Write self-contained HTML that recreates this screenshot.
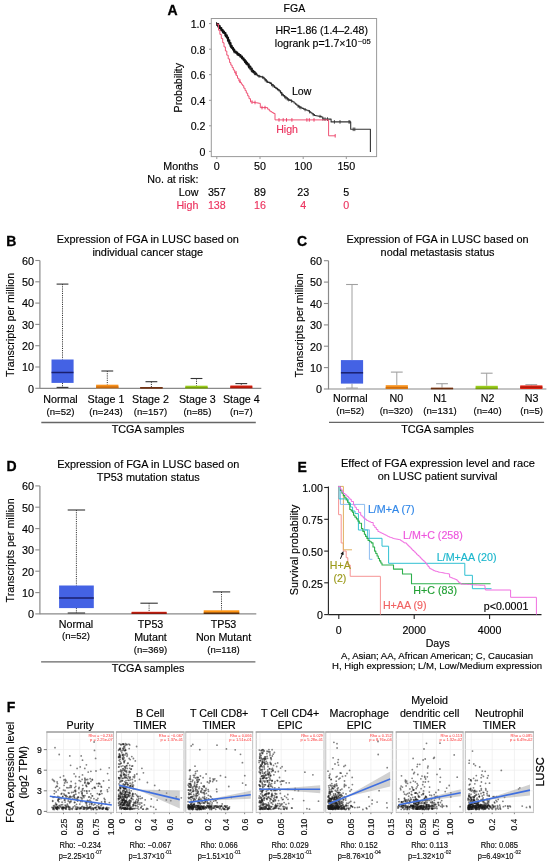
<!DOCTYPE html>
<html><head><meta charset="utf-8"><style>
html,body{margin:0;padding:0;background:#fff;}
svg{display:block;will-change:transform;}
text{font-family:"Liberation Sans",sans-serif;}
</style></head><body>
<svg width="550" height="865" viewBox="0 0 550 865" font-family="Liberation Sans, sans-serif">
<rect width="550" height="865" fill="#fff"/>
<text x="167.6" y="15.0" font-size="14" text-anchor="start" fill="#000" font-weight="bold" stroke="#000" stroke-width="0.3">A</text>
<text x="294.4" y="12.2" font-size="10.5" text-anchor="middle" fill="#000" stroke="#000" stroke-width="0.15" >FGA</text>
<rect x="211.3" y="18.5" width="165.3" height="138.1" fill="none" stroke="#9a9a9a" stroke-width="1"/>
<line x1="209.0" y1="23.6" x2="211.3" y2="23.6" stroke="#9a9a9a" stroke-width="1" />
<text x="205.4" y="28.1" font-size="10.6" text-anchor="end" fill="#000" stroke="#000" stroke-width="0.15" >1.0</text>
<line x1="209.0" y1="49.2" x2="211.3" y2="49.2" stroke="#9a9a9a" stroke-width="1" />
<text x="205.4" y="53.7" font-size="10.6" text-anchor="end" fill="#000" stroke="#000" stroke-width="0.15" >0.8</text>
<line x1="209.0" y1="74.7" x2="211.3" y2="74.7" stroke="#9a9a9a" stroke-width="1" />
<text x="205.4" y="79.2" font-size="10.6" text-anchor="end" fill="#000" stroke="#000" stroke-width="0.15" >0.6</text>
<line x1="209.0" y1="100.3" x2="211.3" y2="100.3" stroke="#9a9a9a" stroke-width="1" />
<text x="205.4" y="104.8" font-size="10.6" text-anchor="end" fill="#000" stroke="#000" stroke-width="0.15" >0.4</text>
<line x1="209.0" y1="125.8" x2="211.3" y2="125.8" stroke="#9a9a9a" stroke-width="1" />
<text x="205.4" y="130.3" font-size="10.6" text-anchor="end" fill="#000" stroke="#000" stroke-width="0.15" >0.2</text>
<line x1="209.0" y1="151.4" x2="211.3" y2="151.4" stroke="#9a9a9a" stroke-width="1" />
<text x="205.4" y="155.9" font-size="10.6" text-anchor="end" fill="#000" stroke="#000" stroke-width="0.15" >0</text>
<line x1="216.8" y1="156.6" x2="216.8" y2="159.0" stroke="#9a9a9a" stroke-width="1" />
<text x="216.8" y="170.3" font-size="10.7" text-anchor="middle" fill="#000" stroke="#000" stroke-width="0.15" >0</text>
<line x1="260.0" y1="156.6" x2="260.0" y2="159.0" stroke="#9a9a9a" stroke-width="1" />
<text x="260.0" y="170.3" font-size="10.7" text-anchor="middle" fill="#000" stroke="#000" stroke-width="0.15" >50</text>
<line x1="303.2" y1="156.6" x2="303.2" y2="159.0" stroke="#9a9a9a" stroke-width="1" />
<text x="303.2" y="170.3" font-size="10.7" text-anchor="middle" fill="#000" stroke="#000" stroke-width="0.15" >100</text>
<line x1="346.3" y1="156.6" x2="346.3" y2="159.0" stroke="#9a9a9a" stroke-width="1" />
<text x="346.3" y="170.3" font-size="10.7" text-anchor="middle" fill="#000" stroke="#000" stroke-width="0.15" >150</text>
<text transform="translate(178.3,87.7) rotate(-90)" x="0" y="0" font-size="10.6" text-anchor="middle" dominant-baseline="central" fill="#000" stroke="#000" stroke-width="0.15" >Probability</text>
<text x="275.4" y="33.8" font-size="10.5" text-anchor="start" fill="#000" stroke="#000" stroke-width="0.15" >HR=1.86 (1.4&#8211;2.48)</text>
<text x="274.8" y="46.5" font-size="10.6" text-anchor="start" fill="#000" stroke="#000" stroke-width="0.15" >logrank p=1.7&#215;10<tspan font-size="7.6" dx="0.6" dy="-3.0">&#8722;05</tspan></text>
<text x="198.4" y="170.2" font-size="10.7" text-anchor="end" fill="#000" stroke="#000" stroke-width="0.15" >Months</text>
<text x="198.4" y="183.1" font-size="10.7" text-anchor="end" fill="#000" stroke="#000" stroke-width="0.15" >No. at risk:</text>
<text x="198.4" y="196.1" font-size="10.7" text-anchor="end" fill="#000" stroke="#000" stroke-width="0.15" >Low</text>
<text x="198.4" y="208.9" font-size="10.7" text-anchor="end" fill="#ec3560" stroke="#ec3560" stroke-width="0.15" >High</text>
<text x="216.8" y="196.1" font-size="10.7" text-anchor="middle" fill="#000" stroke="#000" stroke-width="0.15" >357</text>
<text x="216.8" y="208.9" font-size="10.7" text-anchor="middle" fill="#ec3560" stroke="#ec3560" stroke-width="0.15" >138</text>
<text x="260.0" y="196.1" font-size="10.7" text-anchor="middle" fill="#000" stroke="#000" stroke-width="0.15" >89</text>
<text x="260.0" y="208.9" font-size="10.7" text-anchor="middle" fill="#ec3560" stroke="#ec3560" stroke-width="0.15" >16</text>
<text x="303.2" y="196.1" font-size="10.7" text-anchor="middle" fill="#000" stroke="#000" stroke-width="0.15" >23</text>
<text x="303.2" y="208.9" font-size="10.7" text-anchor="middle" fill="#ec3560" stroke="#ec3560" stroke-width="0.15" >4</text>
<text x="346.3" y="196.1" font-size="10.7" text-anchor="middle" fill="#000" stroke="#000" stroke-width="0.15" >5</text>
<text x="346.3" y="208.9" font-size="10.7" text-anchor="middle" fill="#ec3560" stroke="#ec3560" stroke-width="0.15" >0</text>
<text x="291.9" y="94.9" font-size="10.6" text-anchor="start" fill="#000" stroke="#000" stroke-width="0.15" >Low</text>
<text x="276.2" y="133.0" font-size="10.6" text-anchor="start" fill="#ec3560" stroke="#ec3560" stroke-width="0.15" >High</text>
<polyline points="216.6,24.0 218.2,24.0 218.2,26.1 219.7,26.1 219.7,28.1 221.3,28.1 221.3,30.2 222.7,30.2 222.7,31.6 224.0,31.6 224.0,33.0 225.4,33.0 225.4,35.3 226.8,35.3 226.8,37.6 228.0,37.6 228.0,40.4 229.3,40.4 229.3,43.1 230.5,43.1 230.5,45.9 231.7,45.9 231.7,47.8 233.0,47.8 233.0,49.6 234.2,49.6 234.2,51.5 235.8,51.5 235.8,52.7 237.3,52.7 237.3,54.0 238.9,54.0 238.9,55.2 240.4,55.2 240.4,56.7 242.0,56.7 242.0,58.3 243.5,58.3 243.5,59.8 244.7,59.8 244.7,61.3 246.0,61.3 246.0,62.9 247.2,62.9 247.2,64.4 248.7,64.4 248.7,66.6 250.3,66.6 250.3,68.7 251.8,68.7 251.8,70.9 253.3,70.9 253.3,72.2 254.7,72.2 254.7,73.6 256.2,73.6 256.2,74.9" fill="none" stroke="#111" stroke-width="2.2" stroke-linejoin="round" />
<polyline points="256.2,73.6 256.2,74.9 257.6,74.9 257.6,75.7 259.1,75.7 259.1,76.4 260.9,76.4 260.9,76.9 262.7,76.9 262.7,77.4 264.0,77.4 264.0,78.8 265.2,78.8 265.2,80.0 266.4,80.0 266.4,81.1 267.6,81.1 267.6,82.3 270.0,82.3 270.0,83.2 271.5,83.2 271.5,84.6 273.0,84.6 273.0,85.9 274.5,85.9 274.5,87.3 276.0,87.3 276.0,88.5 277.6,88.5 277.6,89.7 279.1,89.7 279.1,90.9 280.5,90.9 280.5,92.7 281.8,92.7 281.8,94.5 283.2,94.5 283.2,95.7 284.6,95.7 284.6,96.8 285.9,96.8 285.9,97.9 287.3,97.9 287.3,99.1 288.6,99.1 288.6,99.8 290.0,99.8 290.0,100.4 291.4,100.4 291.4,101.1" fill="none" stroke="#2a2a2a" stroke-width="1.35" stroke-linejoin="round" />
<polyline points="290.0,99.8 290.0,100.4 291.4,100.4 291.4,101.1 292.7,101.1 292.7,101.8 294.1,101.8 294.1,103.0 295.4,103.0 295.4,104.1 296.8,104.1 296.8,105.2 298.2,105.2 298.2,106.4 299.6,106.4 299.6,107.1 300.9,107.1 300.9,107.8 302.2,107.8 302.2,108.4 303.6,108.4 303.6,109.1 305.1,109.1 305.1,109.7 306.7,109.7 306.7,110.3 308.2,110.3 308.2,110.9 309.5,110.9 309.5,111.8 310.7,111.8 310.7,112.7 312.0,112.7 312.0,113.7 313.2,113.7 313.2,114.6 314.5,114.6 314.5,115.5 315.9,115.5 315.9,115.7 317.2,115.7 317.2,116.0 318.6,116.0 318.6,116.2 320.0,116.2 320.0,116.4 321.3,116.4 321.3,117.0 322.9,117.0 322.9,119.1 329.5,119.1 329.5,119.1 331.1,119.1 331.1,121.9 349.9,121.9 349.9,121.9 350.7,121.9 350.7,129.3 370.4,129.3 370.4,129.3 370.4,129.3 370.4,151.9" fill="none" stroke="#333" stroke-width="1.1" stroke-linejoin="round" />
<line x1="250.3" y1="67.1" x2="250.3" y2="70.3" stroke="#333" stroke-width="0.8" />
<line x1="251.8" y1="69.3" x2="251.8" y2="72.5" stroke="#333" stroke-width="0.8" />
<line x1="254.7" y1="72.0" x2="254.7" y2="75.2" stroke="#333" stroke-width="0.8" />
<line x1="259.1" y1="74.8" x2="259.1" y2="78.0" stroke="#333" stroke-width="0.8" />
<line x1="262.7" y1="75.8" x2="262.7" y2="79.0" stroke="#333" stroke-width="0.8" />
<line x1="265.2" y1="78.4" x2="265.2" y2="81.6" stroke="#333" stroke-width="0.8" />
<line x1="266.4" y1="79.5" x2="266.4" y2="82.7" stroke="#333" stroke-width="0.8" />
<line x1="271.5" y1="83.0" x2="271.5" y2="86.2" stroke="#333" stroke-width="0.8" />
<line x1="273.0" y1="84.3" x2="273.0" y2="87.5" stroke="#333" stroke-width="0.8" />
<line x1="281.8" y1="92.9" x2="281.8" y2="96.1" stroke="#333" stroke-width="0.8" />
<line x1="284.6" y1="95.2" x2="284.6" y2="98.4" stroke="#333" stroke-width="0.8" />
<line x1="285.9" y1="96.3" x2="285.9" y2="99.5" stroke="#333" stroke-width="0.8" />
<line x1="287.3" y1="97.5" x2="287.3" y2="100.7" stroke="#333" stroke-width="0.8" />
<line x1="288.6" y1="98.2" x2="288.6" y2="101.4" stroke="#333" stroke-width="0.8" />
<line x1="291.4" y1="99.5" x2="291.4" y2="102.7" stroke="#333" stroke-width="0.8" />
<line x1="298.2" y1="104.8" x2="298.2" y2="108.0" stroke="#333" stroke-width="0.8" />
<line x1="299.6" y1="105.5" x2="299.6" y2="108.7" stroke="#333" stroke-width="0.8" />
<line x1="300.9" y1="106.2" x2="300.9" y2="109.3" stroke="#333" stroke-width="0.8" />
<line x1="305.1" y1="108.1" x2="305.1" y2="111.3" stroke="#333" stroke-width="0.8" />
<line x1="309.5" y1="110.2" x2="309.5" y2="113.4" stroke="#333" stroke-width="0.8" />
<line x1="313.2" y1="113.0" x2="313.2" y2="116.2" stroke="#333" stroke-width="0.8" />
<line x1="320.0" y1="114.8" x2="320.0" y2="118.0" stroke="#333" stroke-width="0.8" />
<line x1="322.9" y1="117.5" x2="322.9" y2="120.7" stroke="#333" stroke-width="0.8" />
<line x1="349.9" y1="120.3" x2="349.9" y2="123.5" stroke="#333" stroke-width="0.8" />
<line x1="216.6" y1="22.2" x2="216.6" y2="25.8" stroke="#111" stroke-width="1" />
<line x1="218.2" y1="24.3" x2="218.2" y2="27.9" stroke="#111" stroke-width="1" />
<line x1="222.7" y1="29.8" x2="222.7" y2="33.4" stroke="#111" stroke-width="1" />
<line x1="225.4" y1="33.5" x2="225.4" y2="37.1" stroke="#111" stroke-width="1" />
<line x1="228.0" y1="38.6" x2="228.0" y2="42.2" stroke="#111" stroke-width="1" />
<line x1="229.3" y1="41.3" x2="229.3" y2="44.9" stroke="#111" stroke-width="1" />
<line x1="230.5" y1="44.1" x2="230.5" y2="47.7" stroke="#111" stroke-width="1" />
<line x1="234.2" y1="49.7" x2="234.2" y2="53.3" stroke="#111" stroke-width="1" />
<line x1="237.3" y1="52.2" x2="237.3" y2="55.8" stroke="#111" stroke-width="1" />
<line x1="244.7" y1="59.5" x2="244.7" y2="63.1" stroke="#111" stroke-width="1" />
<line x1="246.0" y1="61.1" x2="246.0" y2="64.7" stroke="#111" stroke-width="1" />
<line x1="248.7" y1="64.8" x2="248.7" y2="68.4" stroke="#111" stroke-width="1" />
<line x1="334.4" y1="120.1" x2="334.4" y2="123.7" stroke="#333" stroke-width="0.9" />
<line x1="340.0" y1="120.1" x2="340.0" y2="123.7" stroke="#333" stroke-width="0.9" />
<line x1="349.0" y1="120.1" x2="349.0" y2="123.7" stroke="#333" stroke-width="0.9" />
<line x1="353.2" y1="127.5" x2="353.2" y2="131.1" stroke="#333" stroke-width="0.9" />
<line x1="354.8" y1="127.5" x2="354.8" y2="131.1" stroke="#333" stroke-width="0.9" />
<line x1="325.0" y1="117.3" x2="325.0" y2="120.9" stroke="#333" stroke-width="0.9" />
<line x1="327.5" y1="117.3" x2="327.5" y2="120.9" stroke="#333" stroke-width="0.9" />
<polyline points="216.6,24.2 218.5,24.2 218.5,30.2 219.9,30.2 219.9,34.4 221.3,34.4 221.3,38.5 222.7,38.5 222.7,42.7 224.0,42.7 224.0,46.9 225.4,46.9 225.4,51.0 226.8,51.0 226.8,55.2 228.2,55.2 228.2,58.9 229.6,58.9 229.6,62.6 230.8,62.6 230.8,65.1 232.1,65.1 232.1,67.5 233.3,67.5 233.3,70.0 234.7,70.0 234.7,72.8 236.1,72.8 236.1,75.6 237.5,75.6 237.5,78.3 238.9,78.3 238.9,81.1 240.1,81.1 240.1,82.6 241.4,82.6 241.4,84.2 242.6,84.2 242.6,85.7 243.8,85.7 243.8,88.2 245.1,88.2 245.1,90.6 246.3,90.6 246.3,93.1 247.7,93.1 247.7,95.9 249.0,95.9 249.0,98.7 250.5,98.7 250.5,101.9 251.7,101.9 251.7,102.1 252.9,102.1 252.9,102.3 254.2,102.3 254.2,102.5 255.4,102.5 255.4,102.7 256.6,102.7 256.6,102.9 257.9,102.9 257.9,103.1 259.1,103.1 259.1,103.3 260.3,103.3 260.3,103.5 260.3,103.5 260.3,107.6 266.0,107.6 266.0,107.6 267.6,107.6 267.6,109.2 269.3,109.2 269.3,110.9 270.7,110.9 270.7,111.7 272.0,111.7 272.0,112.6 273.4,112.6 273.4,113.4 275.0,113.4 275.0,119.9 328.6,119.9 328.6,119.9 328.6,119.9 328.6,135.8 335.2,135.8 335.2,135.8" fill="none" stroke="#ee4a6e" stroke-width="0.95" stroke-linejoin="round" />
<line x1="279.0" y1="118.1" x2="279.0" y2="121.7" stroke="#ec3560" stroke-width="0.9" />
<line x1="283.2" y1="118.1" x2="283.2" y2="121.7" stroke="#ec3560" stroke-width="0.9" />
<line x1="286.5" y1="118.1" x2="286.5" y2="121.7" stroke="#ec3560" stroke-width="0.9" />
<line x1="291.9" y1="118.1" x2="291.9" y2="121.7" stroke="#ec3560" stroke-width="0.9" />
<line x1="306.9" y1="118.1" x2="306.9" y2="121.7" stroke="#ec3560" stroke-width="0.9" />
<line x1="309.3" y1="118.1" x2="309.3" y2="121.7" stroke="#ec3560" stroke-width="0.9" />
<line x1="314.0" y1="118.1" x2="314.0" y2="121.7" stroke="#ec3560" stroke-width="0.9" />
<line x1="255.0" y1="100.7" x2="255.0" y2="104.3" stroke="#ec3560" stroke-width="0.9" />
<line x1="252.0" y1="100.3" x2="252.0" y2="103.9" stroke="#ec3560" stroke-width="0.9" />
<line x1="236.0" y1="71.0" x2="236.0" y2="74.6" stroke="#ec3560" stroke-width="0.9" />
<line x1="240.0" y1="79.3" x2="240.0" y2="82.9" stroke="#ec3560" stroke-width="0.9" />
<line x1="262.0" y1="105.8" x2="262.0" y2="109.4" stroke="#ec3560" stroke-width="0.9" />
<line x1="265.0" y1="105.8" x2="265.0" y2="109.4" stroke="#ec3560" stroke-width="0.9" />
<line x1="335.2" y1="134.0" x2="335.2" y2="137.6" stroke="#ec3560" stroke-width="0.9" />
<text x="6.2" y="245.8" font-size="14" text-anchor="start" fill="#000" font-weight="bold" stroke="#000" stroke-width="0.3">B</text>
<text x="147.8" y="242.7" font-size="10.9" text-anchor="middle" fill="#000" stroke="#000" stroke-width="0.15" >Expression of FGA in LUSC based on</text>
<text x="147.8" y="255.6" font-size="10.9" text-anchor="middle" fill="#000" stroke="#000" stroke-width="0.15" >individual cancer stage</text>
<line x1="39.9" y1="260.5" x2="39.9" y2="388.6" stroke="#8a8a8a" stroke-width="1.2" />
<line x1="39.9" y1="388.3" x2="261.3" y2="388.3" stroke="#8a8a8a" stroke-width="1.2" />
<line x1="35.3" y1="388.3" x2="39.9" y2="388.3" stroke="#8a8a8a" stroke-width="1.1" />
<text x="33.9" y="392.6" font-size="10.8" text-anchor="end" fill="#000" stroke="#000" stroke-width="0.15" >0</text>
<line x1="35.3" y1="367.0" x2="39.9" y2="367.0" stroke="#8a8a8a" stroke-width="1.1" />
<text x="33.9" y="371.3" font-size="10.8" text-anchor="end" fill="#000" stroke="#000" stroke-width="0.15" >10</text>
<line x1="35.3" y1="345.7" x2="39.9" y2="345.7" stroke="#8a8a8a" stroke-width="1.1" />
<text x="33.9" y="350.0" font-size="10.8" text-anchor="end" fill="#000" stroke="#000" stroke-width="0.15" >20</text>
<line x1="35.3" y1="324.4" x2="39.9" y2="324.4" stroke="#8a8a8a" stroke-width="1.1" />
<text x="33.9" y="328.7" font-size="10.8" text-anchor="end" fill="#000" stroke="#000" stroke-width="0.15" >30</text>
<line x1="35.3" y1="303.1" x2="39.9" y2="303.1" stroke="#8a8a8a" stroke-width="1.1" />
<text x="33.9" y="307.4" font-size="10.8" text-anchor="end" fill="#000" stroke="#000" stroke-width="0.15" >40</text>
<line x1="35.3" y1="281.8" x2="39.9" y2="281.8" stroke="#8a8a8a" stroke-width="1.1" />
<text x="33.9" y="286.1" font-size="10.8" text-anchor="end" fill="#000" stroke="#000" stroke-width="0.15" >50</text>
<line x1="35.3" y1="260.5" x2="39.9" y2="260.5" stroke="#8a8a8a" stroke-width="1.1" />
<text x="33.9" y="264.8" font-size="10.8" text-anchor="end" fill="#000" stroke="#000" stroke-width="0.15" >60</text>
<text transform="translate(10.0,324.9) rotate(-90)" x="0" y="0" font-size="10.7" text-anchor="middle" dominant-baseline="central" fill="#000" stroke="#000" stroke-width="0.15" >Transcripts per million</text>
<line x1="62.5" y1="284.1" x2="62.5" y2="359.5" stroke="#333" stroke-width="1.0" stroke-dasharray="1.1,1.1"/>
<line x1="56.6" y1="284.1" x2="68.4" y2="284.1" stroke="#333" stroke-width="1.1" />
<line x1="62.5" y1="383.0" x2="62.5" y2="387.4" stroke="#333" stroke-width="1.0" stroke-dasharray="1.1,1.1"/>
<line x1="56.6" y1="387.4" x2="68.4" y2="387.4" stroke="#333" stroke-width="1.1" />
<rect x="51.5" y="359.5" width="22.1" height="23.4" fill="#4462e4" />
<line x1="51.5" y1="372.5" x2="73.5" y2="372.5" stroke="#1a1f6e" stroke-width="1.5" />
<line x1="107.3" y1="371.0" x2="107.3" y2="384.7" stroke="#333" stroke-width="1.0" stroke-dasharray="1.1,1.1"/>
<line x1="101.4" y1="371.0" x2="113.2" y2="371.0" stroke="#333" stroke-width="1.1" />
<rect x="96.1" y="384.7" width="22.3" height="3.6" fill="#f7901a" />
<line x1="96.1" y1="387.2" x2="118.5" y2="387.2" stroke="#c86a10" stroke-width="1.5" />
<line x1="151.4" y1="381.7" x2="151.4" y2="387.0" stroke="#333" stroke-width="1.0" stroke-dasharray="1.1,1.1"/>
<line x1="145.5" y1="381.7" x2="157.3" y2="381.7" stroke="#333" stroke-width="1.1" />
<rect x="140.2" y="387.0" width="22.3" height="1.3" fill="#a0522d" />
<line x1="140.2" y1="387.9" x2="162.6" y2="387.9" stroke="#6b3010" stroke-width="1.5" />
<line x1="196.5" y1="378.5" x2="196.5" y2="385.7" stroke="#333" stroke-width="1.0" stroke-dasharray="1.1,1.1"/>
<line x1="190.6" y1="378.5" x2="202.4" y2="378.5" stroke="#333" stroke-width="1.1" />
<rect x="185.3" y="385.7" width="22.3" height="2.6" fill="#9acd1e" />
<line x1="185.3" y1="387.7" x2="207.7" y2="387.7" stroke="#7aa010" stroke-width="1.5" />
<line x1="241.3" y1="383.6" x2="241.3" y2="385.5" stroke="#333" stroke-width="1.0" stroke-dasharray="1.1,1.1"/>
<line x1="235.4" y1="383.6" x2="247.2" y2="383.6" stroke="#333" stroke-width="1.1" />
<rect x="230.3" y="385.5" width="22.0" height="2.8" fill="#e42414" />
<line x1="230.3" y1="387.2" x2="252.3" y2="387.2" stroke="#b01a0a" stroke-width="1.5" />
<text x="60.5" y="402.6" font-size="10.7" text-anchor="middle" fill="#000" stroke="#000" stroke-width="0.15" >Normal</text>
<text x="60.5" y="414.5" font-size="9.6" text-anchor="middle" fill="#000" stroke="#000" stroke-width="0.15" >(n=52)</text>
<text x="106.0" y="402.6" font-size="10.7" text-anchor="middle" fill="#000" stroke="#000" stroke-width="0.15" >Stage 1</text>
<text x="106.0" y="414.5" font-size="9.6" text-anchor="middle" fill="#000" stroke="#000" stroke-width="0.15" >(n=243)</text>
<text x="150.5" y="402.6" font-size="10.7" text-anchor="middle" fill="#000" stroke="#000" stroke-width="0.15" >Stage 2</text>
<text x="150.5" y="414.5" font-size="9.6" text-anchor="middle" fill="#000" stroke="#000" stroke-width="0.15" >(n=157)</text>
<text x="197.4" y="402.6" font-size="10.7" text-anchor="middle" fill="#000" stroke="#000" stroke-width="0.15" >Stage 3</text>
<text x="197.4" y="414.5" font-size="9.6" text-anchor="middle" fill="#000" stroke="#000" stroke-width="0.15" >(n=85)</text>
<text x="241.3" y="402.6" font-size="10.7" text-anchor="middle" fill="#000" stroke="#000" stroke-width="0.15" >Stage 4</text>
<text x="241.3" y="414.5" font-size="9.6" text-anchor="middle" fill="#000" stroke="#000" stroke-width="0.15" >(n=7)</text>
<line x1="41.3" y1="422.5" x2="255.8" y2="422.5" stroke="#666" stroke-width="1.3" />
<text x="148.0" y="433.2" font-size="10.8" text-anchor="middle" fill="#000" stroke="#000" stroke-width="0.15" >TCGA samples</text>
<text x="297.0" y="246.0" font-size="14" text-anchor="start" fill="#000" font-weight="bold" stroke="#000" stroke-width="0.3">C</text>
<text x="437.5" y="242.7" font-size="10.9" text-anchor="middle" fill="#000" stroke="#000" stroke-width="0.15" >Expression of FGA in LUSC based on</text>
<text x="437.5" y="255.5" font-size="10.9" text-anchor="middle" fill="#000" stroke="#000" stroke-width="0.15" >nodal metastasis status</text>
<line x1="328.5" y1="260.7" x2="328.5" y2="389.3" stroke="#8a8a8a" stroke-width="1.2" />
<line x1="328.5" y1="389.0" x2="546.4" y2="389.0" stroke="#8a8a8a" stroke-width="1.2" />
<line x1="323.9" y1="389.0" x2="328.5" y2="389.0" stroke="#8a8a8a" stroke-width="1.1" />
<text x="321.9" y="393.3" font-size="10.8" text-anchor="end" fill="#000" stroke="#000" stroke-width="0.15" >0</text>
<line x1="323.9" y1="367.6" x2="328.5" y2="367.6" stroke="#8a8a8a" stroke-width="1.1" />
<text x="321.9" y="371.9" font-size="10.8" text-anchor="end" fill="#000" stroke="#000" stroke-width="0.15" >10</text>
<line x1="323.9" y1="346.2" x2="328.5" y2="346.2" stroke="#8a8a8a" stroke-width="1.1" />
<text x="321.9" y="350.5" font-size="10.8" text-anchor="end" fill="#000" stroke="#000" stroke-width="0.15" >20</text>
<line x1="323.9" y1="324.9" x2="328.5" y2="324.9" stroke="#8a8a8a" stroke-width="1.1" />
<text x="321.9" y="329.2" font-size="10.8" text-anchor="end" fill="#000" stroke="#000" stroke-width="0.15" >30</text>
<line x1="323.9" y1="303.5" x2="328.5" y2="303.5" stroke="#8a8a8a" stroke-width="1.1" />
<text x="321.9" y="307.8" font-size="10.8" text-anchor="end" fill="#000" stroke="#000" stroke-width="0.15" >40</text>
<line x1="323.9" y1="282.1" x2="328.5" y2="282.1" stroke="#8a8a8a" stroke-width="1.1" />
<text x="321.9" y="286.4" font-size="10.8" text-anchor="end" fill="#000" stroke="#000" stroke-width="0.15" >50</text>
<line x1="323.9" y1="260.7" x2="328.5" y2="260.7" stroke="#8a8a8a" stroke-width="1.1" />
<text x="321.9" y="265.0" font-size="10.8" text-anchor="end" fill="#000" stroke="#000" stroke-width="0.15" >60</text>
<text transform="translate(298.6,325.4) rotate(-90)" x="0" y="0" font-size="10.7" text-anchor="middle" dominant-baseline="central" fill="#000" stroke="#000" stroke-width="0.15" >Transcripts per million</text>
<line x1="352.0" y1="284.5" x2="352.0" y2="360.1" stroke="#a0a0a0" stroke-width="1.0" />
<line x1="346.1" y1="284.5" x2="357.9" y2="284.5" stroke="#a0a0a0" stroke-width="1.1" />
<line x1="352.0" y1="383.7" x2="352.0" y2="388.1" stroke="#a0a0a0" stroke-width="1.0" />
<line x1="346.1" y1="388.1" x2="357.9" y2="388.1" stroke="#a0a0a0" stroke-width="1.1" />
<rect x="340.9" y="360.1" width="22.2" height="23.5" fill="#4462e4" />
<line x1="340.9" y1="372.8" x2="363.1" y2="372.8" stroke="#1a1f6e" stroke-width="1.5" />
<line x1="396.8" y1="372.1" x2="396.8" y2="385.2" stroke="#a0a0a0" stroke-width="1.0" />
<line x1="390.9" y1="372.1" x2="402.7" y2="372.1" stroke="#a0a0a0" stroke-width="1.1" />
<rect x="385.7" y="385.2" width="22.2" height="3.8" fill="#f7901a" />
<line x1="385.7" y1="387.9" x2="407.9" y2="387.9" stroke="#c86a10" stroke-width="1.5" />
<line x1="442.0" y1="383.7" x2="442.0" y2="387.7" stroke="#a0a0a0" stroke-width="1.0" />
<line x1="436.1" y1="383.7" x2="447.9" y2="383.7" stroke="#a0a0a0" stroke-width="1.1" />
<rect x="430.9" y="387.7" width="22.2" height="1.3" fill="#a0522d" />
<line x1="430.9" y1="388.6" x2="453.1" y2="388.6" stroke="#6b3010" stroke-width="1.5" />
<line x1="486.7" y1="373.2" x2="486.7" y2="385.8" stroke="#a0a0a0" stroke-width="1.0" />
<line x1="480.8" y1="373.2" x2="492.6" y2="373.2" stroke="#a0a0a0" stroke-width="1.1" />
<rect x="475.6" y="385.8" width="22.2" height="3.2" fill="#9acd1e" />
<line x1="475.6" y1="388.4" x2="497.8" y2="388.4" stroke="#7aa010" stroke-width="1.5" />
<line x1="531.3" y1="384.7" x2="531.3" y2="385.4" stroke="#a0a0a0" stroke-width="1.0" />
<line x1="525.4" y1="384.7" x2="537.2" y2="384.7" stroke="#a0a0a0" stroke-width="1.1" />
<rect x="520.2" y="385.4" width="22.2" height="3.6" fill="#e42414" />
<line x1="520.2" y1="387.3" x2="542.4" y2="387.3" stroke="#b01a0a" stroke-width="1.5" />
<text x="350.3" y="402.4" font-size="10.7" text-anchor="middle" fill="#000" stroke="#000" stroke-width="0.15" >Normal</text>
<text x="350.3" y="413.5" font-size="9.6" text-anchor="middle" fill="#000" stroke="#000" stroke-width="0.15" >(n=52)</text>
<text x="396.3" y="402.4" font-size="10.7" text-anchor="middle" fill="#000" stroke="#000" stroke-width="0.15" >N0</text>
<text x="396.3" y="413.5" font-size="9.6" text-anchor="middle" fill="#000" stroke="#000" stroke-width="0.15" >(n=320)</text>
<text x="440.0" y="402.4" font-size="10.7" text-anchor="middle" fill="#000" stroke="#000" stroke-width="0.15" >N1</text>
<text x="440.0" y="413.5" font-size="9.6" text-anchor="middle" fill="#000" stroke="#000" stroke-width="0.15" >(n=131)</text>
<text x="487.6" y="402.4" font-size="10.7" text-anchor="middle" fill="#000" stroke="#000" stroke-width="0.15" >N2</text>
<text x="487.6" y="413.5" font-size="9.6" text-anchor="middle" fill="#000" stroke="#000" stroke-width="0.15" >(n=40)</text>
<text x="531.7" y="402.4" font-size="10.7" text-anchor="middle" fill="#000" stroke="#000" stroke-width="0.15" >N3</text>
<text x="531.7" y="413.5" font-size="9.6" text-anchor="middle" fill="#000" stroke="#000" stroke-width="0.15" >(n=5)</text>
<line x1="329.0" y1="422.3" x2="544.1" y2="422.3" stroke="#666" stroke-width="1.3" />
<text x="437.5" y="432.6" font-size="10.8" text-anchor="middle" fill="#000" stroke="#000" stroke-width="0.15" >TCGA samples</text>
<text x="6.6" y="471.4" font-size="14" text-anchor="start" fill="#000" font-weight="bold" stroke="#000" stroke-width="0.3">D</text>
<text x="148.3" y="468.4" font-size="10.9" text-anchor="middle" fill="#000" stroke="#000" stroke-width="0.15" >Expression of FGA in LUSC based on</text>
<text x="148.3" y="481.1" font-size="10.9" text-anchor="middle" fill="#000" stroke="#000" stroke-width="0.15" >TP53 mutation status</text>
<line x1="39.9" y1="485.9" x2="39.9" y2="614.2" stroke="#8a8a8a" stroke-width="1.2" />
<line x1="39.9" y1="613.9" x2="256.3" y2="613.9" stroke="#8a8a8a" stroke-width="1.2" />
<line x1="35.3" y1="613.9" x2="39.9" y2="613.9" stroke="#8a8a8a" stroke-width="1.1" />
<text x="33.9" y="618.2" font-size="10.8" text-anchor="end" fill="#000" stroke="#000" stroke-width="0.15" >0</text>
<line x1="35.3" y1="592.6" x2="39.9" y2="592.6" stroke="#8a8a8a" stroke-width="1.1" />
<text x="33.9" y="596.9" font-size="10.8" text-anchor="end" fill="#000" stroke="#000" stroke-width="0.15" >10</text>
<line x1="35.3" y1="571.2" x2="39.9" y2="571.2" stroke="#8a8a8a" stroke-width="1.1" />
<text x="33.9" y="575.5" font-size="10.8" text-anchor="end" fill="#000" stroke="#000" stroke-width="0.15" >20</text>
<line x1="35.3" y1="549.9" x2="39.9" y2="549.9" stroke="#8a8a8a" stroke-width="1.1" />
<text x="33.9" y="554.2" font-size="10.8" text-anchor="end" fill="#000" stroke="#000" stroke-width="0.15" >30</text>
<line x1="35.3" y1="528.6" x2="39.9" y2="528.6" stroke="#8a8a8a" stroke-width="1.1" />
<text x="33.9" y="532.9" font-size="10.8" text-anchor="end" fill="#000" stroke="#000" stroke-width="0.15" >40</text>
<line x1="35.3" y1="507.2" x2="39.9" y2="507.2" stroke="#8a8a8a" stroke-width="1.1" />
<text x="33.9" y="511.6" font-size="10.8" text-anchor="end" fill="#000" stroke="#000" stroke-width="0.15" >50</text>
<line x1="35.3" y1="485.9" x2="39.9" y2="485.9" stroke="#8a8a8a" stroke-width="1.1" />
<text x="33.9" y="490.2" font-size="10.8" text-anchor="end" fill="#000" stroke="#000" stroke-width="0.15" >60</text>
<text transform="translate(10.0,550.4) rotate(-90)" x="0" y="0" font-size="10.7" text-anchor="middle" dominant-baseline="central" fill="#000" stroke="#000" stroke-width="0.15" >Transcripts per million</text>
<line x1="76.4" y1="510.0" x2="76.4" y2="585.5" stroke="#333" stroke-width="1.0" stroke-dasharray="1.1,1.1"/>
<line x1="67.7" y1="510.0" x2="85.1" y2="510.0" stroke="#333" stroke-width="1.1" />
<line x1="76.4" y1="608.1" x2="76.4" y2="613.0" stroke="#333" stroke-width="1.0" stroke-dasharray="1.1,1.1"/>
<line x1="67.7" y1="613.0" x2="85.1" y2="613.0" stroke="#333" stroke-width="1.1" />
<rect x="59.1" y="585.5" width="34.7" height="22.6" fill="#4462e4" />
<line x1="59.1" y1="597.9" x2="93.8" y2="597.9" stroke="#1a1f6e" stroke-width="1.5" />
<line x1="149.1" y1="603.2" x2="149.1" y2="611.8" stroke="#333" stroke-width="1.0" stroke-dasharray="1.1,1.1"/>
<line x1="140.4" y1="603.2" x2="157.8" y2="603.2" stroke="#333" stroke-width="1.1" />
<rect x="131.6" y="611.8" width="35.0" height="2.1" fill="#e8220e" />
<line x1="131.6" y1="613.2" x2="166.6" y2="613.2" stroke="#901a10" stroke-width="1.5" />
<line x1="221.5" y1="591.9" x2="221.5" y2="610.3" stroke="#333" stroke-width="1.0" stroke-dasharray="1.1,1.1"/>
<line x1="212.8" y1="591.9" x2="230.2" y2="591.9" stroke="#333" stroke-width="1.1" />
<rect x="203.7" y="610.3" width="35.6" height="3.6" fill="#ff9412" />
<line x1="203.7" y1="613.2" x2="239.3" y2="613.2" stroke="#5a3010" stroke-width="1.5" />
<text x="76.0" y="627.8" font-size="10.7" text-anchor="middle" fill="#000" stroke="#000" stroke-width="0.15" >Normal</text>
<text x="76.0" y="639.0" font-size="9.6" text-anchor="middle" fill="#000" stroke="#000" stroke-width="0.15" >(n=52)</text>
<text x="150.5" y="627.8" font-size="10.7" text-anchor="middle" fill="#000" stroke="#000" stroke-width="0.15" >TP53</text>
<text x="150.5" y="641.2" font-size="10.7" text-anchor="middle" fill="#000" stroke="#000" stroke-width="0.15" >Mutant</text>
<text x="150.5" y="653.2" font-size="9.6" text-anchor="middle" fill="#000" stroke="#000" stroke-width="0.15" >(n=369)</text>
<text x="223.5" y="627.8" font-size="10.7" text-anchor="middle" fill="#000" stroke="#000" stroke-width="0.15" >TP53</text>
<text x="223.5" y="641.2" font-size="10.7" text-anchor="middle" fill="#000" stroke="#000" stroke-width="0.15" >Non Mutant</text>
<text x="223.5" y="653.2" font-size="9.6" text-anchor="middle" fill="#000" stroke="#000" stroke-width="0.15" >(n=118)</text>
<line x1="41.1" y1="661.9" x2="255.4" y2="661.9" stroke="#666" stroke-width="1.3" />
<text x="148.0" y="672.2" font-size="10.8" text-anchor="middle" fill="#000" stroke="#000" stroke-width="0.15" >TCGA samples</text>
<text x="297.6" y="471.9" font-size="14" text-anchor="start" fill="#000" font-weight="bold" stroke="#000" stroke-width="0.3">E</text>
<text x="437.9" y="467.0" font-size="11.05" text-anchor="middle" fill="#000" stroke="#000" stroke-width="0.15" >Effect of FGA expression level and race</text>
<text x="437.6" y="479.5" font-size="10.9" text-anchor="middle" fill="#000" stroke="#000" stroke-width="0.15" >on LUSC patient survival</text>
<line x1="328.4" y1="486.5" x2="328.4" y2="614.6" stroke="#222" stroke-width="1.1" />
<line x1="328.4" y1="614.6" x2="541.5" y2="614.6" stroke="#222" stroke-width="1.1" />
<line x1="324.2" y1="487.5" x2="328.4" y2="487.5" stroke="#222" stroke-width="1.1" />
<text x="322.8" y="492.3" font-size="10.6" text-anchor="end" fill="#000" stroke="#000" stroke-width="0.15" >1.00</text>
<line x1="324.2" y1="519.3" x2="328.4" y2="519.3" stroke="#222" stroke-width="1.1" />
<text x="322.8" y="524.1" font-size="10.6" text-anchor="end" fill="#000" stroke="#000" stroke-width="0.15" >0.75</text>
<line x1="324.2" y1="551.1" x2="328.4" y2="551.1" stroke="#222" stroke-width="1.1" />
<text x="322.8" y="555.9" font-size="10.6" text-anchor="end" fill="#000" stroke="#000" stroke-width="0.15" >0.50</text>
<line x1="324.2" y1="582.8" x2="328.4" y2="582.8" stroke="#222" stroke-width="1.1" />
<text x="322.8" y="587.6" font-size="10.6" text-anchor="end" fill="#000" stroke="#000" stroke-width="0.15" >0.25</text>
<line x1="324.2" y1="614.6" x2="328.4" y2="614.6" stroke="#222" stroke-width="1.1" />
<text x="322.8" y="619.4" font-size="10.6" text-anchor="end" fill="#000" stroke="#000" stroke-width="0.15" >0</text>
<line x1="338.8" y1="614.6" x2="338.8" y2="619.0" stroke="#222" stroke-width="1.1" />
<text x="338.8" y="633.5" font-size="10.6" text-anchor="middle" fill="#000" stroke="#000" stroke-width="0.15" >0</text>
<line x1="414.2" y1="614.6" x2="414.2" y2="619.0" stroke="#222" stroke-width="1.1" />
<text x="414.2" y="633.5" font-size="10.6" text-anchor="middle" fill="#000" stroke="#000" stroke-width="0.15" >2000</text>
<line x1="489.6" y1="614.6" x2="489.6" y2="619.0" stroke="#222" stroke-width="1.1" />
<text x="489.6" y="633.5" font-size="10.6" text-anchor="middle" fill="#000" stroke="#000" stroke-width="0.15" >4000</text>
<text x="437.8" y="646.9" font-size="10.6" text-anchor="middle" fill="#000" stroke="#000" stroke-width="0.15" >Days</text>
<text x="437.1" y="658.6" font-size="9.55" text-anchor="middle" fill="#000" stroke="#000" stroke-width="0.15" >A, Asian; AA, African American; C, Caucasian</text>
<text x="437.1" y="669.2" font-size="9.55" text-anchor="middle" fill="#000" stroke="#000" stroke-width="0.15" >H, High expression; L/M, Low/Medium expression</text>
<text transform="translate(293.6,550.0) rotate(-90)" x="0" y="0" font-size="10.8" text-anchor="middle" dominant-baseline="central" fill="#000" stroke="#000" stroke-width="0.15" >Survival probability</text>
<polyline points="338.6,486.4 338.6,514.7 341.2,514.7 341.2,543.0 343.3,543.0 343.3,551.0 346.2,551.0 346.2,557.7 347.8,557.7 347.8,565.0 350.2,565.0 350.2,576.3 380.4,576.3 380.4,614.6" fill="none" stroke="#f69494" stroke-width="1.0" stroke-linejoin="round" />
<polyline points="338.3,486.4 343.4,486.4 343.4,549.8 352.0,549.8" fill="none" stroke="#e0b060" stroke-width="1.0" stroke-linejoin="round" />
<polyline points="338.3,486.4 340.4,486.4 340.4,504.4 364.6,504.4 364.6,529.8 369.4,529.8 369.4,559.3 372.4,559.3" fill="none" stroke="#8cbcf0" stroke-width="1.0" stroke-linejoin="round" />
<polyline points="338.3,486.4 339.0,486.4 339.0,498.9 348.1,498.9 348.1,503.0 350.5,503.0 350.5,507.0 352.6,507.0 352.6,511.0 355.0,511.0 355.0,513.6 358.4,513.6 358.4,530.0 367.7,530.0 367.7,538.3 382.0,538.3 382.0,546.2 388.6,546.2 388.6,563.3 464.8,563.3 464.8,575.3 472.4,575.3 472.4,588.7 491.5,588.7" fill="none" stroke="#30c0d2" stroke-width="1.0" stroke-linejoin="round" />
<polyline points="338.2,486.5 340.4,486.5 340.4,490.5 341.9,490.5 341.9,493.1 343.3,493.1 343.3,495.6 344.8,495.6 344.8,497.8 346.2,497.8 346.2,500.0 347.6,500.0 347.6,502.2 349.1,502.2 349.1,504.4 349.8,504.4 349.8,509.5 351.2,509.5 351.2,510.9 352.7,510.9 352.7,512.4 353.5,512.4 353.5,515.3 354.9,515.3 354.9,517.1 356.4,517.1 356.4,518.9 357.9,518.9 357.9,521.1 359.3,521.1 359.3,523.3 361.5,523.3 361.5,528.5 362.9,528.5 362.9,531.4 364.4,531.4 364.4,534.3 365.6,534.3 365.6,536.4 366.9,536.4 366.9,538.4 368.1,538.4 368.1,540.5 369.8,540.5 369.8,541.7 371.4,541.7 371.4,542.9 373.0,542.9 373.0,547.0 374.6,547.0 374.6,551.1 375.8,551.1 375.8,553.5 377.1,553.5 377.1,556.0 378.3,556.0 378.3,558.5 379.5,558.5 379.5,560.9 380.8,560.9 380.8,563.0 382.0,563.0 382.0,565.0 393.5,565.0 393.5,569.1 402.5,569.1 402.5,574.0 411.5,574.0 411.5,583.8 490.6,583.8" fill="none" stroke="#2db04c" stroke-width="1.1" stroke-linejoin="round" />
<polyline points="338.2,486.5 340.4,486.5 340.4,489.1 341.9,489.1 341.9,491.3 343.3,491.3 343.3,493.5 345.1,493.5 345.1,494.9 346.9,494.9 346.9,496.4 348.4,496.4 348.4,497.9 349.8,497.9 349.8,499.3 351.3,499.3 351.3,501.5 353.5,501.5 353.5,505.1 354.9,505.1 354.9,507.3 356.4,507.3 356.4,509.5 358.5,509.5 358.5,512.4 360.7,512.4 360.7,515.3 362.1,515.3 362.1,516.8 363.6,516.8 363.6,518.2 365.1,518.2 365.1,519.3 366.5,519.3 366.5,520.4 368.0,520.4 368.0,521.1 369.4,521.1 369.4,521.8 370.9,521.8 370.9,522.5 373.2,522.5 373.2,525.6 374.8,525.6 374.8,527.6 376.3,527.6 376.3,529.5 377.9,529.5 377.9,531.5 379.2,531.5 379.2,532.1 380.5,532.1 380.5,532.8 381.9,532.8 381.9,533.4 383.2,533.4 383.2,534.1 384.5,534.1 384.5,534.7 385.7,534.7 385.7,535.3 386.9,535.3 386.9,536.0 388.2,536.0 388.2,536.6 389.4,536.6 389.4,537.2 390.6,537.2 390.6,537.6 391.9,537.6 391.9,538.0 393.1,538.0 393.1,538.4 394.3,538.4 394.3,538.8 395.5,538.8 395.5,539.0 396.8,539.0 396.8,539.2 398.0,539.2 398.0,539.4 399.2,539.4 399.2,539.6 400.4,539.6 400.4,540.4 401.6,540.4 401.6,541.2 402.9,541.2 402.9,542.1 404.1,542.1 404.1,542.9 406.4,542.9 406.4,544.1 407.7,544.1 407.7,545.4 408.9,545.4 408.9,546.7 410.2,546.7 410.2,547.9 411.4,547.9 411.4,549.2 412.7,549.2 412.7,550.5 414.0,550.5 414.0,551.8 415.3,551.8 415.3,553.0 416.5,553.0 416.5,554.3 417.8,554.3 417.8,555.5 419.1,555.5 419.1,556.8 420.4,556.8 420.4,558.1 421.7,558.1 421.7,559.4 422.9,559.4 422.9,560.6 424.2,560.6 424.2,561.9 425.5,561.9 425.5,563.2 426.8,563.2 426.8,564.9 428.0,564.9 428.0,566.6 429.3,566.6 429.3,568.3 430.7,568.3 430.7,569.1 432.2,569.1 432.2,569.9 433.6,569.9 433.6,570.7 435.1,570.7 435.1,571.2 436.7,571.2 436.7,571.6 438.2,571.6 438.2,572.1 439.4,572.1 439.4,572.3 440.6,572.3 440.6,572.5 441.8,572.5 441.8,572.7 443.0,572.7 443.0,572.9 444.2,572.9 444.2,573.2 445.4,573.2 445.4,573.4 446.6,573.4 446.6,573.6 447.8,573.6 447.8,573.8 449.0,573.8 449.0,574.0 449.6,574.0 449.6,577.2 450.9,577.2 450.9,577.7 452.2,577.7 452.2,578.2 453.4,578.2 453.4,578.7 454.7,578.7 454.7,579.2 456.0,579.2 456.0,579.7 457.2,579.7 457.2,581.0 458.5,581.0 458.5,582.3 459.8,582.3 459.8,583.2 461.1,583.2 461.1,584.2 462.5,584.2 462.5,584.2 463.9,584.2 463.9,584.2 465.3,584.2 465.3,584.3 466.7,584.3 466.7,584.3 468.1,584.3 468.1,584.4 469.5,584.4 469.5,584.5 471.0,584.5 471.0,584.7 472.4,584.7 472.4,584.8 473.6,584.8 473.6,584.9 474.9,584.9 474.9,584.9 476.1,584.9 476.1,585.0 477.4,585.0 477.4,585.0 478.6,585.0 478.6,585.1 479.8,585.1 479.8,585.2 481.1,585.2 481.1,585.2 482.3,585.2 482.3,585.3 483.6,585.3 483.6,585.3 484.8,585.3 484.8,585.4 485.4,590.0 510.6,590.0 510.6,597.3 536.4,597.3 536.4,614.6" fill="none" stroke="#f06ee0" stroke-width="1.0" stroke-linejoin="round" />
<text x="367.9" y="512.5" font-size="10.7" text-anchor="start" fill="#2f86e8" stroke="#2f86e8" stroke-width="0.15" >L/M+A (7)</text>
<text x="403.1" y="539.3" font-size="10.7" text-anchor="start" fill="#ee55dd" stroke="#ee55dd" stroke-width="0.15" >L/M+C (258)</text>
<text x="436.8" y="560.8" font-size="10.7" text-anchor="start" fill="#1ab6cc" stroke="#1ab6cc" stroke-width="0.15" >L/M+AA (20)</text>
<text x="413.3" y="594.4" font-size="10.7" text-anchor="start" fill="#22a035" stroke="#22a035" stroke-width="0.15" >H+C (83)</text>
<text x="382.9" y="608.8" font-size="10.7" text-anchor="start" fill="#f06262" stroke="#f06262" stroke-width="0.15" >H+AA (9)</text>
<text x="483.8" y="610.3" font-size="10.6" text-anchor="start" fill="#000" stroke="#000" stroke-width="0.15" >p&lt;0.0001</text>
<text x="329.8" y="568.6" font-size="10.6" text-anchor="start" fill="#9c9a1c" stroke="#9c9a1c" stroke-width="0.15" >H+A</text>
<text x="333.4" y="582.0" font-size="10.6" text-anchor="start" fill="#9c9a1c" stroke="#9c9a1c" stroke-width="0.15" >(2)</text>
<line x1="340.4" y1="558.8" x2="342.6" y2="553.6" stroke="#111" stroke-width="1.0" />
<polygon points="343.4,551.0 340.5,553.9 343.6,555.0" fill="#111"/>
<text x="6.8" y="711.6" font-size="14" text-anchor="start" fill="#000" font-weight="bold" stroke="#000" stroke-width="0.3">F</text>
<text x="80.2" y="729.4" font-size="10.7" text-anchor="middle" fill="#000" stroke="#000" stroke-width="0.15" >Purity</text>
<rect x="46.9" y="732.0" width="66.7" height="80.6" fill="#ffffff" stroke="#b8b8b8" stroke-width="0.9"/>
<line x1="46.9" y1="811.4" x2="113.6" y2="811.4" stroke="#ececec" stroke-width="0.7" />
<line x1="46.9" y1="790.8" x2="113.6" y2="790.8" stroke="#ececec" stroke-width="0.7" />
<line x1="46.9" y1="770.2" x2="113.6" y2="770.2" stroke="#ececec" stroke-width="0.7" />
<line x1="46.9" y1="749.6" x2="113.6" y2="749.6" stroke="#ececec" stroke-width="0.7" />
<line x1="46.9" y1="801.1" x2="113.6" y2="801.1" stroke="#f4f4f4" stroke-width="0.5" />
<line x1="46.9" y1="780.5" x2="113.6" y2="780.5" stroke="#f4f4f4" stroke-width="0.5" />
<line x1="46.9" y1="759.9" x2="113.6" y2="759.9" stroke="#f4f4f4" stroke-width="0.5" />
<line x1="46.9" y1="739.3" x2="113.6" y2="739.3" stroke="#f4f4f4" stroke-width="0.5" />
<line x1="63.5" y1="732.0" x2="63.5" y2="812.6" stroke="#ececec" stroke-width="0.7" />
<line x1="79.7" y1="732.0" x2="79.7" y2="812.6" stroke="#ececec" stroke-width="0.7" />
<line x1="96.0" y1="732.0" x2="96.0" y2="812.6" stroke="#ececec" stroke-width="0.7" />
<line x1="111.0" y1="732.0" x2="111.0" y2="812.6" stroke="#ececec" stroke-width="0.7" />
<rect x="46.3" y="731.4" width="67.9" height="1.2" fill="#999999" />
<line x1="63.5" y1="812.6" x2="63.5" y2="814.2" stroke="#555" stroke-width="0.7" />
<text transform="translate(66.5,818.6) rotate(-90)" x="0" y="0" font-size="8.6" text-anchor="end" fill="#111" stroke="#111" stroke-width="0.15">0.25</text>
<line x1="79.7" y1="812.6" x2="79.7" y2="814.2" stroke="#555" stroke-width="0.7" />
<text transform="translate(82.8,818.6) rotate(-90)" x="0" y="0" font-size="8.6" text-anchor="end" fill="#111" stroke="#111" stroke-width="0.15">0.50</text>
<line x1="96.0" y1="812.6" x2="96.0" y2="814.2" stroke="#555" stroke-width="0.7" />
<text transform="translate(99.0,818.6) rotate(-90)" x="0" y="0" font-size="8.6" text-anchor="end" fill="#111" stroke="#111" stroke-width="0.15">0.75</text>
<line x1="111.0" y1="812.6" x2="111.0" y2="814.2" stroke="#555" stroke-width="0.7" />
<text transform="translate(114.0,818.6) rotate(-90)" x="0" y="0" font-size="8.6" text-anchor="end" fill="#111" stroke="#111" stroke-width="0.15">1.00</text>
<text x="80.2" y="847.8" font-size="8.8" text-anchor="middle" textLength="41.6" lengthAdjust="spacingAndGlyphs" fill="#111" stroke="#111" stroke-width="0.18">Rho: &#8722;0.234</text>
<text x="58.7" y="858.8" font-size="8.8" textLength="35.7" lengthAdjust="spacingAndGlyphs" fill="#111" stroke="#111" stroke-width="0.18">p=2.25&#215;10</text>
<text x="94.7" y="854.2" font-size="4.9" fill="#111" stroke="#111" stroke-width="0.15">-07</text>
<text x="112.7" y="737.2" font-size="4.0" text-anchor="end" fill="#ff3030">Rho = &#8722;0.234</text>
<text x="112.7" y="740.9" font-size="4.0" text-anchor="end" fill="#ff3030">p = 2.25e-07</text>
<text x="150.2" y="729.4" font-size="10.7" text-anchor="middle" fill="#000" stroke="#000" stroke-width="0.15" >TIMER</text>
<text x="150.2" y="716.6" font-size="10.7" text-anchor="middle" fill="#000" stroke="#000" stroke-width="0.15" >B Cell</text>
<rect x="116.4" y="732.0" width="67.6" height="80.6" fill="#ffffff" stroke="#b8b8b8" stroke-width="0.9"/>
<line x1="116.4" y1="811.4" x2="184.0" y2="811.4" stroke="#ececec" stroke-width="0.7" />
<line x1="116.4" y1="790.8" x2="184.0" y2="790.8" stroke="#ececec" stroke-width="0.7" />
<line x1="116.4" y1="770.2" x2="184.0" y2="770.2" stroke="#ececec" stroke-width="0.7" />
<line x1="116.4" y1="749.6" x2="184.0" y2="749.6" stroke="#ececec" stroke-width="0.7" />
<line x1="116.4" y1="801.1" x2="184.0" y2="801.1" stroke="#f4f4f4" stroke-width="0.5" />
<line x1="116.4" y1="780.5" x2="184.0" y2="780.5" stroke="#f4f4f4" stroke-width="0.5" />
<line x1="116.4" y1="759.9" x2="184.0" y2="759.9" stroke="#f4f4f4" stroke-width="0.5" />
<line x1="116.4" y1="739.3" x2="184.0" y2="739.3" stroke="#f4f4f4" stroke-width="0.5" />
<line x1="121.5" y1="732.0" x2="121.5" y2="812.6" stroke="#ececec" stroke-width="0.7" />
<line x1="137.5" y1="732.0" x2="137.5" y2="812.6" stroke="#ececec" stroke-width="0.7" />
<line x1="154.0" y1="732.0" x2="154.0" y2="812.6" stroke="#ececec" stroke-width="0.7" />
<line x1="169.5" y1="732.0" x2="169.5" y2="812.6" stroke="#ececec" stroke-width="0.7" />
<rect x="115.8" y="731.4" width="68.8" height="1.2" fill="#999999" />
<line x1="121.5" y1="812.6" x2="121.5" y2="814.2" stroke="#555" stroke-width="0.7" />
<text transform="translate(124.5,818.6) rotate(-90)" x="0" y="0" font-size="8.6" text-anchor="end" fill="#111" stroke="#111" stroke-width="0.15">0</text>
<line x1="137.5" y1="812.6" x2="137.5" y2="814.2" stroke="#555" stroke-width="0.7" />
<text transform="translate(140.6,818.6) rotate(-90)" x="0" y="0" font-size="8.6" text-anchor="end" fill="#111" stroke="#111" stroke-width="0.15">0.2</text>
<line x1="154.0" y1="812.6" x2="154.0" y2="814.2" stroke="#555" stroke-width="0.7" />
<text transform="translate(157.1,818.6) rotate(-90)" x="0" y="0" font-size="8.6" text-anchor="end" fill="#111" stroke="#111" stroke-width="0.15">0.4</text>
<line x1="169.5" y1="812.6" x2="169.5" y2="814.2" stroke="#555" stroke-width="0.7" />
<text transform="translate(172.6,818.6) rotate(-90)" x="0" y="0" font-size="8.6" text-anchor="end" fill="#111" stroke="#111" stroke-width="0.15">0.6</text>
<text x="150.2" y="847.8" font-size="8.8" text-anchor="middle" textLength="41.6" lengthAdjust="spacingAndGlyphs" fill="#111" stroke="#111" stroke-width="0.18">Rho: &#8722;0.067</text>
<text x="128.6" y="858.8" font-size="8.8" textLength="35.7" lengthAdjust="spacingAndGlyphs" fill="#111" stroke="#111" stroke-width="0.18">p=1.37&#215;10</text>
<text x="164.7" y="854.2" font-size="4.9" fill="#111" stroke="#111" stroke-width="0.15">-01</text>
<text x="183.1" y="737.2" font-size="4.0" text-anchor="end" fill="#ff3030">Rho = &#8722;0.067</text>
<text x="183.1" y="740.9" font-size="4.0" text-anchor="end" fill="#ff3030">p = 1.37e-01</text>
<text x="219.2" y="729.4" font-size="10.7" text-anchor="middle" fill="#000" stroke="#000" stroke-width="0.15" >TIMER</text>
<text x="219.2" y="716.6" font-size="10.7" text-anchor="middle" fill="#000" stroke="#000" stroke-width="0.15" >T Cell CD8+</text>
<rect x="185.8" y="732.0" width="66.9" height="80.6" fill="#ffffff" stroke="#b8b8b8" stroke-width="0.9"/>
<line x1="185.8" y1="811.4" x2="252.7" y2="811.4" stroke="#ececec" stroke-width="0.7" />
<line x1="185.8" y1="790.8" x2="252.7" y2="790.8" stroke="#ececec" stroke-width="0.7" />
<line x1="185.8" y1="770.2" x2="252.7" y2="770.2" stroke="#ececec" stroke-width="0.7" />
<line x1="185.8" y1="749.6" x2="252.7" y2="749.6" stroke="#ececec" stroke-width="0.7" />
<line x1="185.8" y1="801.1" x2="252.7" y2="801.1" stroke="#f4f4f4" stroke-width="0.5" />
<line x1="185.8" y1="780.5" x2="252.7" y2="780.5" stroke="#f4f4f4" stroke-width="0.5" />
<line x1="185.8" y1="759.9" x2="252.7" y2="759.9" stroke="#f4f4f4" stroke-width="0.5" />
<line x1="185.8" y1="739.3" x2="252.7" y2="739.3" stroke="#f4f4f4" stroke-width="0.5" />
<line x1="190.2" y1="732.0" x2="190.2" y2="812.6" stroke="#ececec" stroke-width="0.7" />
<line x1="207.6" y1="732.0" x2="207.6" y2="812.6" stroke="#ececec" stroke-width="0.7" />
<line x1="225.7" y1="732.0" x2="225.7" y2="812.6" stroke="#ececec" stroke-width="0.7" />
<line x1="244.6" y1="732.0" x2="244.6" y2="812.6" stroke="#ececec" stroke-width="0.7" />
<rect x="185.2" y="731.4" width="68.1" height="1.2" fill="#999999" />
<line x1="190.2" y1="812.6" x2="190.2" y2="814.2" stroke="#555" stroke-width="0.7" />
<text transform="translate(193.2,818.6) rotate(-90)" x="0" y="0" font-size="8.6" text-anchor="end" fill="#111" stroke="#111" stroke-width="0.15">0</text>
<line x1="207.6" y1="812.6" x2="207.6" y2="814.2" stroke="#555" stroke-width="0.7" />
<text transform="translate(210.7,818.6) rotate(-90)" x="0" y="0" font-size="8.6" text-anchor="end" fill="#111" stroke="#111" stroke-width="0.15">0.2</text>
<line x1="225.7" y1="812.6" x2="225.7" y2="814.2" stroke="#555" stroke-width="0.7" />
<text transform="translate(228.8,818.6) rotate(-90)" x="0" y="0" font-size="8.6" text-anchor="end" fill="#111" stroke="#111" stroke-width="0.15">0.4</text>
<line x1="244.6" y1="812.6" x2="244.6" y2="814.2" stroke="#555" stroke-width="0.7" />
<text transform="translate(247.7,818.6) rotate(-90)" x="0" y="0" font-size="8.6" text-anchor="end" fill="#111" stroke="#111" stroke-width="0.15">0.6</text>
<text x="219.2" y="847.8" font-size="8.8" text-anchor="middle" textLength="37.2" lengthAdjust="spacingAndGlyphs" fill="#111" stroke="#111" stroke-width="0.18">Rho: 0.066</text>
<text x="197.7" y="858.8" font-size="8.8" textLength="35.7" lengthAdjust="spacingAndGlyphs" fill="#111" stroke="#111" stroke-width="0.18">p=1.51&#215;10</text>
<text x="233.7" y="854.2" font-size="4.9" fill="#111" stroke="#111" stroke-width="0.15">-01</text>
<text x="251.8" y="737.2" font-size="4.0" text-anchor="end" fill="#ff3030">Rho = 0.066</text>
<text x="251.8" y="740.9" font-size="4.0" text-anchor="end" fill="#ff3030">p = 1.51e-01</text>
<text x="290.1" y="729.4" font-size="10.7" text-anchor="middle" fill="#000" stroke="#000" stroke-width="0.15" >EPIC</text>
<text x="290.1" y="716.6" font-size="10.7" text-anchor="middle" fill="#000" stroke="#000" stroke-width="0.15" >T Cell CD4+</text>
<rect x="256.2" y="732.0" width="67.8" height="80.6" fill="#ffffff" stroke="#b8b8b8" stroke-width="0.9"/>
<line x1="256.2" y1="811.4" x2="324.0" y2="811.4" stroke="#ececec" stroke-width="0.7" />
<line x1="256.2" y1="790.8" x2="324.0" y2="790.8" stroke="#ececec" stroke-width="0.7" />
<line x1="256.2" y1="770.2" x2="324.0" y2="770.2" stroke="#ececec" stroke-width="0.7" />
<line x1="256.2" y1="749.6" x2="324.0" y2="749.6" stroke="#ececec" stroke-width="0.7" />
<line x1="256.2" y1="801.1" x2="324.0" y2="801.1" stroke="#f4f4f4" stroke-width="0.5" />
<line x1="256.2" y1="780.5" x2="324.0" y2="780.5" stroke="#f4f4f4" stroke-width="0.5" />
<line x1="256.2" y1="759.9" x2="324.0" y2="759.9" stroke="#f4f4f4" stroke-width="0.5" />
<line x1="256.2" y1="739.3" x2="324.0" y2="739.3" stroke="#f4f4f4" stroke-width="0.5" />
<line x1="260.0" y1="732.0" x2="260.0" y2="812.6" stroke="#ececec" stroke-width="0.7" />
<line x1="281.2" y1="732.0" x2="281.2" y2="812.6" stroke="#ececec" stroke-width="0.7" />
<line x1="303.6" y1="732.0" x2="303.6" y2="812.6" stroke="#ececec" stroke-width="0.7" />
<rect x="255.6" y="731.4" width="69.0" height="1.2" fill="#999999" />
<line x1="260.0" y1="812.6" x2="260.0" y2="814.2" stroke="#555" stroke-width="0.7" />
<text transform="translate(263.1,818.6) rotate(-90)" x="0" y="0" font-size="8.6" text-anchor="end" fill="#111" stroke="#111" stroke-width="0.15">0</text>
<line x1="281.2" y1="812.6" x2="281.2" y2="814.2" stroke="#555" stroke-width="0.7" />
<text transform="translate(284.2,818.6) rotate(-90)" x="0" y="0" font-size="8.6" text-anchor="end" fill="#111" stroke="#111" stroke-width="0.15">0.05</text>
<line x1="303.6" y1="812.6" x2="303.6" y2="814.2" stroke="#555" stroke-width="0.7" />
<text transform="translate(306.7,818.6) rotate(-90)" x="0" y="0" font-size="8.6" text-anchor="end" fill="#111" stroke="#111" stroke-width="0.15">0.10</text>
<text x="290.1" y="847.8" font-size="8.8" text-anchor="middle" textLength="37.2" lengthAdjust="spacingAndGlyphs" fill="#111" stroke="#111" stroke-width="0.18">Rho: 0.029</text>
<text x="268.5" y="858.8" font-size="8.8" textLength="35.7" lengthAdjust="spacingAndGlyphs" fill="#111" stroke="#111" stroke-width="0.18">p=5.28&#215;10</text>
<text x="304.6" y="854.2" font-size="4.9" fill="#111" stroke="#111" stroke-width="0.15">-01</text>
<text x="323.1" y="737.2" font-size="4.0" text-anchor="end" fill="#ff3030">Rho = 0.029</text>
<text x="323.1" y="740.9" font-size="4.0" text-anchor="end" fill="#ff3030">p = 5.28e-01</text>
<text x="359.2" y="729.4" font-size="10.7" text-anchor="middle" fill="#000" stroke="#000" stroke-width="0.15" >EPIC</text>
<text x="359.2" y="716.6" font-size="10.7" text-anchor="middle" fill="#000" stroke="#000" stroke-width="0.15" >Macrophage</text>
<rect x="325.8" y="732.0" width="66.9" height="80.6" fill="#ffffff" stroke="#b8b8b8" stroke-width="0.9"/>
<line x1="325.8" y1="811.4" x2="392.7" y2="811.4" stroke="#ececec" stroke-width="0.7" />
<line x1="325.8" y1="790.8" x2="392.7" y2="790.8" stroke="#ececec" stroke-width="0.7" />
<line x1="325.8" y1="770.2" x2="392.7" y2="770.2" stroke="#ececec" stroke-width="0.7" />
<line x1="325.8" y1="749.6" x2="392.7" y2="749.6" stroke="#ececec" stroke-width="0.7" />
<line x1="325.8" y1="801.1" x2="392.7" y2="801.1" stroke="#f4f4f4" stroke-width="0.5" />
<line x1="325.8" y1="780.5" x2="392.7" y2="780.5" stroke="#f4f4f4" stroke-width="0.5" />
<line x1="325.8" y1="759.9" x2="392.7" y2="759.9" stroke="#f4f4f4" stroke-width="0.5" />
<line x1="325.8" y1="739.3" x2="392.7" y2="739.3" stroke="#f4f4f4" stroke-width="0.5" />
<line x1="330.2" y1="732.0" x2="330.2" y2="812.6" stroke="#ececec" stroke-width="0.7" />
<line x1="350.5" y1="732.0" x2="350.5" y2="812.6" stroke="#ececec" stroke-width="0.7" />
<line x1="370.9" y1="732.0" x2="370.9" y2="812.6" stroke="#ececec" stroke-width="0.7" />
<line x1="391.3" y1="732.0" x2="391.3" y2="812.6" stroke="#ececec" stroke-width="0.7" />
<rect x="325.2" y="731.4" width="68.1" height="1.2" fill="#999999" />
<line x1="330.2" y1="812.6" x2="330.2" y2="814.2" stroke="#555" stroke-width="0.7" />
<text transform="translate(333.2,818.6) rotate(-90)" x="0" y="0" font-size="8.6" text-anchor="end" fill="#111" stroke="#111" stroke-width="0.15">0</text>
<line x1="350.5" y1="812.6" x2="350.5" y2="814.2" stroke="#555" stroke-width="0.7" />
<text transform="translate(353.6,818.6) rotate(-90)" x="0" y="0" font-size="8.6" text-anchor="end" fill="#111" stroke="#111" stroke-width="0.15">0.05</text>
<line x1="370.9" y1="812.6" x2="370.9" y2="814.2" stroke="#555" stroke-width="0.7" />
<text transform="translate(373.9,818.6) rotate(-90)" x="0" y="0" font-size="8.6" text-anchor="end" fill="#111" stroke="#111" stroke-width="0.15">0.10</text>
<line x1="391.3" y1="812.6" x2="391.3" y2="814.2" stroke="#555" stroke-width="0.7" />
<text transform="translate(394.4,818.6) rotate(-90)" x="0" y="0" font-size="8.6" text-anchor="end" fill="#111" stroke="#111" stroke-width="0.15">0.15</text>
<text x="359.2" y="847.8" font-size="8.8" text-anchor="middle" textLength="37.2" lengthAdjust="spacingAndGlyphs" fill="#111" stroke="#111" stroke-width="0.18">Rho: 0.152</text>
<text x="337.7" y="858.8" font-size="8.8" textLength="35.7" lengthAdjust="spacingAndGlyphs" fill="#111" stroke="#111" stroke-width="0.18">p=8.76&#215;10</text>
<text x="373.7" y="854.2" font-size="4.9" fill="#111" stroke="#111" stroke-width="0.15">-04</text>
<text x="391.8" y="737.2" font-size="4.0" text-anchor="end" fill="#ff3030">Rho = 0.152</text>
<text x="391.8" y="740.9" font-size="4.0" text-anchor="end" fill="#ff3030">p = 8.76e-04</text>
<text x="429.6" y="729.4" font-size="10.7" text-anchor="middle" fill="#000" stroke="#000" stroke-width="0.15" >TIMER</text>
<text x="429.6" y="716.6" font-size="10.7" text-anchor="middle" fill="#000" stroke="#000" stroke-width="0.15" >dendritic cell</text>
<text x="429.6" y="703.8" font-size="10.7" text-anchor="middle" fill="#000" stroke="#000" stroke-width="0.15" >Myeloid</text>
<rect x="396.2" y="732.0" width="66.9" height="80.6" fill="#ffffff" stroke="#b8b8b8" stroke-width="0.9"/>
<line x1="396.2" y1="811.4" x2="463.1" y2="811.4" stroke="#ececec" stroke-width="0.7" />
<line x1="396.2" y1="790.8" x2="463.1" y2="790.8" stroke="#ececec" stroke-width="0.7" />
<line x1="396.2" y1="770.2" x2="463.1" y2="770.2" stroke="#ececec" stroke-width="0.7" />
<line x1="396.2" y1="749.6" x2="463.1" y2="749.6" stroke="#ececec" stroke-width="0.7" />
<line x1="396.2" y1="801.1" x2="463.1" y2="801.1" stroke="#f4f4f4" stroke-width="0.5" />
<line x1="396.2" y1="780.5" x2="463.1" y2="780.5" stroke="#f4f4f4" stroke-width="0.5" />
<line x1="396.2" y1="759.9" x2="463.1" y2="759.9" stroke="#f4f4f4" stroke-width="0.5" />
<line x1="396.2" y1="739.3" x2="463.1" y2="739.3" stroke="#f4f4f4" stroke-width="0.5" />
<line x1="408.7" y1="732.0" x2="408.7" y2="812.6" stroke="#ececec" stroke-width="0.7" />
<line x1="422.7" y1="732.0" x2="422.7" y2="812.6" stroke="#ececec" stroke-width="0.7" />
<line x1="436.4" y1="732.0" x2="436.4" y2="812.6" stroke="#ececec" stroke-width="0.7" />
<line x1="450.3" y1="732.0" x2="450.3" y2="812.6" stroke="#ececec" stroke-width="0.7" />
<rect x="395.6" y="731.4" width="68.1" height="1.2" fill="#999999" />
<line x1="408.7" y1="812.6" x2="408.7" y2="814.2" stroke="#555" stroke-width="0.7" />
<text transform="translate(411.8,818.6) rotate(-90)" x="0" y="0" font-size="8.6" text-anchor="end" fill="#111" stroke="#111" stroke-width="0.15">0.25</text>
<line x1="422.7" y1="812.6" x2="422.7" y2="814.2" stroke="#555" stroke-width="0.7" />
<text transform="translate(425.8,818.6) rotate(-90)" x="0" y="0" font-size="8.6" text-anchor="end" fill="#111" stroke="#111" stroke-width="0.15">0.50</text>
<line x1="436.4" y1="812.6" x2="436.4" y2="814.2" stroke="#555" stroke-width="0.7" />
<text transform="translate(439.4,818.6) rotate(-90)" x="0" y="0" font-size="8.6" text-anchor="end" fill="#111" stroke="#111" stroke-width="0.15">0.75</text>
<line x1="450.3" y1="812.6" x2="450.3" y2="814.2" stroke="#555" stroke-width="0.7" />
<text transform="translate(453.4,818.6) rotate(-90)" x="0" y="0" font-size="8.6" text-anchor="end" fill="#111" stroke="#111" stroke-width="0.15">1.00</text>
<text x="429.6" y="847.8" font-size="8.8" text-anchor="middle" textLength="36.6" lengthAdjust="spacingAndGlyphs" fill="#111" stroke="#111" stroke-width="0.18">Rho: 0.113</text>
<text x="408.1" y="858.8" font-size="8.8" textLength="35.7" lengthAdjust="spacingAndGlyphs" fill="#111" stroke="#111" stroke-width="0.18">p=1.32&#215;10</text>
<text x="444.1" y="854.2" font-size="4.9" fill="#111" stroke="#111" stroke-width="0.15">-02</text>
<text x="462.2" y="737.2" font-size="4.0" text-anchor="end" fill="#ff3030">Rho = 0.113</text>
<text x="462.2" y="740.9" font-size="4.0" text-anchor="end" fill="#ff3030">p = 1.32e-02</text>
<text x="499.4" y="729.4" font-size="10.7" text-anchor="middle" fill="#000" stroke="#000" stroke-width="0.15" >TIMER</text>
<text x="499.4" y="716.6" font-size="10.7" text-anchor="middle" fill="#000" stroke="#000" stroke-width="0.15" >Neutrophil</text>
<rect x="465.3" y="732.0" width="68.1" height="80.6" fill="#ffffff" stroke="#b8b8b8" stroke-width="0.9"/>
<line x1="465.3" y1="811.4" x2="533.4" y2="811.4" stroke="#ececec" stroke-width="0.7" />
<line x1="465.3" y1="790.8" x2="533.4" y2="790.8" stroke="#ececec" stroke-width="0.7" />
<line x1="465.3" y1="770.2" x2="533.4" y2="770.2" stroke="#ececec" stroke-width="0.7" />
<line x1="465.3" y1="749.6" x2="533.4" y2="749.6" stroke="#ececec" stroke-width="0.7" />
<line x1="465.3" y1="801.1" x2="533.4" y2="801.1" stroke="#f4f4f4" stroke-width="0.5" />
<line x1="465.3" y1="780.5" x2="533.4" y2="780.5" stroke="#f4f4f4" stroke-width="0.5" />
<line x1="465.3" y1="759.9" x2="533.4" y2="759.9" stroke="#f4f4f4" stroke-width="0.5" />
<line x1="465.3" y1="739.3" x2="533.4" y2="739.3" stroke="#f4f4f4" stroke-width="0.5" />
<line x1="471.3" y1="732.0" x2="471.3" y2="812.6" stroke="#ececec" stroke-width="0.7" />
<line x1="492.2" y1="732.0" x2="492.2" y2="812.6" stroke="#ececec" stroke-width="0.7" />
<line x1="514.4" y1="732.0" x2="514.4" y2="812.6" stroke="#ececec" stroke-width="0.7" />
<rect x="464.7" y="731.4" width="69.3" height="1.2" fill="#999999" />
<line x1="471.3" y1="812.6" x2="471.3" y2="814.2" stroke="#555" stroke-width="0.7" />
<text transform="translate(474.4,818.6) rotate(-90)" x="0" y="0" font-size="8.6" text-anchor="end" fill="#111" stroke="#111" stroke-width="0.15">0</text>
<line x1="492.2" y1="812.6" x2="492.2" y2="814.2" stroke="#555" stroke-width="0.7" />
<text transform="translate(495.2,818.6) rotate(-90)" x="0" y="0" font-size="8.6" text-anchor="end" fill="#111" stroke="#111" stroke-width="0.15">0.2</text>
<line x1="514.4" y1="812.6" x2="514.4" y2="814.2" stroke="#555" stroke-width="0.7" />
<text transform="translate(517.4,818.6) rotate(-90)" x="0" y="0" font-size="8.6" text-anchor="end" fill="#111" stroke="#111" stroke-width="0.15">0.4</text>
<text x="499.4" y="847.8" font-size="8.8" text-anchor="middle" textLength="37.2" lengthAdjust="spacingAndGlyphs" fill="#111" stroke="#111" stroke-width="0.18">Rho: 0.085</text>
<text x="477.8" y="858.8" font-size="8.8" textLength="35.7" lengthAdjust="spacingAndGlyphs" fill="#111" stroke="#111" stroke-width="0.18">p=6.49&#215;10</text>
<text x="513.8" y="854.2" font-size="4.9" fill="#111" stroke="#111" stroke-width="0.15">-02</text>
<text x="532.5" y="737.2" font-size="4.0" text-anchor="end" fill="#ff3030">Rho = 0.085</text>
<text x="532.5" y="740.9" font-size="4.0" text-anchor="end" fill="#ff3030">p = 6.49e-02</text>
<line x1="43.8" y1="811.4" x2="46.9" y2="811.4" stroke="#555" stroke-width="0.8" />
<text x="41.9" y="815.0" font-size="8.7" text-anchor="end" fill="#000" stroke="#000" stroke-width="0.15" >0</text>
<line x1="43.8" y1="790.8" x2="46.9" y2="790.8" stroke="#555" stroke-width="0.8" />
<text x="41.9" y="794.4" font-size="8.7" text-anchor="end" fill="#000" stroke="#000" stroke-width="0.15" >3</text>
<line x1="43.8" y1="770.2" x2="46.9" y2="770.2" stroke="#555" stroke-width="0.8" />
<text x="41.9" y="773.8" font-size="8.7" text-anchor="end" fill="#000" stroke="#000" stroke-width="0.15" >6</text>
<line x1="43.8" y1="749.6" x2="46.9" y2="749.6" stroke="#555" stroke-width="0.8" />
<text x="41.9" y="753.2" font-size="8.7" text-anchor="end" fill="#000" stroke="#000" stroke-width="0.15" >9</text>
<text transform="translate(9.8,772.3) rotate(-90)" x="0" y="0" font-size="10.7" text-anchor="middle" dominant-baseline="central" fill="#000" stroke="#000" stroke-width="0.15" >FGA expression level</text>
<text transform="translate(22.9,772.5) rotate(-90)" x="0" y="0" font-size="10.7" text-anchor="middle" dominant-baseline="central" fill="#000" stroke="#000" stroke-width="0.15" >(log2 TPM)</text>
<text transform="translate(539.7,771.9) rotate(-90)" x="0" y="0" font-size="11.0" text-anchor="middle" dominant-baseline="central" fill="#000" stroke="#000" stroke-width="0.3" >LUSC</text>
<g fill="#1a1a1a" fill-opacity="0.55"><circle cx="77.3" cy="808.4" r="0.9"/><circle cx="103.8" cy="808.1" r="0.9"/><circle cx="80.4" cy="808.4" r="0.9"/><circle cx="62.3" cy="808.2" r="0.9"/><circle cx="87.3" cy="809.0" r="0.9"/><circle cx="57.3" cy="807.6" r="0.9"/><circle cx="57.1" cy="809.1" r="0.9"/><circle cx="90.8" cy="806.9" r="0.9"/><circle cx="107.0" cy="809.5" r="0.9"/><circle cx="88.6" cy="808.5" r="0.9"/><circle cx="60.8" cy="806.8" r="0.9"/><circle cx="81.6" cy="807.0" r="0.9"/><circle cx="62.7" cy="807.5" r="0.9"/><circle cx="53.7" cy="808.1" r="0.9"/><circle cx="76.7" cy="809.2" r="0.9"/><circle cx="81.1" cy="808.6" r="0.9"/><circle cx="80.0" cy="808.7" r="0.9"/><circle cx="77.6" cy="807.6" r="0.9"/><circle cx="107.9" cy="809.6" r="0.9"/><circle cx="99.1" cy="808.8" r="0.9"/><circle cx="69.7" cy="807.4" r="0.9"/><circle cx="68.2" cy="807.0" r="0.9"/><circle cx="94.9" cy="807.9" r="0.9"/><circle cx="99.4" cy="807.9" r="0.9"/><circle cx="105.7" cy="809.2" r="0.9"/><circle cx="52.0" cy="807.4" r="0.9"/><circle cx="103.0" cy="808.1" r="0.9"/><circle cx="106.9" cy="807.9" r="0.9"/><circle cx="56.1" cy="808.6" r="0.9"/><circle cx="95.6" cy="807.6" r="0.9"/><circle cx="56.9" cy="807.7" r="0.9"/><circle cx="106.0" cy="808.9" r="0.9"/><circle cx="58.6" cy="807.5" r="0.9"/><circle cx="57.7" cy="807.0" r="0.9"/><circle cx="96.6" cy="807.3" r="0.9"/><circle cx="83.3" cy="808.1" r="0.9"/><circle cx="62.7" cy="808.8" r="0.9"/><circle cx="59.3" cy="808.6" r="0.9"/><circle cx="58.5" cy="808.0" r="0.9"/><circle cx="63.9" cy="807.6" r="0.9"/><circle cx="106.4" cy="809.0" r="0.9"/><circle cx="69.0" cy="809.3" r="0.9"/><circle cx="63.8" cy="807.9" r="0.9"/><circle cx="99.8" cy="808.6" r="0.9"/><circle cx="57.6" cy="809.6" r="0.9"/><circle cx="63.9" cy="807.5" r="0.9"/><circle cx="95.3" cy="807.7" r="0.9"/><circle cx="68.6" cy="807.0" r="0.9"/><circle cx="57.0" cy="808.4" r="0.9"/><circle cx="65.6" cy="808.5" r="0.9"/><circle cx="72.8" cy="808.1" r="0.9"/><circle cx="105.7" cy="808.2" r="0.9"/><circle cx="84.2" cy="809.2" r="0.9"/><circle cx="62.2" cy="807.2" r="0.9"/><circle cx="102.9" cy="809.1" r="0.9"/><circle cx="66.0" cy="807.3" r="0.9"/><circle cx="93.4" cy="809.4" r="0.9"/><circle cx="63.0" cy="809.5" r="0.9"/><circle cx="101.4" cy="808.5" r="0.9"/><circle cx="75.6" cy="807.1" r="0.9"/><circle cx="54.2" cy="809.5" r="0.9"/><circle cx="65.4" cy="808.8" r="0.9"/><circle cx="66.4" cy="809.1" r="0.9"/><circle cx="85.4" cy="807.6" r="0.9"/><circle cx="61.8" cy="808.8" r="0.9"/><circle cx="55.9" cy="807.4" r="0.9"/><circle cx="83.3" cy="809.2" r="0.9"/><circle cx="86.4" cy="807.6" r="0.9"/><circle cx="103.4" cy="807.4" r="0.9"/><circle cx="52.9" cy="807.6" r="0.9"/><circle cx="77.0" cy="807.0" r="0.9"/><circle cx="61.9" cy="807.8" r="0.9"/><circle cx="84.0" cy="807.2" r="0.9"/><circle cx="72.3" cy="809.3" r="0.9"/><circle cx="106.9" cy="808.6" r="0.9"/><circle cx="90.7" cy="808.4" r="0.9"/><circle cx="59.9" cy="806.9" r="0.9"/><circle cx="53.0" cy="809.3" r="0.9"/><circle cx="91.3" cy="809.5" r="0.9"/><circle cx="53.2" cy="808.6" r="0.9"/><circle cx="79.0" cy="808.8" r="0.9"/><circle cx="69.9" cy="809.6" r="0.9"/><circle cx="56.2" cy="808.3" r="0.9"/><circle cx="93.3" cy="809.3" r="0.9"/><circle cx="93.3" cy="808.8" r="0.9"/><circle cx="96.4" cy="809.4" r="0.9"/><circle cx="71.7" cy="808.7" r="0.9"/><circle cx="102.4" cy="809.2" r="0.9"/><circle cx="75.4" cy="809.0" r="0.9"/><circle cx="100.4" cy="808.4" r="0.9"/><circle cx="87.0" cy="807.9" r="0.9"/><circle cx="84.6" cy="808.5" r="0.9"/><circle cx="56.5" cy="808.6" r="0.9"/><circle cx="107.6" cy="809.3" r="0.9"/><circle cx="92.8" cy="807.9" r="0.9"/><circle cx="93.2" cy="808.4" r="0.9"/><circle cx="76.7" cy="809.1" r="0.9"/><circle cx="56.7" cy="808.9" r="0.9"/><circle cx="53.7" cy="808.5" r="0.9"/><circle cx="78.9" cy="807.4" r="0.9"/><circle cx="91.1" cy="808.2" r="0.9"/><circle cx="86.4" cy="809.4" r="0.9"/><circle cx="66.3" cy="806.8" r="0.9"/><circle cx="68.9" cy="808.7" r="0.9"/><circle cx="63.3" cy="807.3" r="0.9"/><circle cx="102.7" cy="808.6" r="0.9"/><circle cx="76.7" cy="809.3" r="0.9"/><circle cx="70.3" cy="808.7" r="0.9"/><circle cx="63.1" cy="808.0" r="0.9"/><circle cx="97.1" cy="809.4" r="0.9"/><circle cx="74.3" cy="795.1" r="0.9"/><circle cx="58.5" cy="797.9" r="0.9"/><circle cx="101.2" cy="790.7" r="0.9"/><circle cx="68.1" cy="806.0" r="0.9"/><circle cx="65.2" cy="805.1" r="0.9"/><circle cx="82.0" cy="798.0" r="0.9"/><circle cx="92.3" cy="779.9" r="0.9"/><circle cx="55.6" cy="807.8" r="0.9"/><circle cx="54.4" cy="790.8" r="0.9"/><circle cx="66.8" cy="787.7" r="0.9"/><circle cx="58.5" cy="799.1" r="0.9"/><circle cx="91.8" cy="804.6" r="0.9"/><circle cx="54.3" cy="793.6" r="0.9"/><circle cx="82.2" cy="792.7" r="0.9"/><circle cx="107.6" cy="791.6" r="0.9"/><circle cx="74.8" cy="805.8" r="0.9"/><circle cx="74.7" cy="790.6" r="0.9"/><circle cx="65.1" cy="802.1" r="0.9"/><circle cx="82.2" cy="794.1" r="0.9"/><circle cx="74.8" cy="787.6" r="0.9"/><circle cx="57.1" cy="782.0" r="0.9"/><circle cx="59.5" cy="799.2" r="0.9"/><circle cx="104.8" cy="801.3" r="0.9"/><circle cx="94.2" cy="787.5" r="0.9"/><circle cx="78.9" cy="792.8" r="0.9"/><circle cx="86.7" cy="786.6" r="0.9"/><circle cx="93.6" cy="805.1" r="0.9"/><circle cx="108.9" cy="780.1" r="0.9"/><circle cx="90.0" cy="802.7" r="0.9"/><circle cx="101.6" cy="802.0" r="0.9"/><circle cx="73.2" cy="796.2" r="0.9"/><circle cx="80.3" cy="807.8" r="0.9"/><circle cx="55.7" cy="787.3" r="0.9"/><circle cx="68.1" cy="787.8" r="0.9"/><circle cx="59.1" cy="797.3" r="0.9"/><circle cx="100.7" cy="791.5" r="0.9"/><circle cx="80.6" cy="781.3" r="0.9"/><circle cx="62.6" cy="796.9" r="0.9"/><circle cx="87.0" cy="793.2" r="0.9"/><circle cx="92.5" cy="795.9" r="0.9"/><circle cx="70.3" cy="785.6" r="0.9"/><circle cx="64.1" cy="785.3" r="0.9"/><circle cx="82.4" cy="795.5" r="0.9"/><circle cx="77.7" cy="797.7" r="0.9"/><circle cx="53.6" cy="780.4" r="0.9"/><circle cx="71.2" cy="787.3" r="0.9"/><circle cx="75.6" cy="791.4" r="0.9"/><circle cx="77.9" cy="800.3" r="0.9"/><circle cx="105.6" cy="803.9" r="0.9"/><circle cx="58.1" cy="799.7" r="0.9"/><circle cx="104.2" cy="798.5" r="0.9"/><circle cx="61.2" cy="794.0" r="0.9"/><circle cx="59.5" cy="788.1" r="0.9"/><circle cx="61.3" cy="804.8" r="0.9"/><circle cx="70.7" cy="801.9" r="0.9"/><circle cx="58.1" cy="789.9" r="0.9"/><circle cx="76.5" cy="804.3" r="0.9"/><circle cx="77.5" cy="799.6" r="0.9"/><circle cx="71.8" cy="796.9" r="0.9"/><circle cx="61.8" cy="793.5" r="0.9"/><circle cx="82.7" cy="785.3" r="0.9"/><circle cx="101.7" cy="804.7" r="0.9"/><circle cx="99.0" cy="783.2" r="0.9"/><circle cx="67.1" cy="782.4" r="0.9"/><circle cx="99.9" cy="783.9" r="0.9"/><circle cx="63.5" cy="790.1" r="0.9"/><circle cx="56.7" cy="786.1" r="0.9"/><circle cx="89.9" cy="806.7" r="0.9"/><circle cx="84.9" cy="807.9" r="0.9"/><circle cx="84.8" cy="782.9" r="0.9"/><circle cx="58.7" cy="797.6" r="0.9"/><circle cx="81.2" cy="791.6" r="0.9"/><circle cx="55.4" cy="807.0" r="0.9"/><circle cx="78.5" cy="797.3" r="0.9"/><circle cx="59.0" cy="805.7" r="0.9"/><circle cx="92.3" cy="779.5" r="0.9"/><circle cx="57.5" cy="807.5" r="0.9"/><circle cx="78.8" cy="788.7" r="0.9"/><circle cx="74.4" cy="797.3" r="0.9"/><circle cx="80.8" cy="807.9" r="0.9"/><circle cx="101.0" cy="805.7" r="0.9"/><circle cx="87.5" cy="800.5" r="0.9"/><circle cx="59.9" cy="797.4" r="0.9"/><circle cx="94.9" cy="787.3" r="0.9"/><circle cx="101.9" cy="793.6" r="0.9"/><circle cx="80.8" cy="797.6" r="0.9"/><circle cx="98.7" cy="804.2" r="0.9"/><circle cx="95.2" cy="788.2" r="0.9"/><circle cx="75.5" cy="783.5" r="0.9"/><circle cx="92.3" cy="788.6" r="0.9"/><circle cx="75.5" cy="790.2" r="0.9"/><circle cx="68.4" cy="798.7" r="0.9"/><circle cx="69.1" cy="793.2" r="0.9"/><circle cx="65.5" cy="781.5" r="0.9"/><circle cx="71.6" cy="792.5" r="0.9"/><circle cx="77.6" cy="801.0" r="0.9"/><circle cx="89.3" cy="791.0" r="0.9"/><circle cx="108.8" cy="807.9" r="0.9"/><circle cx="94.9" cy="804.2" r="0.9"/><circle cx="54.4" cy="805.5" r="0.9"/><circle cx="56.7" cy="804.3" r="0.9"/><circle cx="83.9" cy="797.5" r="0.9"/><circle cx="84.9" cy="779.3" r="0.9"/><circle cx="99.0" cy="807.4" r="0.9"/><circle cx="88.4" cy="807.7" r="0.9"/><circle cx="61.3" cy="798.6" r="0.9"/><circle cx="75.8" cy="794.2" r="0.9"/><circle cx="97.4" cy="800.1" r="0.9"/><circle cx="80.7" cy="801.6" r="0.9"/><circle cx="83.4" cy="795.9" r="0.9"/><circle cx="86.4" cy="803.3" r="0.9"/><circle cx="63.8" cy="807.7" r="0.9"/><circle cx="88.2" cy="800.9" r="0.9"/><circle cx="95.4" cy="807.6" r="0.9"/><circle cx="106.8" cy="807.4" r="0.9"/><circle cx="76.9" cy="798.4" r="0.9"/><circle cx="66.1" cy="797.0" r="0.9"/><circle cx="93.9" cy="798.7" r="0.9"/><circle cx="99.4" cy="794.4" r="0.9"/><circle cx="82.0" cy="799.1" r="0.9"/><circle cx="54.5" cy="796.9" r="0.9"/><circle cx="73.3" cy="792.2" r="0.9"/><circle cx="64.6" cy="795.2" r="0.9"/><circle cx="89.3" cy="796.8" r="0.9"/><circle cx="107.3" cy="789.8" r="0.9"/><circle cx="57.5" cy="783.6" r="0.9"/><circle cx="88.2" cy="801.8" r="0.9"/><circle cx="84.9" cy="795.7" r="0.9"/><circle cx="82.4" cy="789.1" r="0.9"/><circle cx="64.0" cy="780.0" r="0.9"/><circle cx="103.0" cy="807.7" r="0.9"/><circle cx="65.0" cy="800.0" r="0.9"/><circle cx="57.9" cy="796.5" r="0.9"/><circle cx="56.1" cy="791.9" r="0.9"/><circle cx="82.3" cy="801.4" r="0.9"/><circle cx="62.1" cy="802.2" r="0.9"/><circle cx="100.6" cy="807.4" r="0.9"/><circle cx="90.8" cy="793.8" r="0.9"/><circle cx="64.4" cy="800.0" r="0.9"/><circle cx="90.9" cy="801.5" r="0.9"/><circle cx="109.4" cy="802.6" r="0.9"/><circle cx="87.8" cy="782.5" r="0.9"/><circle cx="69.7" cy="807.1" r="0.9"/><circle cx="56.6" cy="807.3" r="0.9"/><circle cx="75.3" cy="791.6" r="0.9"/><circle cx="89.2" cy="807.4" r="0.9"/><circle cx="83.8" cy="807.3" r="0.9"/><circle cx="86.8" cy="791.3" r="0.9"/><circle cx="58.9" cy="801.8" r="0.9"/><circle cx="73.3" cy="806.8" r="0.9"/><circle cx="85.0" cy="782.6" r="0.9"/><circle cx="105.0" cy="799.6" r="0.9"/><circle cx="69.7" cy="802.8" r="0.9"/><circle cx="96.9" cy="783.6" r="0.9"/><circle cx="69.4" cy="801.6" r="0.9"/><circle cx="71.0" cy="801.0" r="0.9"/><circle cx="79.1" cy="787.4" r="0.9"/><circle cx="92.1" cy="795.8" r="0.9"/><circle cx="88.4" cy="784.1" r="0.9"/><circle cx="53.1" cy="797.3" r="0.9"/><circle cx="79.2" cy="780.6" r="0.9"/><circle cx="98.7" cy="807.5" r="0.9"/><circle cx="89.8" cy="807.3" r="0.9"/><circle cx="87.4" cy="783.4" r="0.9"/><circle cx="82.4" cy="806.4" r="0.9"/><circle cx="89.6" cy="804.5" r="0.9"/><circle cx="88.7" cy="797.1" r="0.9"/><circle cx="74.9" cy="802.3" r="0.9"/><circle cx="91.0" cy="798.0" r="0.9"/><circle cx="86.6" cy="790.8" r="0.9"/><circle cx="75.8" cy="786.3" r="0.9"/><circle cx="101.5" cy="787.1" r="0.9"/><circle cx="103.5" cy="780.9" r="0.9"/><circle cx="82.4" cy="790.7" r="0.9"/><circle cx="76.5" cy="800.1" r="0.9"/><circle cx="87.6" cy="779.5" r="0.9"/><circle cx="60.0" cy="805.3" r="0.9"/><circle cx="66.0" cy="780.4" r="0.9"/><circle cx="66.8" cy="806.8" r="0.9"/><circle cx="97.0" cy="805.8" r="0.9"/><circle cx="74.0" cy="795.1" r="0.9"/><circle cx="54.1" cy="806.9" r="0.9"/><circle cx="62.4" cy="804.7" r="0.9"/><circle cx="86.5" cy="804.9" r="0.9"/><circle cx="65.5" cy="805.9" r="0.9"/><circle cx="70.1" cy="796.3" r="0.9"/><circle cx="79.8" cy="804.1" r="0.9"/><circle cx="105.0" cy="802.2" r="0.9"/><circle cx="97.9" cy="798.3" r="0.9"/><circle cx="54.4" cy="781.4" r="0.9"/><circle cx="74.3" cy="796.9" r="0.9"/><circle cx="65.2" cy="779.5" r="0.9"/><circle cx="65.8" cy="807.9" r="0.9"/><circle cx="69.8" cy="787.5" r="0.9"/><circle cx="87.2" cy="806.2" r="0.9"/><circle cx="67.4" cy="804.2" r="0.9"/><circle cx="81.9" cy="793.3" r="0.9"/><circle cx="67.5" cy="796.7" r="0.9"/><circle cx="89.0" cy="808.0" r="0.9"/><circle cx="101.1" cy="786.5" r="0.9"/><circle cx="65.0" cy="790.5" r="0.9"/><circle cx="75.0" cy="798.7" r="0.9"/><circle cx="86.0" cy="785.1" r="0.9"/><circle cx="89.9" cy="800.2" r="0.9"/><circle cx="57.3" cy="786.3" r="0.9"/><circle cx="78.1" cy="797.0" r="0.9"/><circle cx="91.9" cy="803.0" r="0.9"/><circle cx="55.6" cy="803.1" r="0.9"/><circle cx="86.3" cy="801.7" r="0.9"/><circle cx="58.1" cy="800.8" r="0.9"/><circle cx="98.4" cy="786.2" r="0.9"/><circle cx="52.7" cy="801.3" r="0.9"/><circle cx="65.8" cy="795.7" r="0.9"/><circle cx="52.5" cy="779.5" r="0.9"/><circle cx="64.0" cy="794.0" r="0.9"/><circle cx="70.0" cy="796.5" r="0.9"/><circle cx="68.2" cy="800.9" r="0.9"/><circle cx="66.9" cy="805.4" r="0.9"/><circle cx="71.1" cy="781.5" r="0.9"/><circle cx="86.7" cy="802.5" r="0.9"/><circle cx="57.4" cy="806.4" r="0.9"/><circle cx="84.5" cy="790.8" r="0.9"/><circle cx="71.3" cy="785.9" r="0.9"/><circle cx="56.3" cy="804.9" r="0.9"/><circle cx="58.0" cy="800.5" r="0.9"/><circle cx="96.2" cy="799.9" r="0.9"/><circle cx="83.1" cy="788.6" r="0.9"/><circle cx="74.4" cy="802.5" r="0.9"/><circle cx="52.7" cy="800.7" r="0.9"/><circle cx="109.0" cy="787.7" r="0.9"/><circle cx="87.3" cy="807.9" r="0.9"/><circle cx="68.4" cy="792.8" r="0.9"/><circle cx="70.1" cy="797.5" r="0.9"/><circle cx="99.9" cy="794.2" r="0.9"/><circle cx="88.8" cy="783.2" r="0.9"/><circle cx="68.9" cy="797.8" r="0.9"/><circle cx="86.2" cy="779.7" r="0.9"/><circle cx="86.3" cy="785.9" r="0.9"/><circle cx="97.4" cy="793.6" r="0.9"/><circle cx="56.0" cy="804.5" r="0.9"/><circle cx="85.5" cy="802.5" r="0.9"/><circle cx="72.9" cy="798.9" r="0.9"/><circle cx="98.7" cy="806.5" r="0.9"/><circle cx="83.5" cy="795.9" r="0.9"/><circle cx="64.7" cy="783.0" r="0.9"/><circle cx="99.4" cy="794.5" r="0.9"/><circle cx="91.6" cy="803.5" r="0.9"/><circle cx="66.0" cy="795.4" r="0.9"/><circle cx="62.8" cy="796.3" r="0.9"/><circle cx="53.5" cy="805.8" r="0.9"/><circle cx="109.2" cy="767.8" r="0.9"/><circle cx="90.2" cy="778.7" r="0.9"/><circle cx="90.9" cy="771.3" r="0.9"/><circle cx="74.1" cy="773.8" r="0.9"/><circle cx="98.6" cy="783.7" r="0.9"/><circle cx="63.6" cy="775.9" r="0.9"/><circle cx="60.3" cy="777.3" r="0.9"/><circle cx="85.0" cy="781.0" r="0.9"/><circle cx="82.1" cy="779.4" r="0.9"/><circle cx="84.9" cy="778.2" r="0.9"/><circle cx="89.2" cy="783.3" r="0.9"/><circle cx="90.9" cy="781.4" r="0.9"/><circle cx="107.6" cy="773.6" r="0.9"/><circle cx="79.3" cy="776.9" r="0.9"/><circle cx="88.2" cy="772.1" r="0.9"/><circle cx="96.0" cy="771.0" r="0.9"/><circle cx="80.2" cy="766.9" r="0.9"/><circle cx="100.6" cy="769.3" r="0.9"/><circle cx="75.7" cy="776.5" r="0.9"/><circle cx="84.8" cy="768.4" r="0.9"/><circle cx="82.5" cy="774.9" r="0.9"/><circle cx="77.1" cy="768.4" r="0.9"/><circle cx="70.6" cy="765.3" r="0.9"/><circle cx="94.1" cy="742.0" r="0.9"/><circle cx="94.5" cy="750.4" r="0.9"/><circle cx="95.6" cy="758.4" r="0.9"/><circle cx="86.4" cy="764.8" r="0.9"/><circle cx="59.2" cy="754.5" r="0.9"/><circle cx="81.2" cy="755.9" r="0.9"/><circle cx="55.0" cy="747.7" r="0.9"/><circle cx="82.5" cy="760.2" r="0.9"/><circle cx="69.8" cy="755.9" r="0.9"/></g>
<line x1="49.8" y1="796.2" x2="111.8" y2="805.0" stroke="#3f6fe0" stroke-width="1.6" />
<g fill="#1a1a1a" fill-opacity="0.55"><circle cx="140.0" cy="802.8" r="0.9"/><circle cx="123.9" cy="746.9" r="0.9"/><circle cx="124.3" cy="775.0" r="0.9"/><circle cx="124.1" cy="762.7" r="0.9"/><circle cx="118.8" cy="803.4" r="0.9"/><circle cx="126.8" cy="753.3" r="0.9"/><circle cx="120.0" cy="807.7" r="0.9"/><circle cx="123.1" cy="784.9" r="0.9"/><circle cx="123.0" cy="748.5" r="0.9"/><circle cx="118.5" cy="799.8" r="0.9"/><circle cx="138.8" cy="798.4" r="0.9"/><circle cx="124.3" cy="761.8" r="0.9"/><circle cx="126.7" cy="794.3" r="0.9"/><circle cx="130.2" cy="808.9" r="0.9"/><circle cx="126.3" cy="809.1" r="0.9"/><circle cx="123.3" cy="787.7" r="0.9"/><circle cx="125.4" cy="750.2" r="0.9"/><circle cx="120.2" cy="804.1" r="0.9"/><circle cx="138.3" cy="800.0" r="0.9"/><circle cx="129.3" cy="804.5" r="0.9"/><circle cx="123.3" cy="759.7" r="0.9"/><circle cx="128.3" cy="805.4" r="0.9"/><circle cx="123.0" cy="755.6" r="0.9"/><circle cx="118.7" cy="777.7" r="0.9"/><circle cx="121.1" cy="804.7" r="0.9"/><circle cx="120.9" cy="807.5" r="0.9"/><circle cx="125.0" cy="769.9" r="0.9"/><circle cx="131.8" cy="756.6" r="0.9"/><circle cx="126.6" cy="771.0" r="0.9"/><circle cx="125.6" cy="749.9" r="0.9"/><circle cx="124.6" cy="791.3" r="0.9"/><circle cx="122.0" cy="799.4" r="0.9"/><circle cx="120.2" cy="771.2" r="0.9"/><circle cx="124.9" cy="802.8" r="0.9"/><circle cx="120.5" cy="775.1" r="0.9"/><circle cx="126.3" cy="775.3" r="0.9"/><circle cx="122.5" cy="755.2" r="0.9"/><circle cx="122.5" cy="799.7" r="0.9"/><circle cx="121.0" cy="751.0" r="0.9"/><circle cx="124.4" cy="777.1" r="0.9"/><circle cx="130.5" cy="807.9" r="0.9"/><circle cx="119.6" cy="785.6" r="0.9"/><circle cx="130.5" cy="785.4" r="0.9"/><circle cx="122.5" cy="800.5" r="0.9"/><circle cx="120.0" cy="802.1" r="0.9"/><circle cx="122.8" cy="800.5" r="0.9"/><circle cx="118.7" cy="767.2" r="0.9"/><circle cx="125.9" cy="784.2" r="0.9"/><circle cx="144.4" cy="804.9" r="0.9"/><circle cx="138.7" cy="809.1" r="0.9"/><circle cx="118.5" cy="790.2" r="0.9"/><circle cx="124.6" cy="750.7" r="0.9"/><circle cx="123.6" cy="787.6" r="0.9"/><circle cx="128.3" cy="776.7" r="0.9"/><circle cx="128.2" cy="796.5" r="0.9"/><circle cx="132.2" cy="786.4" r="0.9"/><circle cx="126.5" cy="787.2" r="0.9"/><circle cx="130.2" cy="786.1" r="0.9"/><circle cx="123.3" cy="748.5" r="0.9"/><circle cx="135.5" cy="805.6" r="0.9"/><circle cx="119.4" cy="779.6" r="0.9"/><circle cx="126.6" cy="765.7" r="0.9"/><circle cx="119.9" cy="764.4" r="0.9"/><circle cx="125.2" cy="788.3" r="0.9"/><circle cx="129.6" cy="803.4" r="0.9"/><circle cx="124.9" cy="809.0" r="0.9"/><circle cx="121.0" cy="780.5" r="0.9"/><circle cx="127.0" cy="756.3" r="0.9"/><circle cx="119.7" cy="805.1" r="0.9"/><circle cx="120.0" cy="787.9" r="0.9"/><circle cx="125.6" cy="792.0" r="0.9"/><circle cx="120.5" cy="763.3" r="0.9"/><circle cx="130.7" cy="808.3" r="0.9"/><circle cx="125.0" cy="784.5" r="0.9"/><circle cx="118.8" cy="764.0" r="0.9"/><circle cx="124.3" cy="799.2" r="0.9"/><circle cx="124.7" cy="808.9" r="0.9"/><circle cx="130.4" cy="785.8" r="0.9"/><circle cx="122.4" cy="801.5" r="0.9"/><circle cx="120.1" cy="761.3" r="0.9"/><circle cx="118.7" cy="805.4" r="0.9"/><circle cx="123.3" cy="772.9" r="0.9"/><circle cx="119.1" cy="760.3" r="0.9"/><circle cx="121.9" cy="793.5" r="0.9"/><circle cx="124.2" cy="796.2" r="0.9"/><circle cx="147.8" cy="808.9" r="0.9"/><circle cx="120.5" cy="788.3" r="0.9"/><circle cx="150.8" cy="806.4" r="0.9"/><circle cx="118.6" cy="790.6" r="0.9"/><circle cx="121.5" cy="802.6" r="0.9"/><circle cx="122.6" cy="754.6" r="0.9"/><circle cx="126.6" cy="799.8" r="0.9"/><circle cx="120.8" cy="792.6" r="0.9"/><circle cx="119.2" cy="743.8" r="0.9"/><circle cx="119.0" cy="766.6" r="0.9"/><circle cx="126.2" cy="802.0" r="0.9"/><circle cx="119.0" cy="783.9" r="0.9"/><circle cx="125.4" cy="750.4" r="0.9"/><circle cx="133.4" cy="796.3" r="0.9"/><circle cx="139.5" cy="779.4" r="0.9"/><circle cx="131.9" cy="809.0" r="0.9"/><circle cx="127.8" cy="808.6" r="0.9"/><circle cx="125.5" cy="797.4" r="0.9"/><circle cx="135.1" cy="780.9" r="0.9"/><circle cx="124.9" cy="755.0" r="0.9"/><circle cx="120.1" cy="759.2" r="0.9"/><circle cx="119.9" cy="795.3" r="0.9"/><circle cx="125.5" cy="797.2" r="0.9"/><circle cx="124.7" cy="805.0" r="0.9"/><circle cx="120.5" cy="804.2" r="0.9"/><circle cx="127.6" cy="803.7" r="0.9"/><circle cx="120.2" cy="791.2" r="0.9"/><circle cx="123.3" cy="744.1" r="0.9"/><circle cx="138.0" cy="804.1" r="0.9"/><circle cx="132.4" cy="795.1" r="0.9"/><circle cx="125.4" cy="796.3" r="0.9"/><circle cx="125.2" cy="801.0" r="0.9"/><circle cx="119.3" cy="801.6" r="0.9"/><circle cx="132.6" cy="794.5" r="0.9"/><circle cx="126.3" cy="801.3" r="0.9"/><circle cx="132.1" cy="796.4" r="0.9"/><circle cx="138.2" cy="796.5" r="0.9"/><circle cx="121.2" cy="766.3" r="0.9"/><circle cx="142.8" cy="809.2" r="0.9"/><circle cx="121.7" cy="798.6" r="0.9"/><circle cx="120.3" cy="755.4" r="0.9"/><circle cx="120.1" cy="798.4" r="0.9"/><circle cx="132.0" cy="808.7" r="0.9"/><circle cx="118.7" cy="794.5" r="0.9"/><circle cx="121.7" cy="806.1" r="0.9"/><circle cx="126.0" cy="780.6" r="0.9"/><circle cx="120.2" cy="792.6" r="0.9"/><circle cx="127.9" cy="784.5" r="0.9"/><circle cx="131.1" cy="801.7" r="0.9"/><circle cx="120.7" cy="769.9" r="0.9"/><circle cx="123.8" cy="804.1" r="0.9"/><circle cx="121.0" cy="800.7" r="0.9"/><circle cx="128.5" cy="794.9" r="0.9"/><circle cx="119.3" cy="757.0" r="0.9"/><circle cx="126.9" cy="797.3" r="0.9"/><circle cx="120.8" cy="803.7" r="0.9"/><circle cx="119.0" cy="777.8" r="0.9"/><circle cx="127.4" cy="782.8" r="0.9"/><circle cx="145.2" cy="799.8" r="0.9"/><circle cx="123.5" cy="774.6" r="0.9"/><circle cx="121.3" cy="773.0" r="0.9"/><circle cx="134.6" cy="774.9" r="0.9"/><circle cx="124.5" cy="802.9" r="0.9"/><circle cx="126.1" cy="777.7" r="0.9"/><circle cx="124.2" cy="794.6" r="0.9"/><circle cx="126.0" cy="808.6" r="0.9"/><circle cx="124.1" cy="787.8" r="0.9"/><circle cx="124.3" cy="800.7" r="0.9"/><circle cx="126.7" cy="789.3" r="0.9"/><circle cx="122.6" cy="805.6" r="0.9"/><circle cx="125.6" cy="807.9" r="0.9"/><circle cx="123.7" cy="797.5" r="0.9"/><circle cx="120.9" cy="781.6" r="0.9"/><circle cx="130.3" cy="772.0" r="0.9"/><circle cx="124.3" cy="809.2" r="0.9"/><circle cx="120.9" cy="794.6" r="0.9"/><circle cx="121.2" cy="793.9" r="0.9"/><circle cx="133.5" cy="808.7" r="0.9"/><circle cx="118.9" cy="789.7" r="0.9"/><circle cx="118.5" cy="798.4" r="0.9"/><circle cx="120.7" cy="797.2" r="0.9"/><circle cx="123.2" cy="754.5" r="0.9"/><circle cx="121.1" cy="774.8" r="0.9"/><circle cx="133.3" cy="804.9" r="0.9"/><circle cx="120.1" cy="748.1" r="0.9"/><circle cx="140.1" cy="796.3" r="0.9"/><circle cx="126.8" cy="765.8" r="0.9"/><circle cx="124.9" cy="778.1" r="0.9"/><circle cx="125.5" cy="793.2" r="0.9"/><circle cx="128.9" cy="800.9" r="0.9"/><circle cx="136.7" cy="795.2" r="0.9"/><circle cx="121.8" cy="752.7" r="0.9"/><circle cx="119.7" cy="787.1" r="0.9"/><circle cx="136.8" cy="799.3" r="0.9"/><circle cx="141.8" cy="806.2" r="0.9"/><circle cx="120.7" cy="804.6" r="0.9"/><circle cx="134.6" cy="802.9" r="0.9"/><circle cx="129.4" cy="809.3" r="0.9"/><circle cx="121.4" cy="802.6" r="0.9"/><circle cx="125.5" cy="788.0" r="0.9"/><circle cx="127.3" cy="778.3" r="0.9"/><circle cx="130.1" cy="783.2" r="0.9"/><circle cx="142.2" cy="798.0" r="0.9"/><circle cx="125.2" cy="797.2" r="0.9"/><circle cx="123.0" cy="770.7" r="0.9"/><circle cx="126.6" cy="772.5" r="0.9"/><circle cx="135.3" cy="760.9" r="0.9"/><circle cx="127.7" cy="805.8" r="0.9"/><circle cx="125.7" cy="783.0" r="0.9"/><circle cx="122.3" cy="795.9" r="0.9"/><circle cx="133.4" cy="785.2" r="0.9"/><circle cx="118.5" cy="802.8" r="0.9"/><circle cx="128.2" cy="805.2" r="0.9"/><circle cx="120.9" cy="786.6" r="0.9"/><circle cx="121.4" cy="808.4" r="0.9"/><circle cx="120.0" cy="807.6" r="0.9"/><circle cx="123.1" cy="790.9" r="0.9"/><circle cx="122.9" cy="765.8" r="0.9"/><circle cx="119.0" cy="756.9" r="0.9"/><circle cx="123.4" cy="756.6" r="0.9"/><circle cx="120.9" cy="787.1" r="0.9"/><circle cx="127.6" cy="763.5" r="0.9"/><circle cx="129.1" cy="802.1" r="0.9"/><circle cx="121.8" cy="770.7" r="0.9"/><circle cx="124.6" cy="766.9" r="0.9"/><circle cx="122.8" cy="759.2" r="0.9"/><circle cx="129.8" cy="792.8" r="0.9"/><circle cx="129.3" cy="771.5" r="0.9"/><circle cx="128.1" cy="763.1" r="0.9"/><circle cx="130.3" cy="807.0" r="0.9"/><circle cx="129.7" cy="803.0" r="0.9"/><circle cx="133.0" cy="804.9" r="0.9"/><circle cx="119.2" cy="749.5" r="0.9"/><circle cx="124.4" cy="746.5" r="0.9"/><circle cx="129.7" cy="792.9" r="0.9"/><circle cx="134.4" cy="777.7" r="0.9"/><circle cx="126.5" cy="744.6" r="0.9"/><circle cx="119.8" cy="808.8" r="0.9"/><circle cx="124.0" cy="808.9" r="0.9"/><circle cx="122.4" cy="800.4" r="0.9"/><circle cx="153.6" cy="807.1" r="0.9"/><circle cx="131.3" cy="798.2" r="0.9"/><circle cx="120.5" cy="788.8" r="0.9"/><circle cx="125.1" cy="795.7" r="0.9"/><circle cx="130.2" cy="759.6" r="0.9"/><circle cx="129.9" cy="800.6" r="0.9"/><circle cx="125.1" cy="766.4" r="0.9"/><circle cx="125.3" cy="745.4" r="0.9"/><circle cx="127.5" cy="784.3" r="0.9"/><circle cx="121.2" cy="763.2" r="0.9"/><circle cx="124.0" cy="807.5" r="0.9"/><circle cx="118.6" cy="750.3" r="0.9"/><circle cx="131.4" cy="807.1" r="0.9"/><circle cx="131.8" cy="798.5" r="0.9"/><circle cx="120.2" cy="806.4" r="0.9"/><circle cx="119.4" cy="778.2" r="0.9"/><circle cx="125.3" cy="788.8" r="0.9"/><circle cx="118.7" cy="796.1" r="0.9"/><circle cx="122.1" cy="808.5" r="0.9"/><circle cx="119.5" cy="754.4" r="0.9"/><circle cx="122.6" cy="805.0" r="0.9"/><circle cx="124.9" cy="788.7" r="0.9"/><circle cx="118.6" cy="756.9" r="0.9"/><circle cx="133.3" cy="788.7" r="0.9"/><circle cx="127.8" cy="794.4" r="0.9"/><circle cx="134.1" cy="808.7" r="0.9"/><circle cx="122.4" cy="778.4" r="0.9"/><circle cx="138.1" cy="800.9" r="0.9"/><circle cx="122.7" cy="744.0" r="0.9"/><circle cx="126.4" cy="791.4" r="0.9"/><circle cx="133.7" cy="805.3" r="0.9"/><circle cx="121.3" cy="809.1" r="0.9"/><circle cx="123.4" cy="808.3" r="0.9"/><circle cx="118.7" cy="796.5" r="0.9"/><circle cx="126.5" cy="786.6" r="0.9"/><circle cx="125.6" cy="809.3" r="0.9"/><circle cx="146.2" cy="809.3" r="0.9"/><circle cx="124.5" cy="785.7" r="0.9"/><circle cx="131.3" cy="769.0" r="0.9"/><circle cx="124.6" cy="794.2" r="0.9"/><circle cx="131.9" cy="766.2" r="0.9"/><circle cx="129.7" cy="744.9" r="0.9"/><circle cx="133.0" cy="794.0" r="0.9"/><circle cx="118.6" cy="771.6" r="0.9"/><circle cx="143.3" cy="809.2" r="0.9"/><circle cx="119.8" cy="782.0" r="0.9"/><circle cx="128.5" cy="795.9" r="0.9"/><circle cx="121.5" cy="775.7" r="0.9"/><circle cx="126.0" cy="777.2" r="0.9"/><circle cx="122.6" cy="796.8" r="0.9"/><circle cx="140.7" cy="798.6" r="0.9"/><circle cx="127.9" cy="807.8" r="0.9"/><circle cx="133.9" cy="803.9" r="0.9"/><circle cx="129.7" cy="768.3" r="0.9"/><circle cx="123.2" cy="805.2" r="0.9"/><circle cx="125.0" cy="807.5" r="0.9"/><circle cx="125.6" cy="792.2" r="0.9"/><circle cx="130.0" cy="809.3" r="0.9"/><circle cx="118.7" cy="798.6" r="0.9"/><circle cx="124.4" cy="785.0" r="0.9"/><circle cx="119.8" cy="755.6" r="0.9"/><circle cx="118.6" cy="798.6" r="0.9"/><circle cx="121.2" cy="744.7" r="0.9"/><circle cx="125.2" cy="792.2" r="0.9"/><circle cx="120.1" cy="793.6" r="0.9"/><circle cx="121.3" cy="771.6" r="0.9"/><circle cx="124.4" cy="774.0" r="0.9"/><circle cx="120.2" cy="748.8" r="0.9"/><circle cx="124.3" cy="796.6" r="0.9"/><circle cx="123.3" cy="744.5" r="0.9"/><circle cx="130.0" cy="795.4" r="0.9"/><circle cx="121.3" cy="776.7" r="0.9"/><circle cx="127.3" cy="754.9" r="0.9"/><circle cx="124.1" cy="757.9" r="0.9"/><circle cx="126.2" cy="782.7" r="0.9"/><circle cx="127.4" cy="807.3" r="0.9"/><circle cx="131.2" cy="790.8" r="0.9"/><circle cx="125.7" cy="775.0" r="0.9"/><circle cx="123.7" cy="803.1" r="0.9"/><circle cx="128.0" cy="780.2" r="0.9"/><circle cx="124.5" cy="809.1" r="0.9"/><circle cx="129.4" cy="778.1" r="0.9"/><circle cx="122.4" cy="780.6" r="0.9"/><circle cx="122.5" cy="750.5" r="0.9"/><circle cx="123.7" cy="744.2" r="0.9"/><circle cx="123.4" cy="768.8" r="0.9"/><circle cx="127.0" cy="744.5" r="0.9"/><circle cx="122.0" cy="794.0" r="0.9"/><circle cx="120.7" cy="744.5" r="0.9"/><circle cx="120.3" cy="788.2" r="0.9"/><circle cx="134.6" cy="776.3" r="0.9"/><circle cx="123.7" cy="749.9" r="0.9"/><circle cx="133.2" cy="786.8" r="0.9"/><circle cx="128.9" cy="744.1" r="0.9"/><circle cx="124.9" cy="771.1" r="0.9"/><circle cx="122.6" cy="802.1" r="0.9"/><circle cx="128.0" cy="785.0" r="0.9"/><circle cx="120.3" cy="757.0" r="0.9"/><circle cx="125.0" cy="776.8" r="0.9"/><circle cx="137.1" cy="808.3" r="0.9"/><circle cx="124.1" cy="788.2" r="0.9"/><circle cx="125.0" cy="802.5" r="0.9"/><circle cx="132.6" cy="765.9" r="0.9"/><circle cx="132.0" cy="784.1" r="0.9"/><circle cx="129.5" cy="806.1" r="0.9"/><circle cx="120.7" cy="796.1" r="0.9"/><circle cx="120.2" cy="797.3" r="0.9"/><circle cx="120.2" cy="757.1" r="0.9"/><circle cx="123.2" cy="805.0" r="0.9"/><circle cx="126.6" cy="794.8" r="0.9"/><circle cx="125.7" cy="753.5" r="0.9"/><circle cx="126.1" cy="808.4" r="0.9"/><circle cx="118.9" cy="777.9" r="0.9"/><circle cx="119.1" cy="755.9" r="0.9"/><circle cx="123.9" cy="774.7" r="0.9"/><circle cx="127.4" cy="792.2" r="0.9"/><circle cx="119.4" cy="798.9" r="0.9"/><circle cx="120.6" cy="777.9" r="0.9"/><circle cx="129.3" cy="772.5" r="0.9"/><circle cx="130.2" cy="805.1" r="0.9"/><circle cx="129.2" cy="789.9" r="0.9"/><circle cx="138.2" cy="806.8" r="0.9"/><circle cx="132.3" cy="779.4" r="0.9"/><circle cx="129.5" cy="796.6" r="0.9"/><circle cx="143.4" cy="772.8" r="0.9"/><circle cx="122.8" cy="768.9" r="0.9"/><circle cx="125.1" cy="793.6" r="0.9"/><circle cx="126.4" cy="806.3" r="0.9"/><circle cx="124.0" cy="761.3" r="0.9"/><circle cx="129.9" cy="793.6" r="0.9"/><circle cx="120.4" cy="749.5" r="0.9"/><circle cx="120.7" cy="797.3" r="0.9"/><circle cx="124.8" cy="781.8" r="0.9"/><circle cx="124.5" cy="800.5" r="0.9"/><circle cx="122.5" cy="758.1" r="0.9"/><circle cx="136.9" cy="774.0" r="0.9"/><circle cx="125.0" cy="794.9" r="0.9"/><circle cx="125.3" cy="768.3" r="0.9"/><circle cx="125.8" cy="808.5" r="0.9"/><circle cx="120.6" cy="792.9" r="0.9"/><circle cx="124.8" cy="748.1" r="0.9"/><circle cx="123.8" cy="800.1" r="0.9"/><circle cx="133.6" cy="802.4" r="0.9"/><circle cx="132.7" cy="793.4" r="0.9"/><circle cx="135.3" cy="802.1" r="0.9"/><circle cx="128.5" cy="792.8" r="0.9"/><circle cx="129.2" cy="758.5" r="0.9"/><circle cx="122.4" cy="780.9" r="0.9"/><circle cx="119.3" cy="754.0" r="0.9"/><circle cx="125.6" cy="808.0" r="0.9"/><circle cx="124.3" cy="770.1" r="0.9"/><circle cx="128.4" cy="774.7" r="0.9"/><circle cx="129.2" cy="748.6" r="0.9"/><circle cx="127.0" cy="809.2" r="0.9"/><circle cx="127.0" cy="796.4" r="0.9"/><circle cx="124.3" cy="790.0" r="0.9"/><circle cx="130.4" cy="779.8" r="0.9"/><circle cx="136.6" cy="746.5" r="0.9"/><circle cx="123.1" cy="794.4" r="0.9"/><circle cx="124.9" cy="760.5" r="0.9"/><circle cx="125.5" cy="743.7" r="0.9"/><circle cx="129.6" cy="808.5" r="0.9"/><circle cx="120.5" cy="775.8" r="0.9"/><circle cx="125.9" cy="803.6" r="0.9"/><circle cx="118.9" cy="795.9" r="0.9"/><circle cx="132.9" cy="806.4" r="0.9"/><circle cx="129.8" cy="808.1" r="0.9"/><circle cx="127.6" cy="805.6" r="0.9"/><circle cx="127.2" cy="768.4" r="0.9"/><circle cx="125.0" cy="802.0" r="0.9"/><circle cx="129.7" cy="765.4" r="0.9"/><circle cx="120.4" cy="807.1" r="0.9"/><circle cx="118.7" cy="757.6" r="0.9"/><circle cx="119.6" cy="749.2" r="0.9"/><circle cx="119.9" cy="797.0" r="0.9"/><circle cx="129.7" cy="799.9" r="0.9"/><circle cx="123.2" cy="790.1" r="0.9"/><circle cx="125.6" cy="800.6" r="0.9"/><circle cx="123.3" cy="799.0" r="0.9"/><circle cx="123.4" cy="808.2" r="0.9"/><circle cx="129.2" cy="805.0" r="0.9"/><circle cx="137.0" cy="805.8" r="0.9"/><circle cx="127.3" cy="808.6" r="0.9"/><circle cx="124.5" cy="801.9" r="0.9"/><circle cx="130.2" cy="801.7" r="0.9"/><circle cx="141.0" cy="808.0" r="0.9"/><circle cx="141.0" cy="807.3" r="0.9"/><circle cx="157.2" cy="800.1" r="0.9"/><circle cx="127.2" cy="797.6" r="0.9"/><circle cx="141.9" cy="768.3" r="0.9"/><circle cx="127.3" cy="809.2" r="0.9"/><circle cx="123.7" cy="788.3" r="0.9"/><circle cx="135.3" cy="793.9" r="0.9"/><circle cx="123.7" cy="800.0" r="0.9"/><circle cx="122.3" cy="807.9" r="0.9"/><circle cx="125.6" cy="767.5" r="0.9"/><circle cx="132.3" cy="786.1" r="0.9"/><circle cx="122.5" cy="802.7" r="0.9"/><circle cx="122.8" cy="805.6" r="0.9"/><circle cx="123.2" cy="778.3" r="0.9"/><circle cx="126.0" cy="801.0" r="0.9"/><circle cx="132.6" cy="782.4" r="0.9"/><circle cx="151.3" cy="799.0" r="0.9"/><circle cx="129.0" cy="780.4" r="0.9"/><circle cx="127.0" cy="804.9" r="0.9"/><circle cx="135.4" cy="805.6" r="0.9"/><circle cx="126.6" cy="802.4" r="0.9"/><circle cx="128.5" cy="803.9" r="0.9"/><circle cx="127.6" cy="801.9" r="0.9"/><circle cx="122.5" cy="787.0" r="0.9"/><circle cx="122.6" cy="800.1" r="0.9"/><circle cx="129.9" cy="803.0" r="0.9"/><circle cx="124.5" cy="808.0" r="0.9"/><circle cx="126.7" cy="804.7" r="0.9"/><circle cx="128.6" cy="806.1" r="0.9"/><circle cx="135.8" cy="801.1" r="0.9"/><circle cx="122.1" cy="802.9" r="0.9"/><circle cx="155.9" cy="809.3" r="0.9"/><circle cx="131.0" cy="769.3" r="0.9"/><circle cx="126.6" cy="798.1" r="0.9"/><circle cx="126.6" cy="804.9" r="0.9"/><circle cx="131.4" cy="798.3" r="0.9"/><circle cx="125.8" cy="800.8" r="0.9"/><circle cx="129.3" cy="792.0" r="0.9"/><circle cx="122.5" cy="808.1" r="0.9"/><circle cx="124.9" cy="805.4" r="0.9"/><circle cx="137.9" cy="802.5" r="0.9"/><circle cx="141.7" cy="803.0" r="0.9"/><circle cx="125.4" cy="795.3" r="0.9"/><circle cx="122.9" cy="758.1" r="0.9"/><circle cx="139.8" cy="804.4" r="0.9"/><circle cx="125.8" cy="788.2" r="0.9"/><circle cx="137.5" cy="796.6" r="0.9"/><circle cx="122.6" cy="791.5" r="0.9"/><circle cx="122.5" cy="797.2" r="0.9"/><circle cx="130.0" cy="776.9" r="0.9"/><circle cx="132.2" cy="809.1" r="0.9"/><circle cx="149.2" cy="792.1" r="0.9"/><circle cx="130.7" cy="809.3" r="0.9"/><circle cx="135.4" cy="802.6" r="0.9"/><circle cx="133.4" cy="758.5" r="0.9"/><circle cx="146.9" cy="808.4" r="0.9"/><circle cx="137.2" cy="802.2" r="0.9"/><circle cx="135.9" cy="803.5" r="0.9"/><circle cx="127.9" cy="802.2" r="0.9"/><circle cx="123.3" cy="804.6" r="0.9"/><circle cx="135.3" cy="808.4" r="0.9"/><circle cx="123.2" cy="787.1" r="0.9"/><circle cx="133.0" cy="799.5" r="0.9"/><circle cx="123.2" cy="807.8" r="0.9"/><circle cx="125.7" cy="771.3" r="0.9"/><circle cx="130.2" cy="777.8" r="0.9"/><circle cx="124.4" cy="802.7" r="0.9"/><circle cx="129.7" cy="786.7" r="0.9"/><circle cx="123.3" cy="783.8" r="0.9"/><circle cx="128.4" cy="808.9" r="0.9"/><circle cx="127.7" cy="803.5" r="0.9"/><circle cx="133.2" cy="776.8" r="0.9"/><circle cx="128.8" cy="794.9" r="0.9"/><circle cx="126.9" cy="790.7" r="0.9"/><circle cx="123.1" cy="792.6" r="0.9"/><circle cx="123.8" cy="798.4" r="0.9"/><circle cx="124.3" cy="804.1" r="0.9"/><circle cx="123.8" cy="804.0" r="0.9"/><circle cx="131.0" cy="800.3" r="0.9"/><circle cx="159.4" cy="790.2" r="0.9"/><circle cx="176.2" cy="796.9" r="0.9"/><circle cx="166.6" cy="793.1" r="0.9"/><circle cx="181.3" cy="797.8" r="0.9"/><circle cx="170.8" cy="800.7" r="0.9"/><circle cx="154.7" cy="785.4" r="0.9"/><circle cx="166.3" cy="800.0" r="0.9"/><circle cx="147.4" cy="782.5" r="0.9"/></g>
<polygon points="119.1,783.8 140.3,789.5 179.8,790.6 179.8,808.6 140.3,791.1 119.1,786.8" fill="#9a9a9a" fill-opacity="0.45"/>
<line x1="119.1" y1="785.3" x2="179.8" y2="799.6" stroke="#3f6fe0" stroke-width="1.6" />
<g fill="#1a1a1a" fill-opacity="0.55"><circle cx="203.9" cy="808.5" r="0.9"/><circle cx="206.2" cy="808.1" r="0.9"/><circle cx="211.5" cy="809.5" r="0.9"/><circle cx="226.2" cy="807.4" r="0.9"/><circle cx="208.4" cy="806.5" r="0.9"/><circle cx="219.6" cy="806.0" r="0.9"/><circle cx="200.9" cy="809.0" r="0.9"/><circle cx="189.5" cy="808.4" r="0.9"/><circle cx="211.9" cy="807.8" r="0.9"/><circle cx="202.0" cy="806.2" r="0.9"/><circle cx="227.9" cy="808.7" r="0.9"/><circle cx="221.8" cy="806.0" r="0.9"/><circle cx="220.9" cy="806.5" r="0.9"/><circle cx="196.4" cy="807.7" r="0.9"/><circle cx="213.6" cy="806.1" r="0.9"/><circle cx="220.1" cy="807.9" r="0.9"/><circle cx="225.8" cy="809.3" r="0.9"/><circle cx="216.9" cy="807.1" r="0.9"/><circle cx="227.9" cy="808.5" r="0.9"/><circle cx="200.2" cy="809.0" r="0.9"/><circle cx="218.5" cy="806.7" r="0.9"/><circle cx="198.5" cy="805.7" r="0.9"/><circle cx="210.6" cy="806.6" r="0.9"/><circle cx="200.3" cy="806.6" r="0.9"/><circle cx="193.5" cy="807.5" r="0.9"/><circle cx="199.4" cy="806.7" r="0.9"/><circle cx="199.7" cy="807.6" r="0.9"/><circle cx="224.7" cy="806.2" r="0.9"/><circle cx="224.1" cy="809.0" r="0.9"/><circle cx="213.6" cy="807.8" r="0.9"/><circle cx="218.8" cy="807.7" r="0.9"/><circle cx="215.7" cy="809.3" r="0.9"/><circle cx="220.6" cy="806.6" r="0.9"/><circle cx="190.3" cy="809.3" r="0.9"/><circle cx="203.2" cy="808.7" r="0.9"/><circle cx="197.8" cy="807.4" r="0.9"/><circle cx="203.6" cy="808.5" r="0.9"/><circle cx="227.6" cy="807.6" r="0.9"/><circle cx="211.8" cy="807.0" r="0.9"/><circle cx="197.8" cy="809.4" r="0.9"/><circle cx="192.6" cy="809.4" r="0.9"/><circle cx="215.6" cy="805.9" r="0.9"/><circle cx="225.9" cy="806.0" r="0.9"/><circle cx="211.7" cy="806.1" r="0.9"/><circle cx="229.5" cy="806.8" r="0.9"/><circle cx="224.6" cy="805.8" r="0.9"/><circle cx="216.0" cy="805.9" r="0.9"/><circle cx="189.2" cy="807.9" r="0.9"/><circle cx="229.3" cy="808.3" r="0.9"/><circle cx="223.9" cy="808.7" r="0.9"/><circle cx="209.9" cy="805.9" r="0.9"/><circle cx="210.1" cy="806.3" r="0.9"/><circle cx="210.1" cy="807.0" r="0.9"/><circle cx="209.0" cy="806.4" r="0.9"/><circle cx="217.6" cy="807.3" r="0.9"/><circle cx="208.4" cy="805.9" r="0.9"/><circle cx="208.5" cy="807.8" r="0.9"/><circle cx="228.8" cy="807.8" r="0.9"/><circle cx="193.7" cy="806.8" r="0.9"/><circle cx="202.1" cy="808.4" r="0.9"/><circle cx="227.4" cy="809.5" r="0.9"/><circle cx="227.9" cy="809.3" r="0.9"/><circle cx="224.1" cy="809.3" r="0.9"/><circle cx="188.8" cy="807.6" r="0.9"/><circle cx="212.8" cy="808.3" r="0.9"/><circle cx="213.7" cy="808.1" r="0.9"/><circle cx="227.2" cy="805.9" r="0.9"/><circle cx="209.8" cy="809.4" r="0.9"/><circle cx="189.3" cy="806.0" r="0.9"/><circle cx="224.5" cy="809.4" r="0.9"/><circle cx="189.0" cy="805.7" r="0.9"/><circle cx="222.8" cy="808.4" r="0.9"/><circle cx="209.8" cy="807.9" r="0.9"/><circle cx="219.8" cy="808.8" r="0.9"/><circle cx="188.0" cy="805.9" r="0.9"/><circle cx="221.4" cy="809.5" r="0.9"/><circle cx="223.0" cy="807.2" r="0.9"/><circle cx="202.1" cy="807.0" r="0.9"/><circle cx="188.6" cy="808.7" r="0.9"/><circle cx="199.0" cy="807.9" r="0.9"/><circle cx="199.6" cy="808.3" r="0.9"/><circle cx="189.9" cy="807.4" r="0.9"/><circle cx="190.6" cy="806.3" r="0.9"/><circle cx="214.7" cy="806.2" r="0.9"/><circle cx="188.3" cy="808.7" r="0.9"/><circle cx="202.8" cy="806.9" r="0.9"/><circle cx="189.4" cy="806.6" r="0.9"/><circle cx="206.9" cy="807.7" r="0.9"/><circle cx="188.8" cy="806.3" r="0.9"/><circle cx="214.6" cy="806.5" r="0.9"/><circle cx="191.7" cy="808.5" r="0.9"/><circle cx="199.0" cy="808.3" r="0.9"/><circle cx="192.1" cy="805.9" r="0.9"/><circle cx="203.7" cy="808.7" r="0.9"/><circle cx="188.3" cy="807.3" r="0.9"/><circle cx="197.1" cy="809.6" r="0.9"/><circle cx="196.4" cy="809.2" r="0.9"/><circle cx="196.9" cy="809.6" r="0.9"/><circle cx="193.3" cy="808.8" r="0.9"/><circle cx="192.6" cy="808.7" r="0.9"/><circle cx="200.1" cy="807.1" r="0.9"/><circle cx="207.5" cy="806.7" r="0.9"/><circle cx="205.8" cy="807.5" r="0.9"/><circle cx="199.8" cy="808.9" r="0.9"/><circle cx="203.2" cy="807.1" r="0.9"/><circle cx="189.3" cy="805.9" r="0.9"/><circle cx="194.2" cy="806.4" r="0.9"/><circle cx="191.7" cy="809.1" r="0.9"/><circle cx="217.2" cy="807.0" r="0.9"/><circle cx="195.4" cy="809.3" r="0.9"/><circle cx="200.9" cy="809.4" r="0.9"/><circle cx="204.0" cy="806.4" r="0.9"/><circle cx="200.9" cy="809.1" r="0.9"/><circle cx="202.7" cy="808.5" r="0.9"/><circle cx="201.6" cy="807.1" r="0.9"/><circle cx="192.5" cy="806.1" r="0.9"/><circle cx="192.4" cy="805.9" r="0.9"/><circle cx="218.4" cy="806.3" r="0.9"/><circle cx="190.4" cy="806.8" r="0.9"/><circle cx="191.4" cy="806.3" r="0.9"/><circle cx="199.4" cy="807.8" r="0.9"/><circle cx="199.1" cy="807.9" r="0.9"/><circle cx="189.2" cy="809.4" r="0.9"/><circle cx="203.9" cy="805.9" r="0.9"/><circle cx="188.9" cy="806.8" r="0.9"/><circle cx="193.1" cy="808.6" r="0.9"/><circle cx="201.7" cy="806.2" r="0.9"/><circle cx="195.1" cy="806.9" r="0.9"/><circle cx="197.9" cy="808.8" r="0.9"/><circle cx="192.5" cy="809.5" r="0.9"/><circle cx="205.1" cy="809.0" r="0.9"/><circle cx="192.4" cy="807.5" r="0.9"/><circle cx="199.3" cy="809.5" r="0.9"/><circle cx="217.1" cy="805.7" r="0.9"/><circle cx="189.0" cy="805.8" r="0.9"/><circle cx="201.1" cy="806.3" r="0.9"/><circle cx="197.9" cy="806.4" r="0.9"/><circle cx="206.8" cy="805.7" r="0.9"/><circle cx="192.4" cy="807.6" r="0.9"/><circle cx="210.9" cy="808.2" r="0.9"/><circle cx="196.1" cy="805.7" r="0.9"/><circle cx="189.8" cy="806.8" r="0.9"/><circle cx="197.8" cy="808.1" r="0.9"/><circle cx="190.6" cy="807.1" r="0.9"/><circle cx="205.9" cy="806.9" r="0.9"/><circle cx="191.1" cy="807.0" r="0.9"/><circle cx="200.8" cy="807.3" r="0.9"/><circle cx="199.4" cy="807.8" r="0.9"/><circle cx="199.3" cy="809.3" r="0.9"/><circle cx="190.9" cy="806.5" r="0.9"/><circle cx="211.4" cy="809.1" r="0.9"/><circle cx="198.0" cy="806.3" r="0.9"/><circle cx="225.5" cy="806.8" r="0.9"/><circle cx="190.1" cy="806.3" r="0.9"/><circle cx="189.6" cy="807.9" r="0.9"/><circle cx="197.4" cy="806.2" r="0.9"/><circle cx="198.1" cy="806.0" r="0.9"/><circle cx="191.4" cy="808.3" r="0.9"/><circle cx="197.5" cy="807.6" r="0.9"/><circle cx="201.6" cy="809.3" r="0.9"/><circle cx="200.6" cy="808.0" r="0.9"/><circle cx="189.1" cy="798.6" r="0.9"/><circle cx="190.0" cy="793.8" r="0.9"/><circle cx="204.9" cy="799.6" r="0.9"/><circle cx="200.9" cy="799.0" r="0.9"/><circle cx="196.2" cy="793.4" r="0.9"/><circle cx="198.4" cy="800.2" r="0.9"/><circle cx="190.0" cy="807.5" r="0.9"/><circle cx="190.9" cy="785.5" r="0.9"/><circle cx="197.0" cy="786.9" r="0.9"/><circle cx="188.8" cy="798.3" r="0.9"/><circle cx="216.1" cy="800.7" r="0.9"/><circle cx="217.5" cy="798.8" r="0.9"/><circle cx="198.7" cy="799.0" r="0.9"/><circle cx="194.3" cy="798.4" r="0.9"/><circle cx="212.1" cy="803.0" r="0.9"/><circle cx="191.0" cy="785.3" r="0.9"/><circle cx="196.5" cy="786.7" r="0.9"/><circle cx="216.8" cy="791.7" r="0.9"/><circle cx="191.9" cy="786.9" r="0.9"/><circle cx="193.6" cy="786.8" r="0.9"/><circle cx="211.0" cy="806.4" r="0.9"/><circle cx="192.4" cy="805.2" r="0.9"/><circle cx="198.2" cy="781.2" r="0.9"/><circle cx="203.4" cy="803.0" r="0.9"/><circle cx="190.2" cy="787.2" r="0.9"/><circle cx="210.0" cy="780.5" r="0.9"/><circle cx="206.3" cy="793.3" r="0.9"/><circle cx="205.7" cy="807.2" r="0.9"/><circle cx="195.6" cy="778.0" r="0.9"/><circle cx="195.7" cy="806.2" r="0.9"/><circle cx="196.1" cy="791.3" r="0.9"/><circle cx="189.9" cy="794.1" r="0.9"/><circle cx="225.6" cy="807.1" r="0.9"/><circle cx="188.7" cy="783.7" r="0.9"/><circle cx="192.5" cy="788.2" r="0.9"/><circle cx="193.8" cy="796.1" r="0.9"/><circle cx="213.8" cy="780.0" r="0.9"/><circle cx="197.7" cy="801.9" r="0.9"/><circle cx="199.6" cy="802.7" r="0.9"/><circle cx="195.6" cy="787.0" r="0.9"/><circle cx="189.1" cy="805.5" r="0.9"/><circle cx="200.8" cy="791.3" r="0.9"/><circle cx="206.5" cy="797.9" r="0.9"/><circle cx="192.2" cy="806.2" r="0.9"/><circle cx="197.5" cy="793.2" r="0.9"/><circle cx="200.1" cy="803.3" r="0.9"/><circle cx="216.6" cy="780.8" r="0.9"/><circle cx="197.1" cy="779.5" r="0.9"/><circle cx="193.7" cy="794.3" r="0.9"/><circle cx="209.8" cy="803.2" r="0.9"/><circle cx="193.2" cy="804.4" r="0.9"/><circle cx="202.9" cy="807.9" r="0.9"/><circle cx="190.1" cy="783.9" r="0.9"/><circle cx="202.4" cy="789.2" r="0.9"/><circle cx="191.3" cy="805.0" r="0.9"/><circle cx="193.4" cy="805.2" r="0.9"/><circle cx="204.3" cy="803.3" r="0.9"/><circle cx="191.9" cy="802.6" r="0.9"/><circle cx="189.8" cy="797.6" r="0.9"/><circle cx="205.6" cy="801.1" r="0.9"/><circle cx="193.9" cy="801.3" r="0.9"/><circle cx="189.4" cy="779.2" r="0.9"/><circle cx="202.7" cy="807.1" r="0.9"/><circle cx="206.0" cy="788.5" r="0.9"/><circle cx="196.1" cy="796.6" r="0.9"/><circle cx="207.4" cy="782.0" r="0.9"/><circle cx="211.8" cy="805.0" r="0.9"/><circle cx="231.3" cy="797.5" r="0.9"/><circle cx="199.5" cy="806.1" r="0.9"/><circle cx="188.4" cy="806.7" r="0.9"/><circle cx="192.4" cy="796.7" r="0.9"/><circle cx="190.9" cy="790.0" r="0.9"/><circle cx="208.5" cy="803.5" r="0.9"/><circle cx="190.0" cy="790.9" r="0.9"/><circle cx="206.7" cy="799.8" r="0.9"/><circle cx="193.6" cy="799.3" r="0.9"/><circle cx="190.5" cy="779.4" r="0.9"/><circle cx="191.4" cy="807.6" r="0.9"/><circle cx="190.8" cy="804.6" r="0.9"/><circle cx="192.8" cy="807.0" r="0.9"/><circle cx="201.1" cy="800.7" r="0.9"/><circle cx="207.2" cy="801.4" r="0.9"/><circle cx="197.5" cy="793.1" r="0.9"/><circle cx="195.5" cy="807.8" r="0.9"/><circle cx="204.3" cy="790.7" r="0.9"/><circle cx="191.0" cy="799.3" r="0.9"/><circle cx="191.2" cy="807.9" r="0.9"/><circle cx="199.6" cy="799.4" r="0.9"/><circle cx="193.7" cy="807.3" r="0.9"/><circle cx="212.3" cy="798.9" r="0.9"/><circle cx="195.3" cy="795.4" r="0.9"/><circle cx="202.9" cy="807.1" r="0.9"/><circle cx="222.2" cy="803.9" r="0.9"/><circle cx="192.7" cy="798.2" r="0.9"/><circle cx="213.6" cy="801.2" r="0.9"/><circle cx="209.8" cy="804.9" r="0.9"/><circle cx="204.1" cy="787.2" r="0.9"/><circle cx="191.7" cy="802.4" r="0.9"/><circle cx="201.7" cy="800.4" r="0.9"/><circle cx="198.8" cy="794.1" r="0.9"/><circle cx="191.3" cy="801.1" r="0.9"/><circle cx="195.4" cy="799.9" r="0.9"/><circle cx="209.1" cy="799.3" r="0.9"/><circle cx="198.4" cy="802.1" r="0.9"/><circle cx="197.8" cy="782.2" r="0.9"/><circle cx="210.6" cy="801.4" r="0.9"/><circle cx="191.4" cy="792.3" r="0.9"/><circle cx="188.6" cy="790.1" r="0.9"/><circle cx="198.9" cy="779.7" r="0.9"/><circle cx="198.8" cy="800.5" r="0.9"/><circle cx="204.0" cy="793.0" r="0.9"/><circle cx="191.4" cy="797.2" r="0.9"/><circle cx="210.0" cy="778.1" r="0.9"/><circle cx="199.2" cy="807.9" r="0.9"/><circle cx="205.2" cy="801.0" r="0.9"/><circle cx="189.0" cy="794.5" r="0.9"/><circle cx="198.0" cy="805.6" r="0.9"/><circle cx="221.2" cy="806.0" r="0.9"/><circle cx="212.7" cy="781.5" r="0.9"/><circle cx="204.0" cy="785.9" r="0.9"/><circle cx="194.3" cy="785.1" r="0.9"/><circle cx="201.5" cy="790.6" r="0.9"/><circle cx="199.0" cy="788.5" r="0.9"/><circle cx="188.4" cy="805.0" r="0.9"/><circle cx="205.1" cy="790.9" r="0.9"/><circle cx="203.1" cy="777.7" r="0.9"/><circle cx="194.1" cy="806.9" r="0.9"/><circle cx="190.2" cy="790.0" r="0.9"/><circle cx="199.3" cy="779.6" r="0.9"/><circle cx="190.6" cy="797.5" r="0.9"/><circle cx="204.6" cy="798.6" r="0.9"/><circle cx="197.1" cy="782.5" r="0.9"/><circle cx="203.8" cy="792.6" r="0.9"/><circle cx="193.7" cy="800.9" r="0.9"/><circle cx="210.8" cy="806.8" r="0.9"/><circle cx="199.4" cy="797.5" r="0.9"/><circle cx="196.9" cy="777.5" r="0.9"/><circle cx="217.2" cy="802.7" r="0.9"/><circle cx="201.6" cy="788.6" r="0.9"/><circle cx="197.8" cy="791.4" r="0.9"/><circle cx="193.0" cy="791.5" r="0.9"/><circle cx="194.0" cy="804.6" r="0.9"/><circle cx="199.2" cy="802.6" r="0.9"/><circle cx="190.8" cy="802.1" r="0.9"/><circle cx="188.7" cy="792.8" r="0.9"/><circle cx="194.7" cy="783.5" r="0.9"/><circle cx="197.0" cy="780.5" r="0.9"/><circle cx="188.0" cy="807.2" r="0.9"/><circle cx="196.1" cy="807.5" r="0.9"/><circle cx="193.8" cy="804.7" r="0.9"/><circle cx="208.5" cy="798.8" r="0.9"/><circle cx="189.0" cy="786.0" r="0.9"/><circle cx="190.9" cy="784.1" r="0.9"/><circle cx="192.9" cy="791.1" r="0.9"/><circle cx="207.7" cy="803.1" r="0.9"/><circle cx="194.6" cy="799.3" r="0.9"/><circle cx="194.3" cy="803.7" r="0.9"/><circle cx="210.2" cy="796.1" r="0.9"/><circle cx="196.5" cy="794.7" r="0.9"/><circle cx="197.2" cy="805.6" r="0.9"/><circle cx="188.8" cy="794.3" r="0.9"/><circle cx="207.7" cy="803.0" r="0.9"/><circle cx="215.2" cy="800.3" r="0.9"/><circle cx="210.1" cy="781.4" r="0.9"/><circle cx="198.2" cy="792.0" r="0.9"/><circle cx="193.8" cy="790.9" r="0.9"/><circle cx="198.7" cy="805.7" r="0.9"/><circle cx="207.5" cy="805.5" r="0.9"/><circle cx="205.7" cy="802.4" r="0.9"/><circle cx="190.8" cy="807.8" r="0.9"/><circle cx="208.5" cy="791.3" r="0.9"/><circle cx="211.0" cy="797.0" r="0.9"/><circle cx="197.6" cy="795.6" r="0.9"/><circle cx="191.2" cy="802.7" r="0.9"/><circle cx="190.2" cy="777.9" r="0.9"/><circle cx="208.9" cy="807.7" r="0.9"/><circle cx="203.2" cy="807.3" r="0.9"/><circle cx="207.9" cy="806.3" r="0.9"/><circle cx="190.6" cy="804.6" r="0.9"/><circle cx="198.0" cy="803.5" r="0.9"/><circle cx="205.4" cy="799.5" r="0.9"/><circle cx="192.1" cy="802.6" r="0.9"/><circle cx="204.2" cy="802.5" r="0.9"/><circle cx="188.1" cy="804.8" r="0.9"/><circle cx="198.8" cy="807.9" r="0.9"/><circle cx="194.4" cy="804.7" r="0.9"/><circle cx="204.2" cy="807.2" r="0.9"/><circle cx="196.3" cy="798.1" r="0.9"/><circle cx="200.0" cy="803.7" r="0.9"/><circle cx="204.5" cy="794.2" r="0.9"/><circle cx="202.2" cy="792.7" r="0.9"/><circle cx="193.4" cy="801.1" r="0.9"/><circle cx="202.3" cy="801.7" r="0.9"/><circle cx="202.6" cy="797.5" r="0.9"/><circle cx="188.4" cy="797.4" r="0.9"/><circle cx="194.6" cy="805.5" r="0.9"/><circle cx="214.7" cy="807.9" r="0.9"/><circle cx="189.0" cy="787.0" r="0.9"/><circle cx="191.1" cy="794.2" r="0.9"/><circle cx="189.9" cy="783.6" r="0.9"/><circle cx="196.3" cy="785.2" r="0.9"/><circle cx="196.1" cy="789.3" r="0.9"/><circle cx="206.2" cy="799.9" r="0.9"/><circle cx="201.2" cy="783.1" r="0.9"/><circle cx="197.9" cy="777.5" r="0.9"/><circle cx="209.4" cy="807.6" r="0.9"/><circle cx="200.3" cy="805.1" r="0.9"/><circle cx="204.0" cy="798.0" r="0.9"/><circle cx="191.0" cy="803.8" r="0.9"/><circle cx="198.1" cy="777.6" r="0.9"/><circle cx="200.0" cy="807.6" r="0.9"/><circle cx="190.1" cy="806.8" r="0.9"/><circle cx="188.1" cy="801.7" r="0.9"/><circle cx="192.0" cy="796.4" r="0.9"/><circle cx="192.8" cy="780.2" r="0.9"/><circle cx="208.3" cy="795.3" r="0.9"/><circle cx="196.7" cy="795.6" r="0.9"/><circle cx="194.7" cy="782.1" r="0.9"/><circle cx="200.9" cy="792.2" r="0.9"/><circle cx="190.9" cy="797.0" r="0.9"/><circle cx="201.8" cy="803.1" r="0.9"/><circle cx="204.2" cy="807.9" r="0.9"/><circle cx="196.6" cy="805.6" r="0.9"/><circle cx="193.0" cy="807.6" r="0.9"/><circle cx="195.5" cy="788.5" r="0.9"/><circle cx="204.5" cy="796.5" r="0.9"/><circle cx="216.3" cy="807.3" r="0.9"/><circle cx="194.6" cy="786.2" r="0.9"/><circle cx="195.7" cy="790.1" r="0.9"/><circle cx="188.4" cy="790.0" r="0.9"/><circle cx="195.5" cy="771.6" r="0.9"/><circle cx="197.4" cy="790.1" r="0.9"/><circle cx="199.4" cy="786.9" r="0.9"/><circle cx="242.6" cy="783.1" r="0.9"/><circle cx="197.1" cy="784.6" r="0.9"/><circle cx="194.6" cy="775.5" r="0.9"/><circle cx="200.4" cy="776.0" r="0.9"/><circle cx="194.0" cy="777.3" r="0.9"/><circle cx="190.6" cy="781.6" r="0.9"/><circle cx="195.5" cy="773.6" r="0.9"/><circle cx="203.0" cy="786.3" r="0.9"/><circle cx="245.8" cy="785.0" r="0.9"/><circle cx="189.8" cy="784.1" r="0.9"/><circle cx="216.6" cy="789.2" r="0.9"/><circle cx="204.3" cy="786.3" r="0.9"/><circle cx="189.5" cy="770.5" r="0.9"/><circle cx="206.1" cy="774.0" r="0.9"/><circle cx="220.5" cy="775.7" r="0.9"/><circle cx="192.2" cy="781.6" r="0.9"/><circle cx="193.2" cy="789.4" r="0.9"/><circle cx="213.1" cy="779.0" r="0.9"/><circle cx="208.2" cy="789.6" r="0.9"/><circle cx="206.0" cy="790.1" r="0.9"/><circle cx="209.1" cy="782.9" r="0.9"/><circle cx="190.3" cy="787.2" r="0.9"/><circle cx="228.8" cy="786.5" r="0.9"/><circle cx="214.8" cy="778.8" r="0.9"/><circle cx="225.5" cy="777.2" r="0.9"/><circle cx="188.1" cy="785.1" r="0.9"/><circle cx="199.8" cy="749.7" r="0.9"/><circle cx="192.8" cy="744.4" r="0.9"/><circle cx="190.1" cy="769.9" r="0.9"/><circle cx="217.0" cy="745.2" r="0.9"/><circle cx="226.4" cy="748.9" r="0.9"/><circle cx="235.2" cy="749.8" r="0.9"/><circle cx="191.2" cy="745.9" r="0.9"/><circle cx="197.2" cy="770.9" r="0.9"/><circle cx="190.3" cy="776.0" r="0.9"/><circle cx="242.4" cy="762.7" r="0.9"/><circle cx="193.4" cy="775.3" r="0.9"/><circle cx="240.5" cy="754.3" r="0.9"/><circle cx="244.8" cy="775.7" r="0.9"/><circle cx="195.0" cy="766.2" r="0.9"/></g>
<polygon points="188.8,801.3 210.5,798.9 250.8,790.8 250.8,798.8 210.5,800.5 188.8,803.3" fill="#9a9a9a" fill-opacity="0.45"/>
<line x1="188.8" y1="802.3" x2="250.8" y2="794.8" stroke="#3f6fe0" stroke-width="1.6" />
<g fill="#1a1a1a" fill-opacity="0.55"><circle cx="266.4" cy="804.3" r="0.9"/><circle cx="263.3" cy="778.4" r="0.9"/><circle cx="267.9" cy="805.2" r="0.9"/><circle cx="272.8" cy="795.4" r="0.9"/><circle cx="275.1" cy="805.8" r="0.9"/><circle cx="265.2" cy="794.7" r="0.9"/><circle cx="274.6" cy="789.6" r="0.9"/><circle cx="263.9" cy="804.2" r="0.9"/><circle cx="286.5" cy="797.6" r="0.9"/><circle cx="260.3" cy="782.1" r="0.9"/><circle cx="287.8" cy="794.5" r="0.9"/><circle cx="268.2" cy="806.4" r="0.9"/><circle cx="262.2" cy="795.0" r="0.9"/><circle cx="267.5" cy="773.4" r="0.9"/><circle cx="264.8" cy="757.0" r="0.9"/><circle cx="261.8" cy="799.8" r="0.9"/><circle cx="261.9" cy="770.1" r="0.9"/><circle cx="270.0" cy="755.6" r="0.9"/><circle cx="281.3" cy="804.5" r="0.9"/><circle cx="269.4" cy="768.9" r="0.9"/><circle cx="283.5" cy="807.1" r="0.9"/><circle cx="260.6" cy="760.6" r="0.9"/><circle cx="284.7" cy="796.2" r="0.9"/><circle cx="270.6" cy="757.9" r="0.9"/><circle cx="289.2" cy="782.8" r="0.9"/><circle cx="277.7" cy="762.9" r="0.9"/><circle cx="264.2" cy="777.2" r="0.9"/><circle cx="260.7" cy="793.8" r="0.9"/><circle cx="271.6" cy="783.7" r="0.9"/><circle cx="278.7" cy="808.4" r="0.9"/><circle cx="260.6" cy="779.2" r="0.9"/><circle cx="267.9" cy="780.8" r="0.9"/><circle cx="286.0" cy="804.3" r="0.9"/><circle cx="263.5" cy="750.1" r="0.9"/><circle cx="273.2" cy="801.2" r="0.9"/><circle cx="275.7" cy="804.3" r="0.9"/><circle cx="262.2" cy="762.1" r="0.9"/><circle cx="274.9" cy="797.4" r="0.9"/><circle cx="260.0" cy="809.3" r="0.9"/><circle cx="259.0" cy="798.0" r="0.9"/><circle cx="278.6" cy="800.6" r="0.9"/><circle cx="260.2" cy="808.3" r="0.9"/><circle cx="260.1" cy="772.7" r="0.9"/><circle cx="269.2" cy="772.2" r="0.9"/><circle cx="266.4" cy="761.4" r="0.9"/><circle cx="264.5" cy="798.5" r="0.9"/><circle cx="266.9" cy="794.2" r="0.9"/><circle cx="276.9" cy="790.3" r="0.9"/><circle cx="268.5" cy="775.0" r="0.9"/><circle cx="269.1" cy="751.9" r="0.9"/><circle cx="265.4" cy="803.8" r="0.9"/><circle cx="265.2" cy="808.9" r="0.9"/><circle cx="267.1" cy="793.2" r="0.9"/><circle cx="274.7" cy="783.2" r="0.9"/><circle cx="262.2" cy="775.9" r="0.9"/><circle cx="260.0" cy="807.5" r="0.9"/><circle cx="286.9" cy="808.9" r="0.9"/><circle cx="263.4" cy="775.2" r="0.9"/><circle cx="265.5" cy="784.8" r="0.9"/><circle cx="270.4" cy="807.0" r="0.9"/><circle cx="266.0" cy="778.3" r="0.9"/><circle cx="260.8" cy="809.0" r="0.9"/><circle cx="275.7" cy="805.4" r="0.9"/><circle cx="266.2" cy="806.6" r="0.9"/><circle cx="263.2" cy="781.0" r="0.9"/><circle cx="271.3" cy="806.8" r="0.9"/><circle cx="261.7" cy="776.1" r="0.9"/><circle cx="281.2" cy="784.4" r="0.9"/><circle cx="269.3" cy="782.5" r="0.9"/><circle cx="267.0" cy="751.2" r="0.9"/><circle cx="261.9" cy="800.0" r="0.9"/><circle cx="275.4" cy="790.0" r="0.9"/><circle cx="271.0" cy="809.3" r="0.9"/><circle cx="260.2" cy="781.1" r="0.9"/><circle cx="262.9" cy="787.4" r="0.9"/><circle cx="259.3" cy="806.5" r="0.9"/><circle cx="271.9" cy="780.8" r="0.9"/><circle cx="282.1" cy="766.7" r="0.9"/><circle cx="274.5" cy="799.9" r="0.9"/><circle cx="261.7" cy="765.8" r="0.9"/><circle cx="271.7" cy="794.4" r="0.9"/><circle cx="265.9" cy="794.2" r="0.9"/><circle cx="287.9" cy="789.3" r="0.9"/><circle cx="306.9" cy="808.7" r="0.9"/><circle cx="275.5" cy="794.1" r="0.9"/><circle cx="269.7" cy="805.8" r="0.9"/><circle cx="276.8" cy="805.9" r="0.9"/><circle cx="264.4" cy="769.0" r="0.9"/><circle cx="262.2" cy="791.4" r="0.9"/><circle cx="265.9" cy="758.7" r="0.9"/><circle cx="288.7" cy="803.4" r="0.9"/><circle cx="260.7" cy="789.1" r="0.9"/><circle cx="279.6" cy="806.4" r="0.9"/><circle cx="272.8" cy="770.2" r="0.9"/><circle cx="263.8" cy="808.4" r="0.9"/><circle cx="266.4" cy="791.3" r="0.9"/><circle cx="281.8" cy="780.9" r="0.9"/><circle cx="268.7" cy="797.6" r="0.9"/><circle cx="260.3" cy="806.0" r="0.9"/><circle cx="266.3" cy="808.9" r="0.9"/><circle cx="279.5" cy="777.5" r="0.9"/><circle cx="262.3" cy="766.9" r="0.9"/><circle cx="277.8" cy="803.7" r="0.9"/><circle cx="263.5" cy="789.8" r="0.9"/><circle cx="267.0" cy="799.4" r="0.9"/><circle cx="262.4" cy="778.2" r="0.9"/><circle cx="292.1" cy="808.1" r="0.9"/><circle cx="270.4" cy="780.0" r="0.9"/><circle cx="263.7" cy="798.4" r="0.9"/><circle cx="276.7" cy="766.5" r="0.9"/><circle cx="267.5" cy="808.8" r="0.9"/><circle cx="259.2" cy="784.9" r="0.9"/><circle cx="262.6" cy="753.4" r="0.9"/><circle cx="265.1" cy="784.6" r="0.9"/><circle cx="269.8" cy="798.5" r="0.9"/><circle cx="271.4" cy="769.4" r="0.9"/><circle cx="276.8" cy="797.5" r="0.9"/><circle cx="265.6" cy="771.8" r="0.9"/><circle cx="262.9" cy="790.3" r="0.9"/><circle cx="263.4" cy="805.1" r="0.9"/><circle cx="270.5" cy="763.9" r="0.9"/><circle cx="259.4" cy="796.0" r="0.9"/><circle cx="274.6" cy="795.8" r="0.9"/><circle cx="283.8" cy="780.9" r="0.9"/><circle cx="264.9" cy="806.6" r="0.9"/><circle cx="272.1" cy="780.3" r="0.9"/><circle cx="272.5" cy="768.5" r="0.9"/><circle cx="268.1" cy="751.6" r="0.9"/><circle cx="266.2" cy="793.7" r="0.9"/><circle cx="268.6" cy="793.4" r="0.9"/><circle cx="266.2" cy="796.0" r="0.9"/><circle cx="268.7" cy="796.7" r="0.9"/><circle cx="262.6" cy="762.3" r="0.9"/><circle cx="270.2" cy="762.5" r="0.9"/><circle cx="265.0" cy="794.8" r="0.9"/><circle cx="266.9" cy="798.6" r="0.9"/><circle cx="269.2" cy="807.4" r="0.9"/><circle cx="288.0" cy="799.3" r="0.9"/><circle cx="264.2" cy="795.3" r="0.9"/><circle cx="262.7" cy="778.5" r="0.9"/><circle cx="264.0" cy="758.4" r="0.9"/><circle cx="262.3" cy="769.4" r="0.9"/><circle cx="268.5" cy="802.9" r="0.9"/><circle cx="266.6" cy="789.7" r="0.9"/><circle cx="262.8" cy="803.9" r="0.9"/><circle cx="273.0" cy="800.5" r="0.9"/><circle cx="271.5" cy="771.7" r="0.9"/><circle cx="261.2" cy="765.9" r="0.9"/><circle cx="261.4" cy="798.1" r="0.9"/><circle cx="266.2" cy="808.0" r="0.9"/><circle cx="260.2" cy="766.7" r="0.9"/><circle cx="260.3" cy="790.9" r="0.9"/><circle cx="260.2" cy="781.3" r="0.9"/><circle cx="262.0" cy="792.8" r="0.9"/><circle cx="271.1" cy="796.6" r="0.9"/><circle cx="260.2" cy="755.8" r="0.9"/><circle cx="262.6" cy="760.5" r="0.9"/><circle cx="260.9" cy="765.5" r="0.9"/><circle cx="265.4" cy="807.7" r="0.9"/><circle cx="261.4" cy="807.6" r="0.9"/><circle cx="280.3" cy="793.4" r="0.9"/><circle cx="286.2" cy="782.8" r="0.9"/><circle cx="271.1" cy="758.0" r="0.9"/><circle cx="263.5" cy="778.0" r="0.9"/><circle cx="262.0" cy="789.7" r="0.9"/><circle cx="280.6" cy="805.5" r="0.9"/><circle cx="270.4" cy="786.0" r="0.9"/><circle cx="264.7" cy="772.9" r="0.9"/><circle cx="273.9" cy="774.8" r="0.9"/><circle cx="265.0" cy="764.0" r="0.9"/><circle cx="261.9" cy="807.6" r="0.9"/><circle cx="262.6" cy="805.5" r="0.9"/><circle cx="261.8" cy="752.6" r="0.9"/><circle cx="270.8" cy="790.2" r="0.9"/><circle cx="262.4" cy="783.7" r="0.9"/><circle cx="281.5" cy="797.8" r="0.9"/><circle cx="259.1" cy="762.4" r="0.9"/><circle cx="259.5" cy="784.8" r="0.9"/><circle cx="263.3" cy="807.6" r="0.9"/><circle cx="262.5" cy="801.0" r="0.9"/><circle cx="269.7" cy="768.6" r="0.9"/><circle cx="268.9" cy="793.3" r="0.9"/><circle cx="262.6" cy="786.6" r="0.9"/><circle cx="273.8" cy="801.5" r="0.9"/><circle cx="263.0" cy="775.8" r="0.9"/><circle cx="263.9" cy="804.0" r="0.9"/><circle cx="259.7" cy="785.8" r="0.9"/><circle cx="259.3" cy="750.1" r="0.9"/><circle cx="262.4" cy="763.2" r="0.9"/><circle cx="262.2" cy="764.0" r="0.9"/><circle cx="264.2" cy="751.0" r="0.9"/><circle cx="271.2" cy="764.6" r="0.9"/><circle cx="259.9" cy="754.5" r="0.9"/><circle cx="266.2" cy="805.3" r="0.9"/><circle cx="284.1" cy="802.6" r="0.9"/><circle cx="274.1" cy="789.6" r="0.9"/><circle cx="265.7" cy="806.6" r="0.9"/><circle cx="264.8" cy="777.8" r="0.9"/><circle cx="260.6" cy="772.4" r="0.9"/><circle cx="271.6" cy="790.7" r="0.9"/><circle cx="267.9" cy="790.0" r="0.9"/><circle cx="266.5" cy="775.1" r="0.9"/><circle cx="264.4" cy="773.1" r="0.9"/><circle cx="276.0" cy="806.0" r="0.9"/><circle cx="270.0" cy="808.8" r="0.9"/><circle cx="268.5" cy="809.0" r="0.9"/><circle cx="291.6" cy="808.0" r="0.9"/><circle cx="267.5" cy="763.0" r="0.9"/><circle cx="265.0" cy="809.0" r="0.9"/><circle cx="270.7" cy="798.9" r="0.9"/><circle cx="283.0" cy="806.3" r="0.9"/><circle cx="272.0" cy="795.1" r="0.9"/><circle cx="261.0" cy="804.9" r="0.9"/><circle cx="259.9" cy="768.9" r="0.9"/><circle cx="263.1" cy="802.6" r="0.9"/><circle cx="285.6" cy="807.9" r="0.9"/><circle cx="268.9" cy="804.4" r="0.9"/><circle cx="272.9" cy="771.1" r="0.9"/><circle cx="271.1" cy="799.3" r="0.9"/><circle cx="262.3" cy="789.8" r="0.9"/><circle cx="260.1" cy="766.6" r="0.9"/><circle cx="272.3" cy="756.0" r="0.9"/><circle cx="282.5" cy="781.2" r="0.9"/><circle cx="267.8" cy="805.1" r="0.9"/><circle cx="262.9" cy="749.7" r="0.9"/><circle cx="284.8" cy="806.8" r="0.9"/><circle cx="283.1" cy="799.3" r="0.9"/><circle cx="265.4" cy="775.4" r="0.9"/><circle cx="282.1" cy="803.8" r="0.9"/><circle cx="272.5" cy="787.3" r="0.9"/><circle cx="261.8" cy="808.7" r="0.9"/><circle cx="269.0" cy="793.0" r="0.9"/><circle cx="270.0" cy="754.0" r="0.9"/><circle cx="274.9" cy="808.2" r="0.9"/><circle cx="260.5" cy="802.0" r="0.9"/><circle cx="271.9" cy="802.8" r="0.9"/><circle cx="274.0" cy="808.4" r="0.9"/><circle cx="262.5" cy="784.9" r="0.9"/><circle cx="268.5" cy="794.1" r="0.9"/><circle cx="264.1" cy="809.2" r="0.9"/><circle cx="264.7" cy="775.9" r="0.9"/><circle cx="271.7" cy="795.3" r="0.9"/><circle cx="270.0" cy="800.9" r="0.9"/><circle cx="262.6" cy="799.5" r="0.9"/><circle cx="275.9" cy="807.0" r="0.9"/><circle cx="262.3" cy="809.2" r="0.9"/><circle cx="264.2" cy="759.5" r="0.9"/><circle cx="268.3" cy="786.3" r="0.9"/><circle cx="280.9" cy="809.1" r="0.9"/><circle cx="270.3" cy="784.3" r="0.9"/><circle cx="269.6" cy="788.4" r="0.9"/><circle cx="274.8" cy="787.8" r="0.9"/><circle cx="268.0" cy="766.7" r="0.9"/><circle cx="275.3" cy="772.0" r="0.9"/><circle cx="270.4" cy="775.9" r="0.9"/><circle cx="262.1" cy="782.7" r="0.9"/><circle cx="268.3" cy="786.3" r="0.9"/><circle cx="286.6" cy="808.6" r="0.9"/><circle cx="267.8" cy="769.9" r="0.9"/><circle cx="265.6" cy="757.0" r="0.9"/><circle cx="273.8" cy="808.7" r="0.9"/><circle cx="260.1" cy="753.5" r="0.9"/><circle cx="266.6" cy="805.3" r="0.9"/><circle cx="260.9" cy="769.8" r="0.9"/><circle cx="259.9" cy="788.7" r="0.9"/><circle cx="265.4" cy="759.2" r="0.9"/><circle cx="263.0" cy="809.3" r="0.9"/><circle cx="271.2" cy="759.5" r="0.9"/><circle cx="259.5" cy="767.9" r="0.9"/><circle cx="262.7" cy="773.2" r="0.9"/><circle cx="278.3" cy="771.5" r="0.9"/><circle cx="268.6" cy="786.2" r="0.9"/><circle cx="272.9" cy="809.0" r="0.9"/><circle cx="260.8" cy="807.3" r="0.9"/><circle cx="262.6" cy="759.0" r="0.9"/><circle cx="261.5" cy="791.4" r="0.9"/><circle cx="262.1" cy="800.7" r="0.9"/><circle cx="264.6" cy="797.7" r="0.9"/><circle cx="272.0" cy="793.5" r="0.9"/><circle cx="260.9" cy="781.5" r="0.9"/><circle cx="273.2" cy="754.2" r="0.9"/><circle cx="266.3" cy="763.7" r="0.9"/><circle cx="259.5" cy="802.7" r="0.9"/><circle cx="269.9" cy="778.2" r="0.9"/><circle cx="277.6" cy="780.8" r="0.9"/><circle cx="292.6" cy="798.8" r="0.9"/><circle cx="268.0" cy="809.2" r="0.9"/><circle cx="262.3" cy="771.6" r="0.9"/><circle cx="264.6" cy="762.8" r="0.9"/><circle cx="261.7" cy="802.1" r="0.9"/><circle cx="264.2" cy="767.2" r="0.9"/><circle cx="266.1" cy="807.4" r="0.9"/><circle cx="270.0" cy="751.9" r="0.9"/><circle cx="262.3" cy="789.7" r="0.9"/><circle cx="260.1" cy="770.3" r="0.9"/><circle cx="275.4" cy="800.8" r="0.9"/><circle cx="264.2" cy="786.3" r="0.9"/><circle cx="266.4" cy="778.5" r="0.9"/><circle cx="269.1" cy="805.9" r="0.9"/><circle cx="260.8" cy="802.8" r="0.9"/><circle cx="274.4" cy="752.5" r="0.9"/><circle cx="264.5" cy="762.7" r="0.9"/><circle cx="263.4" cy="762.1" r="0.9"/><circle cx="276.8" cy="808.1" r="0.9"/><circle cx="267.7" cy="771.5" r="0.9"/><circle cx="284.3" cy="808.8" r="0.9"/><circle cx="261.2" cy="808.4" r="0.9"/><circle cx="267.6" cy="758.3" r="0.9"/><circle cx="268.9" cy="749.7" r="0.9"/><circle cx="263.7" cy="776.6" r="0.9"/><circle cx="267.9" cy="774.4" r="0.9"/><circle cx="275.2" cy="808.3" r="0.9"/><circle cx="261.2" cy="757.7" r="0.9"/><circle cx="280.0" cy="790.3" r="0.9"/><circle cx="279.7" cy="803.7" r="0.9"/><circle cx="264.0" cy="784.8" r="0.9"/><circle cx="274.2" cy="807.2" r="0.9"/><circle cx="259.3" cy="802.0" r="0.9"/><circle cx="261.6" cy="802.8" r="0.9"/><circle cx="268.5" cy="774.3" r="0.9"/><circle cx="259.7" cy="756.6" r="0.9"/><circle cx="260.4" cy="760.5" r="0.9"/><circle cx="260.6" cy="780.6" r="0.9"/><circle cx="276.8" cy="796.6" r="0.9"/><circle cx="276.5" cy="797.4" r="0.9"/><circle cx="268.9" cy="808.6" r="0.9"/><circle cx="270.9" cy="775.4" r="0.9"/><circle cx="267.1" cy="780.8" r="0.9"/><circle cx="273.5" cy="765.4" r="0.9"/><circle cx="262.2" cy="749.8" r="0.9"/><circle cx="275.3" cy="790.5" r="0.9"/><circle cx="260.3" cy="778.5" r="0.9"/><circle cx="264.6" cy="760.9" r="0.9"/><circle cx="268.6" cy="809.3" r="0.9"/><circle cx="275.4" cy="763.6" r="0.9"/><circle cx="280.3" cy="781.7" r="0.9"/><circle cx="262.3" cy="761.8" r="0.9"/><circle cx="294.9" cy="790.3" r="0.9"/><circle cx="259.9" cy="758.0" r="0.9"/><circle cx="260.2" cy="798.1" r="0.9"/><circle cx="272.0" cy="796.8" r="0.9"/><circle cx="259.7" cy="800.6" r="0.9"/><circle cx="265.5" cy="774.6" r="0.9"/><circle cx="265.1" cy="794.3" r="0.9"/><circle cx="271.8" cy="806.7" r="0.9"/><circle cx="264.0" cy="765.9" r="0.9"/><circle cx="267.6" cy="797.4" r="0.9"/><circle cx="260.0" cy="786.0" r="0.9"/><circle cx="271.0" cy="802.8" r="0.9"/><circle cx="259.6" cy="758.1" r="0.9"/><circle cx="275.5" cy="799.8" r="0.9"/><circle cx="260.2" cy="801.0" r="0.9"/><circle cx="268.4" cy="785.7" r="0.9"/><circle cx="264.1" cy="800.2" r="0.9"/><circle cx="260.6" cy="764.8" r="0.9"/><circle cx="275.0" cy="781.6" r="0.9"/><circle cx="259.1" cy="760.6" r="0.9"/><circle cx="264.0" cy="806.5" r="0.9"/><circle cx="273.1" cy="770.3" r="0.9"/><circle cx="280.6" cy="768.1" r="0.9"/><circle cx="277.8" cy="805.6" r="0.9"/><circle cx="264.9" cy="780.9" r="0.9"/><circle cx="276.5" cy="806.4" r="0.9"/><circle cx="262.3" cy="800.9" r="0.9"/><circle cx="261.0" cy="750.6" r="0.9"/><circle cx="261.4" cy="776.3" r="0.9"/><circle cx="261.3" cy="801.3" r="0.9"/><circle cx="267.5" cy="780.8" r="0.9"/><circle cx="273.8" cy="798.4" r="0.9"/><circle cx="272.1" cy="749.7" r="0.9"/><circle cx="264.1" cy="758.7" r="0.9"/><circle cx="261.9" cy="764.1" r="0.9"/><circle cx="264.2" cy="807.7" r="0.9"/><circle cx="262.0" cy="807.5" r="0.9"/><circle cx="266.9" cy="753.5" r="0.9"/><circle cx="271.6" cy="786.2" r="0.9"/><circle cx="260.5" cy="809.3" r="0.9"/><circle cx="261.6" cy="758.9" r="0.9"/><circle cx="267.8" cy="764.6" r="0.9"/><circle cx="259.4" cy="809.1" r="0.9"/><circle cx="269.9" cy="773.9" r="0.9"/><circle cx="261.2" cy="755.5" r="0.9"/><circle cx="270.2" cy="775.6" r="0.9"/><circle cx="268.8" cy="773.8" r="0.9"/><circle cx="261.3" cy="797.9" r="0.9"/><circle cx="275.1" cy="793.3" r="0.9"/><circle cx="260.5" cy="786.3" r="0.9"/><circle cx="265.1" cy="758.7" r="0.9"/><circle cx="260.7" cy="796.9" r="0.9"/><circle cx="272.7" cy="804.3" r="0.9"/><circle cx="284.3" cy="809.3" r="0.9"/><circle cx="261.7" cy="750.5" r="0.9"/><circle cx="264.8" cy="782.0" r="0.9"/><circle cx="262.5" cy="808.7" r="0.9"/><circle cx="277.3" cy="780.4" r="0.9"/><circle cx="282.5" cy="799.6" r="0.9"/><circle cx="260.4" cy="802.5" r="0.9"/><circle cx="267.6" cy="809.0" r="0.9"/><circle cx="268.6" cy="788.4" r="0.9"/><circle cx="262.3" cy="753.3" r="0.9"/><circle cx="266.7" cy="798.7" r="0.9"/><circle cx="275.5" cy="807.3" r="0.9"/><circle cx="283.4" cy="809.0" r="0.9"/><circle cx="278.9" cy="808.7" r="0.9"/><circle cx="260.5" cy="773.8" r="0.9"/><circle cx="271.0" cy="763.4" r="0.9"/><circle cx="259.2" cy="771.9" r="0.9"/><circle cx="263.1" cy="751.9" r="0.9"/><circle cx="267.1" cy="756.4" r="0.9"/><circle cx="267.9" cy="808.6" r="0.9"/><circle cx="263.0" cy="795.8" r="0.9"/><circle cx="261.7" cy="799.6" r="0.9"/><circle cx="269.5" cy="808.8" r="0.9"/><circle cx="268.7" cy="807.9" r="0.9"/><circle cx="263.0" cy="796.5" r="0.9"/><circle cx="269.3" cy="780.1" r="0.9"/><circle cx="268.8" cy="777.1" r="0.9"/><circle cx="269.8" cy="808.5" r="0.9"/><circle cx="262.3" cy="791.6" r="0.9"/><circle cx="264.9" cy="764.3" r="0.9"/><circle cx="276.6" cy="793.9" r="0.9"/><circle cx="309.5" cy="809.2" r="0.9"/><circle cx="295.2" cy="788.3" r="0.9"/><circle cx="304.9" cy="772.2" r="0.9"/><circle cx="303.7" cy="800.6" r="0.9"/><circle cx="273.9" cy="790.5" r="0.9"/><circle cx="278.9" cy="787.7" r="0.9"/><circle cx="267.4" cy="782.2" r="0.9"/><circle cx="287.0" cy="807.4" r="0.9"/><circle cx="269.2" cy="772.7" r="0.9"/><circle cx="312.9" cy="774.8" r="0.9"/><circle cx="285.4" cy="770.8" r="0.9"/><circle cx="272.2" cy="780.9" r="0.9"/><circle cx="318.5" cy="801.2" r="0.9"/><circle cx="262.3" cy="804.4" r="0.9"/><circle cx="267.0" cy="777.9" r="0.9"/><circle cx="298.4" cy="790.7" r="0.9"/><circle cx="268.9" cy="784.2" r="0.9"/></g>
<polygon points="259.2,788.3 280.6,788.5 320.2,785.3 320.2,793.3 280.6,790.1 259.2,790.3" fill="#9a9a9a" fill-opacity="0.45"/>
<line x1="259.2" y1="789.3" x2="320.2" y2="789.3" stroke="#3f6fe0" stroke-width="1.6" />
<g fill="#1a1a1a" fill-opacity="0.55"><circle cx="331.5" cy="798.8" r="0.9"/><circle cx="332.1" cy="797.3" r="0.9"/><circle cx="333.9" cy="807.6" r="0.9"/><circle cx="345.8" cy="805.1" r="0.9"/><circle cx="335.2" cy="809.0" r="0.9"/><circle cx="337.1" cy="785.7" r="0.9"/><circle cx="335.6" cy="801.5" r="0.9"/><circle cx="344.5" cy="781.0" r="0.9"/><circle cx="337.6" cy="790.2" r="0.9"/><circle cx="344.2" cy="806.5" r="0.9"/><circle cx="329.9" cy="792.5" r="0.9"/><circle cx="330.8" cy="801.9" r="0.9"/><circle cx="336.2" cy="802.8" r="0.9"/><circle cx="328.7" cy="785.8" r="0.9"/><circle cx="344.5" cy="784.3" r="0.9"/><circle cx="331.3" cy="779.3" r="0.9"/><circle cx="329.9" cy="808.6" r="0.9"/><circle cx="341.7" cy="796.2" r="0.9"/><circle cx="339.3" cy="807.5" r="0.9"/><circle cx="331.5" cy="799.5" r="0.9"/><circle cx="338.2" cy="808.4" r="0.9"/><circle cx="332.4" cy="803.0" r="0.9"/><circle cx="334.8" cy="786.9" r="0.9"/><circle cx="342.9" cy="802.2" r="0.9"/><circle cx="331.1" cy="791.2" r="0.9"/><circle cx="329.2" cy="799.5" r="0.9"/><circle cx="332.7" cy="802.2" r="0.9"/><circle cx="331.1" cy="808.6" r="0.9"/><circle cx="331.0" cy="802.9" r="0.9"/><circle cx="330.8" cy="807.6" r="0.9"/><circle cx="334.4" cy="785.8" r="0.9"/><circle cx="340.1" cy="799.9" r="0.9"/><circle cx="332.3" cy="788.0" r="0.9"/><circle cx="334.8" cy="799.1" r="0.9"/><circle cx="336.6" cy="808.8" r="0.9"/><circle cx="339.2" cy="806.7" r="0.9"/><circle cx="345.5" cy="775.8" r="0.9"/><circle cx="336.0" cy="798.9" r="0.9"/><circle cx="328.2" cy="799.8" r="0.9"/><circle cx="331.1" cy="803.2" r="0.9"/><circle cx="334.2" cy="806.7" r="0.9"/><circle cx="330.9" cy="809.2" r="0.9"/><circle cx="345.9" cy="785.4" r="0.9"/><circle cx="331.3" cy="807.4" r="0.9"/><circle cx="341.0" cy="806.0" r="0.9"/><circle cx="329.3" cy="798.2" r="0.9"/><circle cx="342.1" cy="805.5" r="0.9"/><circle cx="336.7" cy="798.4" r="0.9"/><circle cx="332.2" cy="805.9" r="0.9"/><circle cx="344.4" cy="785.6" r="0.9"/><circle cx="337.2" cy="804.4" r="0.9"/><circle cx="347.0" cy="773.4" r="0.9"/><circle cx="334.7" cy="797.2" r="0.9"/><circle cx="331.8" cy="805.0" r="0.9"/><circle cx="330.2" cy="798.3" r="0.9"/><circle cx="329.9" cy="806.1" r="0.9"/><circle cx="342.0" cy="807.6" r="0.9"/><circle cx="338.2" cy="792.9" r="0.9"/><circle cx="329.4" cy="777.9" r="0.9"/><circle cx="337.4" cy="788.7" r="0.9"/><circle cx="342.2" cy="798.5" r="0.9"/><circle cx="352.2" cy="777.4" r="0.9"/><circle cx="337.5" cy="804.8" r="0.9"/><circle cx="337.2" cy="803.8" r="0.9"/><circle cx="334.8" cy="797.3" r="0.9"/><circle cx="331.2" cy="786.0" r="0.9"/><circle cx="329.3" cy="809.0" r="0.9"/><circle cx="335.0" cy="804.0" r="0.9"/><circle cx="345.7" cy="800.1" r="0.9"/><circle cx="335.8" cy="800.8" r="0.9"/><circle cx="338.0" cy="796.1" r="0.9"/><circle cx="335.8" cy="799.8" r="0.9"/><circle cx="334.9" cy="807.8" r="0.9"/><circle cx="330.4" cy="802.6" r="0.9"/><circle cx="346.3" cy="805.3" r="0.9"/><circle cx="343.8" cy="799.4" r="0.9"/><circle cx="338.9" cy="807.0" r="0.9"/><circle cx="329.3" cy="791.2" r="0.9"/><circle cx="334.2" cy="805.5" r="0.9"/><circle cx="331.7" cy="806.7" r="0.9"/><circle cx="329.4" cy="800.7" r="0.9"/><circle cx="331.8" cy="807.1" r="0.9"/><circle cx="336.5" cy="797.9" r="0.9"/><circle cx="338.6" cy="801.7" r="0.9"/><circle cx="334.4" cy="802.1" r="0.9"/><circle cx="333.4" cy="795.7" r="0.9"/><circle cx="331.5" cy="799.1" r="0.9"/><circle cx="343.9" cy="766.4" r="0.9"/><circle cx="337.4" cy="792.3" r="0.9"/><circle cx="336.4" cy="805.4" r="0.9"/><circle cx="335.4" cy="793.9" r="0.9"/><circle cx="335.6" cy="794.5" r="0.9"/><circle cx="337.8" cy="762.4" r="0.9"/><circle cx="350.8" cy="801.4" r="0.9"/><circle cx="341.9" cy="803.7" r="0.9"/><circle cx="328.4" cy="808.3" r="0.9"/><circle cx="341.3" cy="794.5" r="0.9"/><circle cx="329.5" cy="798.2" r="0.9"/><circle cx="330.2" cy="793.5" r="0.9"/><circle cx="338.5" cy="798.5" r="0.9"/><circle cx="336.4" cy="796.5" r="0.9"/><circle cx="337.4" cy="799.8" r="0.9"/><circle cx="340.6" cy="795.1" r="0.9"/><circle cx="336.1" cy="802.8" r="0.9"/><circle cx="339.2" cy="807.2" r="0.9"/><circle cx="330.2" cy="801.0" r="0.9"/><circle cx="331.8" cy="783.7" r="0.9"/><circle cx="332.7" cy="807.1" r="0.9"/><circle cx="329.4" cy="800.8" r="0.9"/><circle cx="333.9" cy="742.3" r="0.9"/><circle cx="344.8" cy="809.3" r="0.9"/><circle cx="338.5" cy="765.1" r="0.9"/><circle cx="337.2" cy="797.5" r="0.9"/><circle cx="333.9" cy="802.1" r="0.9"/><circle cx="332.8" cy="802.5" r="0.9"/><circle cx="336.0" cy="785.5" r="0.9"/><circle cx="337.4" cy="801.9" r="0.9"/><circle cx="336.2" cy="799.9" r="0.9"/><circle cx="331.6" cy="804.8" r="0.9"/><circle cx="341.1" cy="773.2" r="0.9"/><circle cx="334.5" cy="800.1" r="0.9"/><circle cx="332.6" cy="785.8" r="0.9"/><circle cx="341.8" cy="801.5" r="0.9"/><circle cx="332.2" cy="805.4" r="0.9"/><circle cx="331.9" cy="802.6" r="0.9"/><circle cx="334.1" cy="802.9" r="0.9"/><circle cx="334.4" cy="798.0" r="0.9"/><circle cx="332.7" cy="801.9" r="0.9"/><circle cx="333.1" cy="806.2" r="0.9"/><circle cx="345.3" cy="765.4" r="0.9"/><circle cx="336.7" cy="805.9" r="0.9"/><circle cx="330.6" cy="794.8" r="0.9"/><circle cx="342.0" cy="805.9" r="0.9"/><circle cx="333.9" cy="786.4" r="0.9"/><circle cx="329.8" cy="802.6" r="0.9"/><circle cx="348.1" cy="803.4" r="0.9"/><circle cx="338.7" cy="800.1" r="0.9"/><circle cx="333.7" cy="799.7" r="0.9"/><circle cx="343.7" cy="808.2" r="0.9"/><circle cx="333.1" cy="757.8" r="0.9"/><circle cx="331.3" cy="789.4" r="0.9"/><circle cx="328.3" cy="805.6" r="0.9"/><circle cx="334.1" cy="801.4" r="0.9"/><circle cx="329.1" cy="787.7" r="0.9"/><circle cx="334.0" cy="809.2" r="0.9"/><circle cx="328.7" cy="808.7" r="0.9"/><circle cx="332.6" cy="768.9" r="0.9"/><circle cx="338.7" cy="797.1" r="0.9"/><circle cx="336.2" cy="781.2" r="0.9"/><circle cx="338.6" cy="796.3" r="0.9"/><circle cx="328.6" cy="801.7" r="0.9"/><circle cx="337.6" cy="808.0" r="0.9"/><circle cx="338.2" cy="806.7" r="0.9"/><circle cx="333.3" cy="801.4" r="0.9"/><circle cx="330.7" cy="799.0" r="0.9"/><circle cx="335.5" cy="808.2" r="0.9"/><circle cx="328.3" cy="801.1" r="0.9"/><circle cx="334.4" cy="795.8" r="0.9"/><circle cx="330.2" cy="799.0" r="0.9"/><circle cx="343.1" cy="793.1" r="0.9"/><circle cx="337.0" cy="743.7" r="0.9"/><circle cx="328.2" cy="802.2" r="0.9"/><circle cx="334.2" cy="808.3" r="0.9"/><circle cx="328.4" cy="797.2" r="0.9"/><circle cx="330.1" cy="808.3" r="0.9"/><circle cx="329.6" cy="800.2" r="0.9"/><circle cx="330.6" cy="792.3" r="0.9"/><circle cx="335.4" cy="802.4" r="0.9"/><circle cx="337.1" cy="748.0" r="0.9"/><circle cx="340.0" cy="798.0" r="0.9"/><circle cx="339.7" cy="795.2" r="0.9"/><circle cx="332.2" cy="788.1" r="0.9"/><circle cx="329.7" cy="791.7" r="0.9"/><circle cx="335.4" cy="808.1" r="0.9"/><circle cx="336.2" cy="807.0" r="0.9"/><circle cx="336.6" cy="799.7" r="0.9"/><circle cx="333.1" cy="802.7" r="0.9"/><circle cx="351.4" cy="789.6" r="0.9"/><circle cx="338.3" cy="792.3" r="0.9"/><circle cx="331.7" cy="801.4" r="0.9"/><circle cx="332.2" cy="796.8" r="0.9"/><circle cx="331.0" cy="779.6" r="0.9"/><circle cx="331.3" cy="800.6" r="0.9"/><circle cx="336.1" cy="804.2" r="0.9"/><circle cx="341.4" cy="809.3" r="0.9"/><circle cx="338.9" cy="801.7" r="0.9"/><circle cx="333.6" cy="794.0" r="0.9"/><circle cx="328.4" cy="805.9" r="0.9"/><circle cx="334.2" cy="798.7" r="0.9"/><circle cx="332.3" cy="802.8" r="0.9"/><circle cx="332.3" cy="791.5" r="0.9"/><circle cx="337.6" cy="800.0" r="0.9"/><circle cx="337.2" cy="805.9" r="0.9"/><circle cx="335.1" cy="805.2" r="0.9"/><circle cx="338.8" cy="793.7" r="0.9"/><circle cx="331.7" cy="807.4" r="0.9"/><circle cx="331.4" cy="806.4" r="0.9"/><circle cx="331.6" cy="807.7" r="0.9"/><circle cx="349.6" cy="770.4" r="0.9"/><circle cx="331.4" cy="804.0" r="0.9"/><circle cx="344.2" cy="796.6" r="0.9"/><circle cx="329.3" cy="808.8" r="0.9"/><circle cx="328.4" cy="806.2" r="0.9"/><circle cx="331.7" cy="791.7" r="0.9"/><circle cx="328.8" cy="801.1" r="0.9"/><circle cx="335.3" cy="790.5" r="0.9"/><circle cx="337.7" cy="807.0" r="0.9"/><circle cx="335.4" cy="808.5" r="0.9"/><circle cx="332.6" cy="798.8" r="0.9"/><circle cx="339.3" cy="802.1" r="0.9"/><circle cx="336.5" cy="797.2" r="0.9"/><circle cx="337.7" cy="803.2" r="0.9"/><circle cx="334.7" cy="784.6" r="0.9"/><circle cx="338.3" cy="759.6" r="0.9"/><circle cx="336.1" cy="795.7" r="0.9"/><circle cx="343.2" cy="800.0" r="0.9"/><circle cx="328.1" cy="796.7" r="0.9"/><circle cx="332.6" cy="806.0" r="0.9"/><circle cx="337.6" cy="798.4" r="0.9"/><circle cx="336.2" cy="802.8" r="0.9"/><circle cx="328.6" cy="795.4" r="0.9"/><circle cx="336.5" cy="784.0" r="0.9"/><circle cx="331.6" cy="802.4" r="0.9"/><circle cx="335.9" cy="802.8" r="0.9"/><circle cx="339.3" cy="792.3" r="0.9"/><circle cx="340.4" cy="790.0" r="0.9"/><circle cx="332.1" cy="802.4" r="0.9"/><circle cx="354.4" cy="802.4" r="0.9"/><circle cx="333.0" cy="788.7" r="0.9"/><circle cx="335.1" cy="803.0" r="0.9"/><circle cx="339.3" cy="804.1" r="0.9"/><circle cx="332.2" cy="809.2" r="0.9"/><circle cx="330.0" cy="774.1" r="0.9"/><circle cx="339.2" cy="807.6" r="0.9"/><circle cx="350.0" cy="791.1" r="0.9"/><circle cx="343.4" cy="805.5" r="0.9"/><circle cx="348.5" cy="808.5" r="0.9"/><circle cx="330.5" cy="805.2" r="0.9"/><circle cx="341.9" cy="789.1" r="0.9"/><circle cx="333.6" cy="788.4" r="0.9"/><circle cx="333.2" cy="808.2" r="0.9"/><circle cx="338.7" cy="803.8" r="0.9"/><circle cx="346.4" cy="805.4" r="0.9"/><circle cx="328.5" cy="796.5" r="0.9"/><circle cx="332.9" cy="808.6" r="0.9"/><circle cx="334.0" cy="799.2" r="0.9"/><circle cx="341.5" cy="803.0" r="0.9"/><circle cx="336.1" cy="777.1" r="0.9"/><circle cx="330.2" cy="785.2" r="0.9"/><circle cx="340.8" cy="807.0" r="0.9"/><circle cx="331.3" cy="798.7" r="0.9"/><circle cx="340.2" cy="773.0" r="0.9"/><circle cx="329.3" cy="775.6" r="0.9"/><circle cx="330.8" cy="802.0" r="0.9"/><circle cx="332.7" cy="797.8" r="0.9"/><circle cx="344.3" cy="786.8" r="0.9"/><circle cx="335.3" cy="801.9" r="0.9"/><circle cx="330.4" cy="802.0" r="0.9"/><circle cx="335.9" cy="807.5" r="0.9"/><circle cx="338.6" cy="805.9" r="0.9"/><circle cx="329.7" cy="800.6" r="0.9"/><circle cx="329.6" cy="793.7" r="0.9"/><circle cx="345.6" cy="798.4" r="0.9"/><circle cx="340.4" cy="796.8" r="0.9"/><circle cx="332.8" cy="804.3" r="0.9"/><circle cx="348.9" cy="787.6" r="0.9"/><circle cx="328.9" cy="795.9" r="0.9"/><circle cx="352.6" cy="807.0" r="0.9"/><circle cx="328.7" cy="803.7" r="0.9"/><circle cx="333.8" cy="803.8" r="0.9"/><circle cx="332.8" cy="807.3" r="0.9"/><circle cx="336.2" cy="803.4" r="0.9"/><circle cx="342.8" cy="804.2" r="0.9"/><circle cx="337.9" cy="794.8" r="0.9"/><circle cx="352.4" cy="784.6" r="0.9"/><circle cx="339.9" cy="795.1" r="0.9"/><circle cx="340.0" cy="778.2" r="0.9"/><circle cx="346.6" cy="803.1" r="0.9"/><circle cx="331.2" cy="804.0" r="0.9"/><circle cx="330.1" cy="804.7" r="0.9"/><circle cx="328.9" cy="793.0" r="0.9"/><circle cx="328.9" cy="808.4" r="0.9"/><circle cx="338.2" cy="787.8" r="0.9"/><circle cx="333.4" cy="797.7" r="0.9"/><circle cx="336.9" cy="806.2" r="0.9"/><circle cx="339.9" cy="798.1" r="0.9"/><circle cx="349.4" cy="802.4" r="0.9"/><circle cx="340.9" cy="805.6" r="0.9"/><circle cx="337.3" cy="804.3" r="0.9"/><circle cx="351.4" cy="806.1" r="0.9"/><circle cx="342.5" cy="776.4" r="0.9"/><circle cx="331.3" cy="808.4" r="0.9"/><circle cx="335.7" cy="801.4" r="0.9"/><circle cx="342.1" cy="795.6" r="0.9"/><circle cx="330.0" cy="808.7" r="0.9"/><circle cx="331.9" cy="807.1" r="0.9"/><circle cx="330.1" cy="805.4" r="0.9"/><circle cx="334.0" cy="807.9" r="0.9"/><circle cx="340.0" cy="792.8" r="0.9"/><circle cx="330.0" cy="807.3" r="0.9"/><circle cx="341.4" cy="808.4" r="0.9"/><circle cx="337.0" cy="807.6" r="0.9"/><circle cx="336.4" cy="791.4" r="0.9"/><circle cx="328.5" cy="801.1" r="0.9"/><circle cx="337.6" cy="809.0" r="0.9"/><circle cx="329.4" cy="789.3" r="0.9"/><circle cx="342.4" cy="808.0" r="0.9"/><circle cx="340.0" cy="802.7" r="0.9"/><circle cx="333.6" cy="808.4" r="0.9"/><circle cx="329.4" cy="777.3" r="0.9"/><circle cx="372.2" cy="800.2" r="0.9"/><circle cx="346.0" cy="793.9" r="0.9"/><circle cx="337.2" cy="807.1" r="0.9"/><circle cx="334.8" cy="797.3" r="0.9"/><circle cx="342.1" cy="808.8" r="0.9"/><circle cx="333.3" cy="805.3" r="0.9"/><circle cx="340.9" cy="801.7" r="0.9"/><circle cx="339.0" cy="805.4" r="0.9"/><circle cx="330.4" cy="805.3" r="0.9"/><circle cx="339.9" cy="803.5" r="0.9"/><circle cx="331.5" cy="808.9" r="0.9"/><circle cx="328.0" cy="771.2" r="0.9"/><circle cx="337.1" cy="776.3" r="0.9"/><circle cx="336.7" cy="800.3" r="0.9"/><circle cx="330.0" cy="802.6" r="0.9"/><circle cx="332.3" cy="798.3" r="0.9"/><circle cx="340.2" cy="804.4" r="0.9"/><circle cx="335.9" cy="796.9" r="0.9"/><circle cx="331.0" cy="802.8" r="0.9"/><circle cx="339.2" cy="800.6" r="0.9"/><circle cx="336.4" cy="808.5" r="0.9"/><circle cx="331.0" cy="806.3" r="0.9"/><circle cx="366.3" cy="808.0" r="0.9"/><circle cx="333.7" cy="808.5" r="0.9"/><circle cx="332.1" cy="807.2" r="0.9"/><circle cx="359.3" cy="807.2" r="0.9"/><circle cx="328.1" cy="807.5" r="0.9"/><circle cx="330.7" cy="806.7" r="0.9"/><circle cx="346.3" cy="809.0" r="0.9"/><circle cx="334.8" cy="807.6" r="0.9"/><circle cx="329.7" cy="808.2" r="0.9"/><circle cx="332.6" cy="809.3" r="0.9"/><circle cx="338.4" cy="807.6" r="0.9"/><circle cx="337.2" cy="807.2" r="0.9"/><circle cx="331.4" cy="808.8" r="0.9"/><circle cx="335.2" cy="807.7" r="0.9"/><circle cx="344.1" cy="808.9" r="0.9"/><circle cx="332.0" cy="808.2" r="0.9"/><circle cx="340.5" cy="806.3" r="0.9"/><circle cx="354.8" cy="807.6" r="0.9"/><circle cx="335.0" cy="806.7" r="0.9"/><circle cx="329.8" cy="806.3" r="0.9"/><circle cx="329.7" cy="808.2" r="0.9"/><circle cx="331.0" cy="808.3" r="0.9"/><circle cx="328.3" cy="807.3" r="0.9"/><circle cx="357.5" cy="807.4" r="0.9"/><circle cx="343.6" cy="807.5" r="0.9"/><circle cx="335.7" cy="808.6" r="0.9"/><circle cx="328.6" cy="805.9" r="0.9"/><circle cx="338.3" cy="808.5" r="0.9"/><circle cx="328.2" cy="806.1" r="0.9"/><circle cx="344.3" cy="808.6" r="0.9"/><circle cx="337.7" cy="808.1" r="0.9"/><circle cx="347.1" cy="808.1" r="0.9"/><circle cx="338.2" cy="808.5" r="0.9"/><circle cx="333.2" cy="806.0" r="0.9"/><circle cx="340.0" cy="809.0" r="0.9"/><circle cx="331.0" cy="808.1" r="0.9"/><circle cx="328.6" cy="808.9" r="0.9"/><circle cx="332.9" cy="809.0" r="0.9"/><circle cx="330.5" cy="808.6" r="0.9"/><circle cx="335.8" cy="805.6" r="0.9"/><circle cx="332.9" cy="809.4" r="0.9"/><circle cx="337.3" cy="805.7" r="0.9"/><circle cx="338.4" cy="808.6" r="0.9"/><circle cx="344.5" cy="806.7" r="0.9"/><circle cx="348.9" cy="809.5" r="0.9"/><circle cx="338.9" cy="809.2" r="0.9"/><circle cx="332.6" cy="808.6" r="0.9"/><circle cx="330.0" cy="808.2" r="0.9"/><circle cx="337.9" cy="807.6" r="0.9"/><circle cx="345.7" cy="809.5" r="0.9"/><circle cx="340.7" cy="808.1" r="0.9"/><circle cx="331.1" cy="808.8" r="0.9"/><circle cx="352.3" cy="806.7" r="0.9"/><circle cx="342.9" cy="809.2" r="0.9"/><circle cx="336.0" cy="805.7" r="0.9"/><circle cx="335.7" cy="808.0" r="0.9"/><circle cx="350.2" cy="807.8" r="0.9"/><circle cx="348.8" cy="808.5" r="0.9"/><circle cx="328.4" cy="808.3" r="0.9"/><circle cx="335.3" cy="807.4" r="0.9"/><circle cx="330.0" cy="807.1" r="0.9"/><circle cx="337.4" cy="808.5" r="0.9"/><circle cx="338.0" cy="805.8" r="0.9"/><circle cx="331.4" cy="808.7" r="0.9"/><circle cx="328.6" cy="808.7" r="0.9"/><circle cx="350.8" cy="805.9" r="0.9"/><circle cx="330.6" cy="806.8" r="0.9"/><circle cx="341.1" cy="808.9" r="0.9"/><circle cx="328.6" cy="807.4" r="0.9"/><circle cx="330.0" cy="805.8" r="0.9"/><circle cx="344.1" cy="808.0" r="0.9"/><circle cx="330.9" cy="807.8" r="0.9"/><circle cx="341.9" cy="807.7" r="0.9"/><circle cx="334.6" cy="806.8" r="0.9"/><circle cx="329.2" cy="807.5" r="0.9"/><circle cx="334.9" cy="807.1" r="0.9"/><circle cx="343.4" cy="806.7" r="0.9"/><circle cx="337.2" cy="808.0" r="0.9"/><circle cx="346.0" cy="806.4" r="0.9"/><circle cx="366.9" cy="808.8" r="0.9"/><circle cx="362.9" cy="809.5" r="0.9"/><circle cx="379.1" cy="790.7" r="0.9"/><circle cx="368.8" cy="796.9" r="0.9"/><circle cx="335.9" cy="807.1" r="0.9"/><circle cx="387.1" cy="807.7" r="0.9"/><circle cx="351.1" cy="805.7" r="0.9"/><circle cx="336.9" cy="806.8" r="0.9"/><circle cx="330.5" cy="807.1" r="0.9"/><circle cx="378.0" cy="741.5" r="0.9"/><circle cx="335.0" cy="764.0" r="0.9"/><circle cx="331.5" cy="807.0" r="0.9"/><circle cx="372.0" cy="803.8" r="0.9"/><circle cx="335.4" cy="809.4" r="0.9"/><circle cx="386.8" cy="802.9" r="0.9"/><circle cx="378.2" cy="754.5" r="0.9"/><circle cx="369.3" cy="806.3" r="0.9"/><circle cx="338.9" cy="779.1" r="0.9"/><circle cx="347.9" cy="805.8" r="0.9"/><circle cx="377.1" cy="802.1" r="0.9"/><circle cx="387.2" cy="767.7" r="0.9"/></g>
<polygon points="328.8,802.2 350.3,794.3 390.2,771.6 390.2,786.6 350.3,795.9 328.8,805.2" fill="#9a9a9a" fill-opacity="0.45"/>
<line x1="328.8" y1="803.7" x2="390.2" y2="779.1" stroke="#3f6fe0" stroke-width="1.6" />
<g fill="#1a1a1a" fill-opacity="0.55"><circle cx="407.6" cy="807.0" r="0.9"/><circle cx="411.8" cy="806.2" r="0.9"/><circle cx="414.1" cy="808.0" r="0.9"/><circle cx="407.1" cy="808.9" r="0.9"/><circle cx="429.2" cy="807.0" r="0.9"/><circle cx="423.8" cy="809.3" r="0.9"/><circle cx="412.2" cy="807.4" r="0.9"/><circle cx="412.5" cy="805.7" r="0.9"/><circle cx="413.5" cy="806.2" r="0.9"/><circle cx="417.6" cy="807.6" r="0.9"/><circle cx="409.9" cy="807.9" r="0.9"/><circle cx="416.0" cy="806.8" r="0.9"/><circle cx="416.8" cy="809.0" r="0.9"/><circle cx="414.2" cy="807.4" r="0.9"/><circle cx="422.6" cy="808.1" r="0.9"/><circle cx="426.8" cy="806.0" r="0.9"/><circle cx="425.2" cy="807.2" r="0.9"/><circle cx="413.6" cy="805.9" r="0.9"/><circle cx="426.3" cy="806.3" r="0.9"/><circle cx="401.6" cy="806.2" r="0.9"/><circle cx="413.0" cy="806.5" r="0.9"/><circle cx="411.0" cy="805.7" r="0.9"/><circle cx="412.6" cy="808.4" r="0.9"/><circle cx="432.7" cy="809.0" r="0.9"/><circle cx="402.0" cy="806.5" r="0.9"/><circle cx="412.0" cy="808.1" r="0.9"/><circle cx="433.1" cy="808.1" r="0.9"/><circle cx="409.7" cy="806.6" r="0.9"/><circle cx="415.1" cy="805.9" r="0.9"/><circle cx="432.8" cy="805.9" r="0.9"/><circle cx="423.6" cy="809.1" r="0.9"/><circle cx="424.5" cy="809.5" r="0.9"/><circle cx="416.3" cy="808.1" r="0.9"/><circle cx="429.8" cy="807.0" r="0.9"/><circle cx="418.4" cy="806.8" r="0.9"/><circle cx="426.2" cy="805.7" r="0.9"/><circle cx="421.7" cy="807.4" r="0.9"/><circle cx="409.3" cy="809.3" r="0.9"/><circle cx="419.0" cy="809.1" r="0.9"/><circle cx="418.1" cy="808.6" r="0.9"/><circle cx="419.9" cy="808.6" r="0.9"/><circle cx="407.0" cy="807.0" r="0.9"/><circle cx="423.8" cy="806.1" r="0.9"/><circle cx="429.1" cy="808.5" r="0.9"/><circle cx="417.8" cy="808.8" r="0.9"/><circle cx="432.1" cy="808.0" r="0.9"/><circle cx="434.2" cy="808.4" r="0.9"/><circle cx="407.5" cy="808.6" r="0.9"/><circle cx="408.2" cy="808.0" r="0.9"/><circle cx="403.9" cy="809.4" r="0.9"/><circle cx="413.4" cy="806.8" r="0.9"/><circle cx="423.2" cy="806.8" r="0.9"/><circle cx="431.2" cy="808.5" r="0.9"/><circle cx="417.5" cy="806.4" r="0.9"/><circle cx="417.4" cy="808.1" r="0.9"/><circle cx="403.6" cy="807.5" r="0.9"/><circle cx="429.0" cy="806.0" r="0.9"/><circle cx="406.0" cy="806.0" r="0.9"/><circle cx="405.5" cy="807.6" r="0.9"/><circle cx="407.2" cy="807.6" r="0.9"/><circle cx="442.3" cy="807.3" r="0.9"/><circle cx="416.4" cy="808.9" r="0.9"/><circle cx="407.2" cy="809.6" r="0.9"/><circle cx="399.1" cy="805.9" r="0.9"/><circle cx="420.1" cy="808.9" r="0.9"/><circle cx="426.5" cy="809.3" r="0.9"/><circle cx="420.0" cy="809.2" r="0.9"/><circle cx="431.7" cy="808.5" r="0.9"/><circle cx="404.8" cy="806.0" r="0.9"/><circle cx="427.7" cy="808.1" r="0.9"/><circle cx="415.9" cy="808.6" r="0.9"/><circle cx="415.2" cy="809.2" r="0.9"/><circle cx="427.9" cy="808.8" r="0.9"/><circle cx="423.3" cy="808.1" r="0.9"/><circle cx="417.2" cy="808.6" r="0.9"/><circle cx="436.6" cy="806.7" r="0.9"/><circle cx="412.8" cy="806.0" r="0.9"/><circle cx="422.3" cy="807.9" r="0.9"/><circle cx="426.2" cy="806.9" r="0.9"/><circle cx="421.0" cy="808.3" r="0.9"/><circle cx="422.1" cy="808.9" r="0.9"/><circle cx="428.3" cy="809.5" r="0.9"/><circle cx="428.1" cy="807.0" r="0.9"/><circle cx="413.3" cy="809.1" r="0.9"/><circle cx="421.0" cy="807.0" r="0.9"/><circle cx="398.6" cy="807.6" r="0.9"/><circle cx="422.0" cy="805.9" r="0.9"/><circle cx="416.4" cy="808.2" r="0.9"/><circle cx="424.5" cy="806.4" r="0.9"/><circle cx="416.0" cy="807.4" r="0.9"/><circle cx="421.7" cy="808.2" r="0.9"/><circle cx="403.0" cy="805.8" r="0.9"/><circle cx="423.0" cy="808.5" r="0.9"/><circle cx="433.1" cy="806.0" r="0.9"/><circle cx="426.8" cy="807.3" r="0.9"/><circle cx="423.6" cy="806.9" r="0.9"/><circle cx="420.3" cy="808.2" r="0.9"/><circle cx="422.1" cy="809.4" r="0.9"/><circle cx="400.1" cy="806.1" r="0.9"/><circle cx="397.9" cy="808.1" r="0.9"/><circle cx="402.6" cy="808.0" r="0.9"/><circle cx="435.5" cy="808.1" r="0.9"/><circle cx="443.7" cy="806.1" r="0.9"/><circle cx="402.7" cy="807.4" r="0.9"/><circle cx="431.2" cy="806.5" r="0.9"/><circle cx="425.9" cy="808.4" r="0.9"/><circle cx="417.1" cy="809.2" r="0.9"/><circle cx="419.2" cy="806.1" r="0.9"/><circle cx="416.3" cy="805.8" r="0.9"/><circle cx="432.4" cy="808.7" r="0.9"/><circle cx="416.7" cy="808.1" r="0.9"/><circle cx="412.1" cy="806.1" r="0.9"/><circle cx="412.8" cy="806.7" r="0.9"/><circle cx="417.0" cy="807.4" r="0.9"/><circle cx="401.2" cy="809.3" r="0.9"/><circle cx="413.2" cy="806.9" r="0.9"/><circle cx="413.2" cy="808.6" r="0.9"/><circle cx="424.6" cy="807.1" r="0.9"/><circle cx="419.9" cy="807.3" r="0.9"/><circle cx="425.6" cy="808.9" r="0.9"/><circle cx="426.4" cy="807.9" r="0.9"/><circle cx="417.6" cy="808.5" r="0.9"/><circle cx="430.3" cy="805.9" r="0.9"/><circle cx="409.2" cy="806.8" r="0.9"/><circle cx="420.6" cy="807.0" r="0.9"/><circle cx="423.0" cy="805.8" r="0.9"/><circle cx="432.9" cy="806.6" r="0.9"/><circle cx="417.3" cy="808.9" r="0.9"/><circle cx="425.6" cy="808.3" r="0.9"/><circle cx="422.9" cy="806.4" r="0.9"/><circle cx="413.8" cy="806.9" r="0.9"/><circle cx="416.8" cy="809.0" r="0.9"/><circle cx="420.8" cy="806.9" r="0.9"/><circle cx="418.3" cy="807.3" r="0.9"/><circle cx="429.1" cy="806.1" r="0.9"/><circle cx="418.4" cy="809.1" r="0.9"/><circle cx="420.6" cy="806.3" r="0.9"/><circle cx="428.2" cy="809.0" r="0.9"/><circle cx="427.8" cy="806.5" r="0.9"/><circle cx="426.4" cy="806.6" r="0.9"/><circle cx="437.0" cy="808.5" r="0.9"/><circle cx="417.4" cy="807.0" r="0.9"/><circle cx="450.8" cy="796.9" r="0.9"/><circle cx="415.6" cy="804.6" r="0.9"/><circle cx="434.4" cy="800.4" r="0.9"/><circle cx="424.5" cy="786.8" r="0.9"/><circle cx="442.1" cy="804.4" r="0.9"/><circle cx="419.8" cy="764.3" r="0.9"/><circle cx="417.5" cy="804.9" r="0.9"/><circle cx="417.8" cy="774.5" r="0.9"/><circle cx="425.6" cy="796.1" r="0.9"/><circle cx="401.1" cy="807.0" r="0.9"/><circle cx="429.3" cy="792.1" r="0.9"/><circle cx="416.1" cy="799.3" r="0.9"/><circle cx="405.4" cy="781.4" r="0.9"/><circle cx="421.1" cy="788.7" r="0.9"/><circle cx="401.5" cy="805.3" r="0.9"/><circle cx="434.5" cy="802.9" r="0.9"/><circle cx="418.4" cy="802.0" r="0.9"/><circle cx="423.4" cy="807.3" r="0.9"/><circle cx="441.7" cy="800.6" r="0.9"/><circle cx="415.7" cy="806.6" r="0.9"/><circle cx="418.3" cy="803.7" r="0.9"/><circle cx="440.6" cy="806.3" r="0.9"/><circle cx="405.9" cy="805.9" r="0.9"/><circle cx="427.0" cy="802.4" r="0.9"/><circle cx="401.4" cy="801.9" r="0.9"/><circle cx="413.1" cy="758.4" r="0.9"/><circle cx="419.3" cy="806.4" r="0.9"/><circle cx="440.0" cy="781.9" r="0.9"/><circle cx="412.9" cy="789.9" r="0.9"/><circle cx="417.9" cy="785.2" r="0.9"/><circle cx="437.0" cy="774.4" r="0.9"/><circle cx="438.1" cy="802.8" r="0.9"/><circle cx="424.8" cy="798.7" r="0.9"/><circle cx="401.5" cy="802.2" r="0.9"/><circle cx="411.5" cy="791.6" r="0.9"/><circle cx="440.4" cy="777.3" r="0.9"/><circle cx="434.2" cy="794.7" r="0.9"/><circle cx="426.5" cy="804.8" r="0.9"/><circle cx="445.2" cy="791.6" r="0.9"/><circle cx="423.3" cy="794.4" r="0.9"/><circle cx="413.6" cy="790.0" r="0.9"/><circle cx="431.2" cy="806.3" r="0.9"/><circle cx="416.8" cy="800.9" r="0.9"/><circle cx="401.5" cy="775.8" r="0.9"/><circle cx="403.1" cy="805.1" r="0.9"/><circle cx="401.7" cy="801.9" r="0.9"/><circle cx="416.3" cy="792.8" r="0.9"/><circle cx="433.6" cy="758.3" r="0.9"/><circle cx="439.9" cy="769.0" r="0.9"/><circle cx="407.5" cy="793.7" r="0.9"/><circle cx="419.6" cy="801.9" r="0.9"/><circle cx="414.8" cy="800.4" r="0.9"/><circle cx="440.4" cy="802.5" r="0.9"/><circle cx="435.9" cy="804.4" r="0.9"/><circle cx="433.0" cy="803.1" r="0.9"/><circle cx="427.3" cy="776.8" r="0.9"/><circle cx="411.5" cy="805.5" r="0.9"/><circle cx="410.5" cy="806.8" r="0.9"/><circle cx="413.7" cy="800.2" r="0.9"/><circle cx="404.7" cy="800.0" r="0.9"/><circle cx="397.9" cy="806.7" r="0.9"/><circle cx="433.9" cy="804.6" r="0.9"/><circle cx="422.9" cy="803.1" r="0.9"/><circle cx="410.0" cy="801.5" r="0.9"/><circle cx="414.2" cy="806.2" r="0.9"/><circle cx="439.4" cy="798.9" r="0.9"/><circle cx="417.6" cy="793.8" r="0.9"/><circle cx="409.3" cy="802.8" r="0.9"/><circle cx="416.0" cy="803.3" r="0.9"/><circle cx="416.1" cy="798.8" r="0.9"/><circle cx="409.8" cy="806.9" r="0.9"/><circle cx="411.4" cy="799.3" r="0.9"/><circle cx="426.3" cy="804.9" r="0.9"/><circle cx="412.8" cy="797.3" r="0.9"/><circle cx="420.6" cy="806.5" r="0.9"/><circle cx="425.5" cy="797.2" r="0.9"/><circle cx="435.2" cy="798.1" r="0.9"/><circle cx="406.1" cy="785.9" r="0.9"/><circle cx="425.5" cy="802.3" r="0.9"/><circle cx="412.3" cy="769.7" r="0.9"/><circle cx="436.1" cy="797.0" r="0.9"/><circle cx="413.9" cy="803.0" r="0.9"/><circle cx="429.0" cy="804.6" r="0.9"/><circle cx="425.8" cy="797.0" r="0.9"/><circle cx="410.5" cy="782.4" r="0.9"/><circle cx="406.0" cy="807.3" r="0.9"/><circle cx="421.5" cy="802.5" r="0.9"/><circle cx="425.3" cy="782.0" r="0.9"/><circle cx="398.9" cy="805.2" r="0.9"/><circle cx="424.3" cy="802.8" r="0.9"/><circle cx="423.0" cy="793.8" r="0.9"/><circle cx="410.5" cy="797.9" r="0.9"/><circle cx="418.4" cy="802.7" r="0.9"/><circle cx="417.6" cy="764.3" r="0.9"/><circle cx="426.8" cy="798.1" r="0.9"/><circle cx="415.4" cy="797.2" r="0.9"/><circle cx="407.0" cy="802.2" r="0.9"/><circle cx="418.5" cy="804.6" r="0.9"/><circle cx="429.8" cy="795.1" r="0.9"/><circle cx="425.1" cy="800.0" r="0.9"/><circle cx="423.1" cy="760.0" r="0.9"/><circle cx="423.5" cy="793.3" r="0.9"/><circle cx="402.5" cy="804.9" r="0.9"/><circle cx="417.7" cy="799.7" r="0.9"/><circle cx="419.9" cy="806.9" r="0.9"/><circle cx="424.6" cy="802.9" r="0.9"/><circle cx="424.0" cy="800.6" r="0.9"/><circle cx="421.0" cy="805.9" r="0.9"/><circle cx="424.7" cy="776.4" r="0.9"/><circle cx="446.4" cy="805.8" r="0.9"/><circle cx="417.5" cy="805.0" r="0.9"/><circle cx="421.5" cy="805.6" r="0.9"/><circle cx="418.5" cy="796.5" r="0.9"/><circle cx="446.7" cy="788.1" r="0.9"/><circle cx="413.9" cy="803.3" r="0.9"/><circle cx="417.1" cy="783.6" r="0.9"/><circle cx="421.6" cy="794.8" r="0.9"/><circle cx="399.0" cy="801.6" r="0.9"/><circle cx="407.8" cy="807.0" r="0.9"/><circle cx="427.9" cy="800.5" r="0.9"/><circle cx="438.5" cy="804.7" r="0.9"/><circle cx="411.9" cy="794.8" r="0.9"/><circle cx="420.9" cy="778.8" r="0.9"/><circle cx="419.0" cy="801.5" r="0.9"/><circle cx="421.1" cy="803.3" r="0.9"/><circle cx="418.5" cy="803.5" r="0.9"/><circle cx="423.6" cy="790.9" r="0.9"/><circle cx="437.2" cy="796.5" r="0.9"/><circle cx="425.0" cy="803.8" r="0.9"/><circle cx="416.8" cy="802.0" r="0.9"/><circle cx="425.2" cy="759.0" r="0.9"/><circle cx="401.1" cy="786.1" r="0.9"/><circle cx="400.7" cy="789.7" r="0.9"/><circle cx="416.3" cy="799.7" r="0.9"/><circle cx="409.9" cy="788.9" r="0.9"/><circle cx="398.8" cy="805.5" r="0.9"/><circle cx="438.5" cy="789.9" r="0.9"/><circle cx="423.5" cy="805.1" r="0.9"/><circle cx="432.0" cy="805.4" r="0.9"/><circle cx="403.7" cy="805.5" r="0.9"/><circle cx="410.8" cy="805.5" r="0.9"/><circle cx="406.0" cy="782.7" r="0.9"/><circle cx="424.9" cy="777.3" r="0.9"/><circle cx="442.2" cy="806.0" r="0.9"/><circle cx="415.4" cy="781.9" r="0.9"/><circle cx="405.6" cy="801.2" r="0.9"/><circle cx="412.6" cy="788.0" r="0.9"/><circle cx="424.6" cy="803.3" r="0.9"/><circle cx="422.7" cy="784.7" r="0.9"/><circle cx="418.3" cy="807.1" r="0.9"/><circle cx="415.1" cy="803.3" r="0.9"/><circle cx="416.2" cy="788.5" r="0.9"/><circle cx="422.3" cy="800.3" r="0.9"/><circle cx="421.0" cy="805.4" r="0.9"/><circle cx="416.9" cy="804.6" r="0.9"/><circle cx="421.1" cy="807.0" r="0.9"/><circle cx="417.6" cy="802.4" r="0.9"/><circle cx="402.4" cy="787.1" r="0.9"/><circle cx="435.2" cy="804.5" r="0.9"/><circle cx="419.4" cy="792.3" r="0.9"/><circle cx="408.7" cy="796.2" r="0.9"/><circle cx="432.2" cy="801.6" r="0.9"/><circle cx="425.8" cy="800.9" r="0.9"/><circle cx="402.7" cy="802.0" r="0.9"/><circle cx="413.7" cy="799.7" r="0.9"/><circle cx="428.5" cy="805.1" r="0.9"/><circle cx="404.0" cy="805.8" r="0.9"/><circle cx="416.0" cy="802.2" r="0.9"/><circle cx="449.2" cy="785.5" r="0.9"/><circle cx="438.1" cy="802.5" r="0.9"/><circle cx="415.9" cy="793.2" r="0.9"/><circle cx="419.6" cy="796.9" r="0.9"/><circle cx="413.2" cy="805.3" r="0.9"/><circle cx="404.5" cy="798.6" r="0.9"/><circle cx="403.7" cy="791.9" r="0.9"/><circle cx="427.9" cy="804.9" r="0.9"/><circle cx="413.7" cy="773.7" r="0.9"/><circle cx="426.7" cy="800.3" r="0.9"/><circle cx="429.6" cy="787.1" r="0.9"/><circle cx="413.8" cy="802.5" r="0.9"/><circle cx="419.9" cy="806.4" r="0.9"/><circle cx="409.4" cy="800.6" r="0.9"/><circle cx="427.7" cy="767.8" r="0.9"/><circle cx="412.9" cy="805.3" r="0.9"/><circle cx="418.5" cy="795.6" r="0.9"/><circle cx="407.7" cy="800.3" r="0.9"/><circle cx="418.8" cy="801.8" r="0.9"/><circle cx="413.0" cy="806.8" r="0.9"/><circle cx="405.5" cy="800.2" r="0.9"/><circle cx="420.0" cy="800.9" r="0.9"/><circle cx="435.9" cy="792.5" r="0.9"/><circle cx="439.3" cy="797.4" r="0.9"/><circle cx="415.6" cy="800.0" r="0.9"/><circle cx="434.7" cy="805.0" r="0.9"/><circle cx="432.7" cy="802.4" r="0.9"/><circle cx="411.9" cy="786.8" r="0.9"/><circle cx="415.3" cy="799.1" r="0.9"/><circle cx="422.5" cy="800.9" r="0.9"/><circle cx="419.6" cy="803.3" r="0.9"/><circle cx="404.5" cy="798.1" r="0.9"/><circle cx="412.1" cy="778.3" r="0.9"/><circle cx="409.2" cy="793.0" r="0.9"/><circle cx="424.2" cy="799.0" r="0.9"/><circle cx="416.8" cy="804.6" r="0.9"/><circle cx="446.9" cy="806.5" r="0.9"/><circle cx="413.8" cy="789.8" r="0.9"/><circle cx="409.0" cy="803.7" r="0.9"/><circle cx="410.8" cy="805.4" r="0.9"/><circle cx="398.7" cy="799.0" r="0.9"/><circle cx="428.0" cy="766.2" r="0.9"/><circle cx="424.6" cy="798.1" r="0.9"/><circle cx="405.7" cy="801.7" r="0.9"/><circle cx="438.9" cy="805.3" r="0.9"/><circle cx="407.5" cy="783.4" r="0.9"/><circle cx="415.0" cy="793.2" r="0.9"/><circle cx="409.8" cy="801.6" r="0.9"/><circle cx="415.1" cy="797.0" r="0.9"/><circle cx="406.7" cy="781.1" r="0.9"/><circle cx="430.6" cy="802.2" r="0.9"/><circle cx="411.3" cy="794.4" r="0.9"/><circle cx="417.3" cy="799.9" r="0.9"/><circle cx="415.3" cy="803.9" r="0.9"/><circle cx="415.7" cy="803.6" r="0.9"/><circle cx="414.2" cy="804.3" r="0.9"/><circle cx="417.1" cy="786.8" r="0.9"/><circle cx="435.2" cy="796.7" r="0.9"/><circle cx="407.7" cy="802.2" r="0.9"/><circle cx="403.8" cy="801.5" r="0.9"/><circle cx="415.3" cy="792.9" r="0.9"/><circle cx="413.4" cy="781.1" r="0.9"/><circle cx="423.2" cy="781.8" r="0.9"/><circle cx="417.0" cy="804.7" r="0.9"/><circle cx="431.4" cy="802.9" r="0.9"/><circle cx="432.1" cy="805.2" r="0.9"/><circle cx="408.4" cy="799.4" r="0.9"/><circle cx="410.7" cy="799.9" r="0.9"/><circle cx="404.5" cy="794.1" r="0.9"/><circle cx="406.1" cy="794.7" r="0.9"/><circle cx="426.3" cy="796.8" r="0.9"/><circle cx="408.0" cy="806.0" r="0.9"/><circle cx="431.5" cy="795.5" r="0.9"/><circle cx="426.5" cy="804.5" r="0.9"/><circle cx="429.6" cy="800.3" r="0.9"/><circle cx="417.5" cy="800.8" r="0.9"/><circle cx="426.8" cy="804.3" r="0.9"/><circle cx="418.7" cy="796.9" r="0.9"/><circle cx="412.9" cy="805.8" r="0.9"/><circle cx="428.4" cy="781.6" r="0.9"/><circle cx="405.3" cy="804.4" r="0.9"/><circle cx="425.6" cy="779.0" r="0.9"/><circle cx="434.6" cy="806.6" r="0.9"/><circle cx="431.5" cy="799.5" r="0.9"/><circle cx="418.5" cy="807.4" r="0.9"/><circle cx="450.9" cy="792.8" r="0.9"/><circle cx="460.1" cy="806.7" r="0.9"/><circle cx="414.4" cy="772.4" r="0.9"/><circle cx="422.0" cy="776.1" r="0.9"/><circle cx="427.6" cy="773.1" r="0.9"/><circle cx="434.3" cy="757.5" r="0.9"/><circle cx="426.5" cy="743.3" r="0.9"/><circle cx="405.4" cy="780.1" r="0.9"/><circle cx="424.0" cy="749.0" r="0.9"/><circle cx="417.1" cy="766.7" r="0.9"/><circle cx="406.2" cy="800.0" r="0.9"/><circle cx="432.2" cy="809.0" r="0.9"/><circle cx="457.2" cy="777.2" r="0.9"/><circle cx="440.0" cy="743.2" r="0.9"/><circle cx="429.2" cy="805.9" r="0.9"/><circle cx="422.5" cy="809.0" r="0.9"/><circle cx="429.2" cy="808.6" r="0.9"/><circle cx="424.0" cy="807.7" r="0.9"/><circle cx="405.1" cy="809.0" r="0.9"/><circle cx="454.2" cy="754.9" r="0.9"/><circle cx="400.4" cy="788.2" r="0.9"/></g>
<polygon points="398.8,803.8 420.5,799.8 460.8,789.3 460.8,796.3 420.5,801.4 398.8,805.8" fill="#9a9a9a" fill-opacity="0.45"/>
<line x1="398.8" y1="804.8" x2="460.8" y2="792.8" stroke="#3f6fe0" stroke-width="1.6" />
<g fill="#1a1a1a" fill-opacity="0.55"><circle cx="482.7" cy="807.8" r="0.9"/><circle cx="468.5" cy="807.3" r="0.9"/><circle cx="469.2" cy="806.7" r="0.9"/><circle cx="489.9" cy="806.4" r="0.9"/><circle cx="469.0" cy="807.3" r="0.9"/><circle cx="481.3" cy="807.6" r="0.9"/><circle cx="472.0" cy="806.6" r="0.9"/><circle cx="510.4" cy="806.8" r="0.9"/><circle cx="469.8" cy="808.1" r="0.9"/><circle cx="468.2" cy="805.8" r="0.9"/><circle cx="484.6" cy="807.1" r="0.9"/><circle cx="479.1" cy="809.6" r="0.9"/><circle cx="469.1" cy="806.0" r="0.9"/><circle cx="470.6" cy="806.6" r="0.9"/><circle cx="469.9" cy="807.0" r="0.9"/><circle cx="492.5" cy="809.1" r="0.9"/><circle cx="473.6" cy="807.9" r="0.9"/><circle cx="477.2" cy="807.7" r="0.9"/><circle cx="471.2" cy="809.2" r="0.9"/><circle cx="480.5" cy="808.1" r="0.9"/><circle cx="475.3" cy="806.4" r="0.9"/><circle cx="486.2" cy="807.9" r="0.9"/><circle cx="470.4" cy="806.9" r="0.9"/><circle cx="468.9" cy="806.8" r="0.9"/><circle cx="468.8" cy="808.2" r="0.9"/><circle cx="493.8" cy="806.1" r="0.9"/><circle cx="476.7" cy="805.9" r="0.9"/><circle cx="497.5" cy="805.7" r="0.9"/><circle cx="492.9" cy="807.8" r="0.9"/><circle cx="486.4" cy="807.6" r="0.9"/><circle cx="484.2" cy="809.2" r="0.9"/><circle cx="478.7" cy="808.0" r="0.9"/><circle cx="468.4" cy="809.1" r="0.9"/><circle cx="484.8" cy="808.7" r="0.9"/><circle cx="480.7" cy="806.8" r="0.9"/><circle cx="468.7" cy="809.5" r="0.9"/><circle cx="471.7" cy="807.7" r="0.9"/><circle cx="472.4" cy="807.3" r="0.9"/><circle cx="478.0" cy="809.2" r="0.9"/><circle cx="475.1" cy="807.5" r="0.9"/><circle cx="473.5" cy="809.2" r="0.9"/><circle cx="478.2" cy="807.8" r="0.9"/><circle cx="483.4" cy="809.4" r="0.9"/><circle cx="472.5" cy="807.9" r="0.9"/><circle cx="481.9" cy="807.4" r="0.9"/><circle cx="471.1" cy="806.7" r="0.9"/><circle cx="479.0" cy="805.9" r="0.9"/><circle cx="472.0" cy="807.1" r="0.9"/><circle cx="489.8" cy="806.0" r="0.9"/><circle cx="471.8" cy="809.2" r="0.9"/><circle cx="472.9" cy="807.8" r="0.9"/><circle cx="478.9" cy="806.8" r="0.9"/><circle cx="470.1" cy="809.3" r="0.9"/><circle cx="480.6" cy="805.8" r="0.9"/><circle cx="497.1" cy="808.4" r="0.9"/><circle cx="478.8" cy="806.7" r="0.9"/><circle cx="476.8" cy="807.6" r="0.9"/><circle cx="479.1" cy="806.7" r="0.9"/><circle cx="489.0" cy="809.0" r="0.9"/><circle cx="473.4" cy="806.6" r="0.9"/><circle cx="485.6" cy="809.1" r="0.9"/><circle cx="476.3" cy="807.5" r="0.9"/><circle cx="490.5" cy="807.2" r="0.9"/><circle cx="493.7" cy="807.2" r="0.9"/><circle cx="487.4" cy="807.7" r="0.9"/><circle cx="471.8" cy="808.7" r="0.9"/><circle cx="482.4" cy="808.2" r="0.9"/><circle cx="479.1" cy="806.6" r="0.9"/><circle cx="469.4" cy="808.5" r="0.9"/><circle cx="469.4" cy="808.9" r="0.9"/><circle cx="471.5" cy="808.6" r="0.9"/><circle cx="507.9" cy="806.0" r="0.9"/><circle cx="482.7" cy="806.0" r="0.9"/><circle cx="498.5" cy="809.1" r="0.9"/><circle cx="470.5" cy="806.4" r="0.9"/><circle cx="476.1" cy="808.5" r="0.9"/><circle cx="470.1" cy="807.7" r="0.9"/><circle cx="471.0" cy="806.4" r="0.9"/><circle cx="479.7" cy="805.7" r="0.9"/><circle cx="482.4" cy="807.2" r="0.9"/><circle cx="500.6" cy="809.1" r="0.9"/><circle cx="470.1" cy="808.5" r="0.9"/><circle cx="503.4" cy="806.7" r="0.9"/><circle cx="468.5" cy="808.2" r="0.9"/><circle cx="469.6" cy="806.1" r="0.9"/><circle cx="487.1" cy="806.6" r="0.9"/><circle cx="468.9" cy="807.1" r="0.9"/><circle cx="475.7" cy="809.3" r="0.9"/><circle cx="475.3" cy="808.2" r="0.9"/><circle cx="472.7" cy="807.0" r="0.9"/><circle cx="471.5" cy="808.9" r="0.9"/><circle cx="481.9" cy="808.9" r="0.9"/><circle cx="476.2" cy="807.4" r="0.9"/><circle cx="485.0" cy="806.1" r="0.9"/><circle cx="479.7" cy="808.0" r="0.9"/><circle cx="475.2" cy="805.8" r="0.9"/><circle cx="508.1" cy="808.3" r="0.9"/><circle cx="480.8" cy="806.1" r="0.9"/><circle cx="476.8" cy="807.5" r="0.9"/><circle cx="482.4" cy="806.5" r="0.9"/><circle cx="484.8" cy="808.0" r="0.9"/><circle cx="491.6" cy="808.6" r="0.9"/><circle cx="469.0" cy="807.8" r="0.9"/><circle cx="483.2" cy="806.8" r="0.9"/><circle cx="477.0" cy="808.7" r="0.9"/><circle cx="481.2" cy="806.8" r="0.9"/><circle cx="472.6" cy="805.8" r="0.9"/><circle cx="472.2" cy="806.5" r="0.9"/><circle cx="483.7" cy="807.1" r="0.9"/><circle cx="469.7" cy="809.1" r="0.9"/><circle cx="509.9" cy="806.0" r="0.9"/><circle cx="479.5" cy="808.9" r="0.9"/><circle cx="475.1" cy="808.0" r="0.9"/><circle cx="476.8" cy="807.0" r="0.9"/><circle cx="475.9" cy="808.3" r="0.9"/><circle cx="468.8" cy="808.5" r="0.9"/><circle cx="479.4" cy="808.7" r="0.9"/><circle cx="468.5" cy="807.0" r="0.9"/><circle cx="480.1" cy="807.2" r="0.9"/><circle cx="469.2" cy="809.3" r="0.9"/><circle cx="468.2" cy="809.2" r="0.9"/><circle cx="483.8" cy="807.4" r="0.9"/><circle cx="475.1" cy="807.0" r="0.9"/><circle cx="485.1" cy="808.5" r="0.9"/><circle cx="476.4" cy="809.6" r="0.9"/><circle cx="480.0" cy="806.0" r="0.9"/><circle cx="482.1" cy="808.4" r="0.9"/><circle cx="487.4" cy="807.5" r="0.9"/><circle cx="468.0" cy="808.3" r="0.9"/><circle cx="472.5" cy="809.1" r="0.9"/><circle cx="488.6" cy="808.4" r="0.9"/><circle cx="481.4" cy="807.6" r="0.9"/><circle cx="470.2" cy="806.1" r="0.9"/><circle cx="485.1" cy="807.7" r="0.9"/><circle cx="468.2" cy="807.4" r="0.9"/><circle cx="477.0" cy="808.9" r="0.9"/><circle cx="497.8" cy="807.0" r="0.9"/><circle cx="470.5" cy="807.1" r="0.9"/><circle cx="474.2" cy="806.8" r="0.9"/><circle cx="486.6" cy="806.2" r="0.9"/><circle cx="495.7" cy="809.6" r="0.9"/><circle cx="483.1" cy="808.5" r="0.9"/><circle cx="475.6" cy="809.3" r="0.9"/><circle cx="489.6" cy="806.2" r="0.9"/><circle cx="485.7" cy="805.7" r="0.9"/><circle cx="490.8" cy="807.7" r="0.9"/><circle cx="495.5" cy="808.1" r="0.9"/><circle cx="487.2" cy="806.5" r="0.9"/><circle cx="483.6" cy="807.8" r="0.9"/><circle cx="474.7" cy="807.5" r="0.9"/><circle cx="471.7" cy="803.0" r="0.9"/><circle cx="470.1" cy="790.3" r="0.9"/><circle cx="469.9" cy="805.4" r="0.9"/><circle cx="475.5" cy="780.5" r="0.9"/><circle cx="476.3" cy="803.4" r="0.9"/><circle cx="477.0" cy="802.9" r="0.9"/><circle cx="487.4" cy="778.0" r="0.9"/><circle cx="485.7" cy="788.6" r="0.9"/><circle cx="470.5" cy="779.9" r="0.9"/><circle cx="473.4" cy="805.5" r="0.9"/><circle cx="468.8" cy="806.9" r="0.9"/><circle cx="479.3" cy="797.0" r="0.9"/><circle cx="468.8" cy="805.4" r="0.9"/><circle cx="493.1" cy="796.7" r="0.9"/><circle cx="471.4" cy="804.1" r="0.9"/><circle cx="469.5" cy="803.7" r="0.9"/><circle cx="471.2" cy="780.9" r="0.9"/><circle cx="488.4" cy="805.5" r="0.9"/><circle cx="470.8" cy="803.6" r="0.9"/><circle cx="479.3" cy="805.1" r="0.9"/><circle cx="468.0" cy="799.9" r="0.9"/><circle cx="469.3" cy="805.9" r="0.9"/><circle cx="471.9" cy="801.3" r="0.9"/><circle cx="477.2" cy="780.4" r="0.9"/><circle cx="469.1" cy="763.2" r="0.9"/><circle cx="480.7" cy="804.5" r="0.9"/><circle cx="474.5" cy="793.1" r="0.9"/><circle cx="483.8" cy="794.9" r="0.9"/><circle cx="487.2" cy="803.4" r="0.9"/><circle cx="468.9" cy="778.8" r="0.9"/><circle cx="469.3" cy="799.8" r="0.9"/><circle cx="489.5" cy="783.2" r="0.9"/><circle cx="496.9" cy="801.6" r="0.9"/><circle cx="473.6" cy="778.3" r="0.9"/><circle cx="474.0" cy="799.4" r="0.9"/><circle cx="481.2" cy="799.6" r="0.9"/><circle cx="480.9" cy="805.4" r="0.9"/><circle cx="487.4" cy="795.5" r="0.9"/><circle cx="480.1" cy="806.1" r="0.9"/><circle cx="470.0" cy="784.2" r="0.9"/><circle cx="487.2" cy="799.1" r="0.9"/><circle cx="469.3" cy="806.4" r="0.9"/><circle cx="472.6" cy="806.4" r="0.9"/><circle cx="477.7" cy="802.8" r="0.9"/><circle cx="476.3" cy="806.6" r="0.9"/><circle cx="477.2" cy="805.9" r="0.9"/><circle cx="482.6" cy="804.7" r="0.9"/><circle cx="472.6" cy="801.5" r="0.9"/><circle cx="477.0" cy="805.4" r="0.9"/><circle cx="478.5" cy="794.2" r="0.9"/><circle cx="483.4" cy="776.4" r="0.9"/><circle cx="474.9" cy="791.1" r="0.9"/><circle cx="482.2" cy="796.0" r="0.9"/><circle cx="471.4" cy="802.9" r="0.9"/><circle cx="479.7" cy="791.0" r="0.9"/><circle cx="474.1" cy="796.5" r="0.9"/><circle cx="489.8" cy="806.8" r="0.9"/><circle cx="473.6" cy="800.2" r="0.9"/><circle cx="472.5" cy="804.8" r="0.9"/><circle cx="477.1" cy="798.1" r="0.9"/><circle cx="474.1" cy="800.5" r="0.9"/><circle cx="492.2" cy="806.7" r="0.9"/><circle cx="472.9" cy="806.0" r="0.9"/><circle cx="469.2" cy="805.4" r="0.9"/><circle cx="470.0" cy="789.0" r="0.9"/><circle cx="474.6" cy="803.0" r="0.9"/><circle cx="488.9" cy="805.4" r="0.9"/><circle cx="470.7" cy="800.6" r="0.9"/><circle cx="481.4" cy="782.0" r="0.9"/><circle cx="471.5" cy="799.2" r="0.9"/><circle cx="473.5" cy="800.6" r="0.9"/><circle cx="484.1" cy="800.7" r="0.9"/><circle cx="480.4" cy="786.0" r="0.9"/><circle cx="482.3" cy="771.1" r="0.9"/><circle cx="489.2" cy="796.2" r="0.9"/><circle cx="473.3" cy="791.8" r="0.9"/><circle cx="470.7" cy="789.5" r="0.9"/><circle cx="475.5" cy="801.8" r="0.9"/><circle cx="487.7" cy="805.9" r="0.9"/><circle cx="470.6" cy="804.2" r="0.9"/><circle cx="474.8" cy="790.4" r="0.9"/><circle cx="471.7" cy="804.3" r="0.9"/><circle cx="471.2" cy="799.3" r="0.9"/><circle cx="479.3" cy="796.2" r="0.9"/><circle cx="469.6" cy="796.6" r="0.9"/><circle cx="476.0" cy="805.5" r="0.9"/><circle cx="468.7" cy="805.7" r="0.9"/><circle cx="488.8" cy="802.1" r="0.9"/><circle cx="480.0" cy="805.4" r="0.9"/><circle cx="478.4" cy="803.0" r="0.9"/><circle cx="480.9" cy="800.6" r="0.9"/><circle cx="469.7" cy="807.0" r="0.9"/><circle cx="468.5" cy="798.0" r="0.9"/><circle cx="473.7" cy="805.7" r="0.9"/><circle cx="471.0" cy="794.3" r="0.9"/><circle cx="474.0" cy="797.1" r="0.9"/><circle cx="470.7" cy="804.2" r="0.9"/><circle cx="478.1" cy="799.7" r="0.9"/><circle cx="473.8" cy="805.7" r="0.9"/><circle cx="470.7" cy="797.8" r="0.9"/><circle cx="471.3" cy="805.4" r="0.9"/><circle cx="485.5" cy="806.3" r="0.9"/><circle cx="489.4" cy="799.9" r="0.9"/><circle cx="478.1" cy="807.1" r="0.9"/><circle cx="478.5" cy="804.9" r="0.9"/><circle cx="481.3" cy="790.1" r="0.9"/><circle cx="482.7" cy="799.1" r="0.9"/><circle cx="468.5" cy="805.3" r="0.9"/><circle cx="483.0" cy="805.9" r="0.9"/><circle cx="469.2" cy="793.8" r="0.9"/><circle cx="485.9" cy="790.0" r="0.9"/><circle cx="471.2" cy="797.5" r="0.9"/><circle cx="472.3" cy="790.2" r="0.9"/><circle cx="468.6" cy="789.2" r="0.9"/><circle cx="471.4" cy="791.1" r="0.9"/><circle cx="495.3" cy="806.2" r="0.9"/><circle cx="469.5" cy="803.5" r="0.9"/><circle cx="469.3" cy="805.0" r="0.9"/><circle cx="471.5" cy="806.8" r="0.9"/><circle cx="481.7" cy="774.9" r="0.9"/><circle cx="472.5" cy="803.1" r="0.9"/><circle cx="485.6" cy="783.3" r="0.9"/><circle cx="481.0" cy="793.5" r="0.9"/><circle cx="473.2" cy="799.3" r="0.9"/><circle cx="475.1" cy="791.8" r="0.9"/><circle cx="470.3" cy="797.8" r="0.9"/><circle cx="502.9" cy="801.3" r="0.9"/><circle cx="476.1" cy="794.3" r="0.9"/><circle cx="473.9" cy="797.7" r="0.9"/><circle cx="477.7" cy="804.4" r="0.9"/><circle cx="504.6" cy="797.3" r="0.9"/><circle cx="468.9" cy="795.1" r="0.9"/><circle cx="470.7" cy="788.3" r="0.9"/><circle cx="488.5" cy="801.4" r="0.9"/><circle cx="484.0" cy="804.5" r="0.9"/><circle cx="475.0" cy="806.8" r="0.9"/><circle cx="474.1" cy="797.5" r="0.9"/><circle cx="481.3" cy="788.7" r="0.9"/><circle cx="468.8" cy="802.1" r="0.9"/><circle cx="475.2" cy="805.6" r="0.9"/><circle cx="468.8" cy="796.2" r="0.9"/><circle cx="481.9" cy="806.2" r="0.9"/><circle cx="474.2" cy="800.2" r="0.9"/><circle cx="480.0" cy="805.4" r="0.9"/><circle cx="476.3" cy="775.6" r="0.9"/><circle cx="481.1" cy="777.7" r="0.9"/><circle cx="471.6" cy="800.2" r="0.9"/><circle cx="471.7" cy="804.2" r="0.9"/><circle cx="468.9" cy="796.0" r="0.9"/><circle cx="472.7" cy="797.0" r="0.9"/><circle cx="469.3" cy="760.3" r="0.9"/><circle cx="476.6" cy="799.5" r="0.9"/><circle cx="470.9" cy="779.9" r="0.9"/><circle cx="476.5" cy="795.1" r="0.9"/><circle cx="473.8" cy="801.8" r="0.9"/><circle cx="468.3" cy="807.0" r="0.9"/><circle cx="473.2" cy="806.1" r="0.9"/><circle cx="488.3" cy="805.1" r="0.9"/><circle cx="485.1" cy="805.6" r="0.9"/><circle cx="494.4" cy="802.1" r="0.9"/><circle cx="471.6" cy="799.3" r="0.9"/><circle cx="468.7" cy="806.6" r="0.9"/><circle cx="472.5" cy="751.1" r="0.9"/><circle cx="477.6" cy="801.7" r="0.9"/><circle cx="471.3" cy="803.8" r="0.9"/><circle cx="478.2" cy="805.6" r="0.9"/><circle cx="475.4" cy="803.1" r="0.9"/><circle cx="484.8" cy="804.8" r="0.9"/><circle cx="488.5" cy="803.9" r="0.9"/><circle cx="473.0" cy="804.2" r="0.9"/><circle cx="486.3" cy="799.6" r="0.9"/><circle cx="493.8" cy="806.6" r="0.9"/><circle cx="478.5" cy="807.1" r="0.9"/><circle cx="485.5" cy="804.0" r="0.9"/><circle cx="474.9" cy="805.4" r="0.9"/><circle cx="479.7" cy="767.0" r="0.9"/><circle cx="469.8" cy="795.9" r="0.9"/><circle cx="475.4" cy="765.6" r="0.9"/><circle cx="468.6" cy="807.1" r="0.9"/><circle cx="470.3" cy="805.0" r="0.9"/><circle cx="483.5" cy="806.1" r="0.9"/><circle cx="494.1" cy="796.7" r="0.9"/><circle cx="469.3" cy="784.9" r="0.9"/><circle cx="470.6" cy="803.7" r="0.9"/><circle cx="483.0" cy="799.7" r="0.9"/><circle cx="483.1" cy="797.8" r="0.9"/><circle cx="483.7" cy="805.7" r="0.9"/><circle cx="473.9" cy="790.6" r="0.9"/><circle cx="470.6" cy="797.3" r="0.9"/><circle cx="485.2" cy="771.3" r="0.9"/><circle cx="477.1" cy="803.0" r="0.9"/><circle cx="484.7" cy="807.2" r="0.9"/><circle cx="472.4" cy="806.9" r="0.9"/><circle cx="468.0" cy="798.6" r="0.9"/><circle cx="481.0" cy="805.0" r="0.9"/><circle cx="468.6" cy="807.1" r="0.9"/><circle cx="474.0" cy="803.2" r="0.9"/><circle cx="477.7" cy="804.3" r="0.9"/><circle cx="501.3" cy="770.4" r="0.9"/><circle cx="499.7" cy="805.2" r="0.9"/><circle cx="470.3" cy="801.3" r="0.9"/><circle cx="474.8" cy="800.6" r="0.9"/><circle cx="476.4" cy="804.9" r="0.9"/><circle cx="487.3" cy="791.7" r="0.9"/><circle cx="469.7" cy="806.5" r="0.9"/><circle cx="484.8" cy="806.0" r="0.9"/><circle cx="478.5" cy="804.6" r="0.9"/><circle cx="496.4" cy="796.7" r="0.9"/><circle cx="469.2" cy="805.9" r="0.9"/><circle cx="492.2" cy="805.1" r="0.9"/><circle cx="485.0" cy="803.0" r="0.9"/><circle cx="475.1" cy="795.8" r="0.9"/><circle cx="476.7" cy="804.2" r="0.9"/><circle cx="482.7" cy="801.7" r="0.9"/><circle cx="492.8" cy="805.2" r="0.9"/><circle cx="483.8" cy="792.6" r="0.9"/><circle cx="475.1" cy="795.8" r="0.9"/><circle cx="470.3" cy="806.4" r="0.9"/><circle cx="481.6" cy="804.9" r="0.9"/><circle cx="489.1" cy="795.5" r="0.9"/><circle cx="487.6" cy="800.7" r="0.9"/><circle cx="494.7" cy="802.9" r="0.9"/><circle cx="474.8" cy="783.8" r="0.9"/><circle cx="474.5" cy="803.0" r="0.9"/><circle cx="487.0" cy="793.7" r="0.9"/><circle cx="480.5" cy="805.3" r="0.9"/><circle cx="487.5" cy="802.4" r="0.9"/><circle cx="498.2" cy="799.4" r="0.9"/><circle cx="478.7" cy="802.5" r="0.9"/><circle cx="483.9" cy="802.7" r="0.9"/><circle cx="475.4" cy="803.4" r="0.9"/><circle cx="483.1" cy="792.4" r="0.9"/><circle cx="487.5" cy="805.6" r="0.9"/><circle cx="473.5" cy="787.8" r="0.9"/><circle cx="473.0" cy="806.3" r="0.9"/><circle cx="478.1" cy="805.0" r="0.9"/><circle cx="476.7" cy="791.5" r="0.9"/><circle cx="500.1" cy="807.0" r="0.9"/><circle cx="483.3" cy="801.5" r="0.9"/><circle cx="468.8" cy="799.6" r="0.9"/><circle cx="522.2" cy="806.1" r="0.9"/><circle cx="530.1" cy="807.5" r="0.9"/><circle cx="479.4" cy="796.3" r="0.9"/><circle cx="487.4" cy="806.6" r="0.9"/><circle cx="486.7" cy="804.5" r="0.9"/><circle cx="526.5" cy="807.4" r="0.9"/><circle cx="478.1" cy="805.7" r="0.9"/><circle cx="518.6" cy="789.1" r="0.9"/><circle cx="500.1" cy="808.4" r="0.9"/><circle cx="505.4" cy="805.9" r="0.9"/><circle cx="488.2" cy="775.6" r="0.9"/><circle cx="496.0" cy="800.3" r="0.9"/><circle cx="473.8" cy="764.0" r="0.9"/><circle cx="529.8" cy="806.4" r="0.9"/><circle cx="507.9" cy="806.7" r="0.9"/><circle cx="519.8" cy="787.9" r="0.9"/></g>
<polygon points="469.3,802.2 490.5,797.8 530.0,784.6 530.0,795.6 490.5,799.4 469.3,804.2" fill="#9a9a9a" fill-opacity="0.45"/>
<line x1="469.3" y1="803.2" x2="530.0" y2="790.1" stroke="#3f6fe0" stroke-width="1.6" />
</svg></body></html>
